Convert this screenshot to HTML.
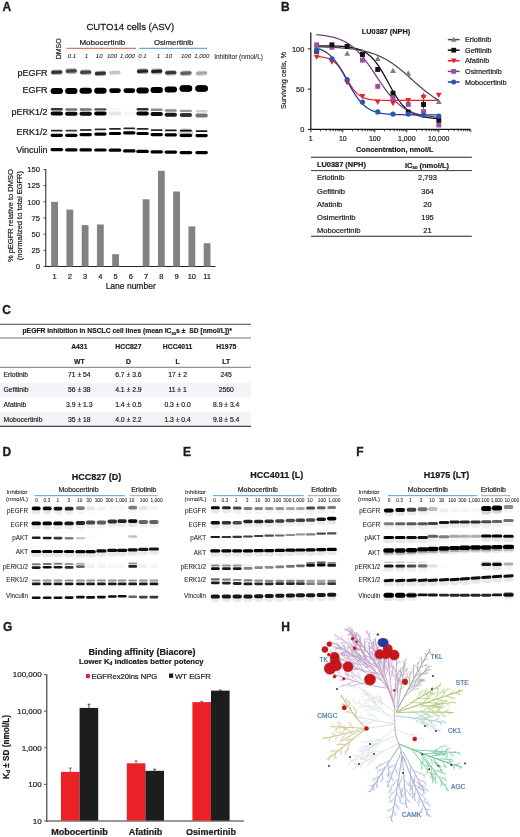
<!DOCTYPE html>
<html lang="en">
<head>
<meta charset="utf-8">
<title>Mobocertinib activity figure</title>
<style>
html,body{margin:0;padding:0;background:#fff;}
body{width:520px;height:837px;overflow:hidden;font-family:"Liberation Sans", sans-serif;}
#figure{position:relative;width:520px;height:837px;background:#fff;overflow:hidden;}
#figure svg{position:absolute;left:0;top:0;display:block;}
text{white-space:pre;stroke-width:.027em;}
</style>
</head>
<body>
<div id="figure">
<svg width="520" height="837" viewBox="0 0 520 837" font-family='"Liberation Sans", sans-serif'>
<defs>
<filter id="blurA" x="-5%" y="-5%" width="110%" height="110%"><feGaussianBlur stdDeviation="0.65"/></filter>
<filter id="blurD" x="-5%" y="-5%" width="110%" height="110%"><feGaussianBlur stdDeviation="0.6"/></filter>
<filter id="blurT" x="-5%" y="-5%" width="110%" height="110%"><feGaussianBlur stdDeviation="0.35"/></filter>
</defs>
<g id="panel-a">
<text x="2.40" y="11.12" font-size="12" font-weight="bold" text-anchor="start" fill="#1c1c1c" stroke="#1c1c1c">A</text>
<text x="130.30" y="30.16" font-size="9.6" text-anchor="middle" fill="#1c1c1c" stroke="#1c1c1c">CUTO14 cells (ASV)</text>
<text x="58.60" y="51.32" font-size="7" text-anchor="middle" fill="#1c1c1c" stroke="#1c1c1c" transform="rotate(-90 58.60 48.80)">DMSO</text>
<text x="102.30" y="45.38" font-size="8" text-anchor="middle" fill="#1c1c1c" stroke="#1c1c1c">Mobocertinib</text>
<text x="173.60" y="45.31" font-size="7.8" text-anchor="middle" fill="#1c1c1c" stroke="#1c1c1c">Osimertinib</text>
<line x1="66.50" y1="48.30" x2="136.00" y2="48.30" stroke="#d9534f" stroke-width="1"/>
<line x1="139.50" y1="48.30" x2="207.00" y2="48.30" stroke="#3d9bc4" stroke-width="1"/>
<text x="72.00" y="58.46" font-size="6.0" font-style="italic" text-anchor="middle" fill="#1c1c1c" stroke="#1c1c1c" style="stroke-width:0.06px">0.1</text>
<text x="86.30" y="58.46" font-size="6.0" font-style="italic" text-anchor="middle" fill="#1c1c1c" stroke="#1c1c1c" style="stroke-width:0.06px">1</text>
<text x="99.20" y="58.46" font-size="6.0" font-style="italic" text-anchor="middle" fill="#1c1c1c" stroke="#1c1c1c" style="stroke-width:0.06px">10</text>
<text x="112.00" y="58.46" font-size="6.0" font-style="italic" text-anchor="middle" fill="#1c1c1c" stroke="#1c1c1c" style="stroke-width:0.06px">100</text>
<text x="127.40" y="58.46" font-size="6.0" font-style="italic" text-anchor="middle" fill="#1c1c1c" stroke="#1c1c1c" style="stroke-width:0.06px">1,000</text>
<text x="142.50" y="58.46" font-size="6.0" font-style="italic" text-anchor="middle" fill="#1c1c1c" stroke="#1c1c1c" style="stroke-width:0.06px">0.1</text>
<text x="158.30" y="58.46" font-size="6.0" font-style="italic" text-anchor="middle" fill="#1c1c1c" stroke="#1c1c1c" style="stroke-width:0.06px">1</text>
<text x="168.70" y="58.46" font-size="6.0" font-style="italic" text-anchor="middle" fill="#1c1c1c" stroke="#1c1c1c" style="stroke-width:0.06px">10</text>
<text x="186.00" y="58.46" font-size="6.0" font-style="italic" text-anchor="middle" fill="#1c1c1c" stroke="#1c1c1c" style="stroke-width:0.06px">100</text>
<text x="201.80" y="58.46" font-size="6.0" font-style="italic" text-anchor="middle" fill="#1c1c1c" stroke="#1c1c1c" style="stroke-width:0.06px">1,000</text>
<text x="214.20" y="58.84" font-size="6.5" text-anchor="start" fill="#1c1c1c" stroke="#1c1c1c" style="stroke-width:0.06px">Inhibitor (nmol/L)</text>
<text x="47.50" y="75.74" font-size="9" text-anchor="end" fill="#1c1c1c" stroke="#1c1c1c">pEGFR</text>
<text x="47.50" y="92.84" font-size="9" text-anchor="end" fill="#1c1c1c" stroke="#1c1c1c">EGFR</text>
<text x="47.50" y="114.54" font-size="9" text-anchor="end" fill="#1c1c1c" stroke="#1c1c1c">pERK1/2</text>
<text x="47.50" y="135.14" font-size="9" text-anchor="end" fill="#1c1c1c" stroke="#1c1c1c">ERK1/2</text>
<text x="47.50" y="152.64" font-size="9" text-anchor="end" fill="#1c1c1c" stroke="#1c1c1c">Vinculin</text>
<g filter="url(#blurA)">
<rect x="51.00" y="69.50" width="11.60" height="5.60" rx="2.80" fill="#000" fill-opacity="0.30"/><rect x="65.50" y="68.30" width="11.60" height="5.60" rx="2.80" fill="#000" fill-opacity="0.30"/><rect x="79.90" y="69.50" width="11.60" height="5.60" rx="2.80" fill="#000" fill-opacity="0.30"/><rect x="94.60" y="70.70" width="11.60" height="5.60" rx="2.80" fill="#000" fill-opacity="0.30"/><rect x="109.20" y="69.90" width="11.60" height="5.60" rx="2.80" fill="#000" fill-opacity="0.08"/><rect x="136.80" y="68.50" width="11.60" height="5.60" rx="2.80" fill="#000" fill-opacity="0.35"/><rect x="150.90" y="68.60" width="11.60" height="5.60" rx="2.80" fill="#000" fill-opacity="0.35"/><rect x="165.00" y="70.00" width="11.60" height="5.60" rx="2.80" fill="#000" fill-opacity="0.30"/><rect x="180.10" y="70.40" width="11.60" height="5.60" rx="2.80" fill="#000" fill-opacity="0.25"/><rect x="195.80" y="70.40" width="11.60" height="5.60" rx="2.80" fill="#000" fill-opacity="0.12"/>
<rect x="51.20" y="70.60" width="11.20" height="3.20" rx="1.60" fill="#000" fill-opacity="0.72" transform="rotate(-3 56.8 72.2)"/><rect x="65.70" y="69.40" width="11.20" height="3.20" rx="1.60" fill="#000" fill-opacity="0.62" transform="rotate(-3 71.3 71.0)"/><rect x="80.10" y="70.60" width="11.20" height="3.20" rx="1.60" fill="#000" fill-opacity="0.64" transform="rotate(-3 85.7 72.2)"/><rect x="94.80" y="71.80" width="11.20" height="3.20" rx="1.60" fill="#000" fill-opacity="0.72" transform="rotate(-3 100.4 73.4)"/><rect x="109.40" y="71.00" width="11.20" height="3.20" rx="1.60" fill="#000" fill-opacity="0.16" transform="rotate(-3 115.0 72.6)"/><rect x="137.00" y="69.60" width="11.20" height="3.20" rx="1.60" fill="#000" fill-opacity="0.78" transform="rotate(-3 142.6 71.2)"/><rect x="151.10" y="69.70" width="11.20" height="3.20" rx="1.60" fill="#000" fill-opacity="0.82" transform="rotate(-3 156.7 71.3)"/><rect x="165.20" y="71.10" width="11.20" height="3.20" rx="1.60" fill="#000" fill-opacity="0.72" transform="rotate(-3 170.8 72.7)"/><rect x="180.30" y="71.50" width="11.20" height="3.20" rx="1.60" fill="#000" fill-opacity="0.50" transform="rotate(-3 185.9 73.1)"/><rect x="196.00" y="71.50" width="11.20" height="3.20" rx="1.60" fill="#000" fill-opacity="0.26" transform="rotate(-3 201.6 73.1)"/>
<rect x="50.60" y="88.00" width="12.40" height="6.00" rx="3.00" fill="#000" fill-opacity="1.00"/><rect x="65.10" y="87.90" width="12.40" height="6.00" rx="3.00" fill="#000" fill-opacity="1.00"/><rect x="79.50" y="87.80" width="12.40" height="6.00" rx="3.00" fill="#000" fill-opacity="1.00"/><rect x="94.20" y="87.80" width="12.40" height="6.00" rx="3.00" fill="#000" fill-opacity="1.00"/><rect x="136.40" y="87.40" width="12.40" height="6.00" rx="3.00" fill="#000" fill-opacity="1.00"/><rect x="150.50" y="87.10" width="12.40" height="6.00" rx="3.00" fill="#000" fill-opacity="1.00"/><rect x="164.60" y="86.50" width="12.40" height="6.00" rx="3.00" fill="#000" fill-opacity="1.00"/><rect x="179.70" y="85.40" width="12.40" height="6.00" rx="3.00" fill="#000" fill-opacity="1.00"/><rect x="195.40" y="85.60" width="12.40" height="6.00" rx="3.00" fill="#000" fill-opacity="1.00"/>
<rect x="109.20" y="88.30" width="11.60" height="4.60" rx="2.30" fill="#000" fill-opacity="1.00"/><rect x="123.50" y="88.30" width="11.60" height="4.60" rx="2.30" fill="#000" fill-opacity="1.00"/>
<rect x="179.60" y="85.20" width="12.60" height="6.60" rx="3.30" fill="#000" fill-opacity="1.00"/><rect x="195.30" y="85.20" width="12.60" height="6.60" rx="3.30" fill="#000" fill-opacity="1.00"/>
<rect x="50.80" y="108.10" width="12.00" height="2.40" rx="1.20" fill="#000" fill-opacity="0.78"/><rect x="65.30" y="108.30" width="12.00" height="2.40" rx="1.20" fill="#000" fill-opacity="0.55"/><rect x="79.70" y="108.30" width="12.00" height="2.40" rx="1.20" fill="#000" fill-opacity="0.55"/><rect x="94.40" y="108.20" width="12.00" height="2.40" rx="1.20" fill="#000" fill-opacity="0.70"/><rect x="109.00" y="108.10" width="12.00" height="2.40" rx="1.20" fill="#000" fill-opacity="0.04"/><rect x="136.60" y="108.10" width="12.00" height="2.40" rx="1.20" fill="#000" fill-opacity="0.80"/><rect x="150.70" y="108.60" width="12.00" height="2.40" rx="1.20" fill="#000" fill-opacity="0.45"/><rect x="164.80" y="109.30" width="12.00" height="2.40" rx="1.20" fill="#000" fill-opacity="0.45"/><rect x="179.90" y="109.70" width="12.00" height="2.40" rx="1.20" fill="#000" fill-opacity="0.40"/><rect x="195.60" y="110.00" width="12.00" height="2.40" rx="1.20" fill="#000" fill-opacity="0.18"/>
<rect x="50.60" y="111.50" width="12.40" height="4.00" rx="2.00" fill="#000" fill-opacity="1.00"/><rect x="65.10" y="111.70" width="12.40" height="4.00" rx="2.00" fill="#000" fill-opacity="0.95"/><rect x="79.50" y="111.70" width="12.40" height="4.00" rx="2.00" fill="#000" fill-opacity="0.95"/><rect x="94.20" y="111.60" width="12.40" height="4.00" rx="2.00" fill="#000" fill-opacity="1.00"/><rect x="108.80" y="111.50" width="12.40" height="4.00" rx="2.00" fill="#000" fill-opacity="0.10"/><rect x="123.10" y="111.50" width="12.40" height="4.00" rx="2.00" fill="#000" fill-opacity="0.03"/><rect x="136.40" y="111.50" width="12.40" height="4.00" rx="2.00" fill="#000" fill-opacity="1.00"/><rect x="150.50" y="112.00" width="12.40" height="4.00" rx="2.00" fill="#000" fill-opacity="0.95"/><rect x="164.60" y="112.70" width="12.40" height="4.00" rx="2.00" fill="#000" fill-opacity="0.90"/><rect x="179.70" y="113.10" width="12.40" height="4.00" rx="2.00" fill="#000" fill-opacity="0.80"/><rect x="195.40" y="113.40" width="12.40" height="4.00" rx="2.00" fill="#000" fill-opacity="0.55"/>
<rect x="50.90" y="129.70" width="11.80" height="1.80" rx="0.90" fill="#000" fill-opacity="0.85"/><rect x="65.40" y="129.70" width="11.80" height="1.80" rx="0.90" fill="#000" fill-opacity="0.78"/><rect x="79.80" y="129.10" width="11.80" height="1.80" rx="0.90" fill="#000" fill-opacity="0.75"/><rect x="94.50" y="128.40" width="11.80" height="1.80" rx="0.90" fill="#000" fill-opacity="0.82"/><rect x="109.10" y="128.00" width="11.80" height="1.80" rx="0.90" fill="#000" fill-opacity="0.85"/><rect x="123.40" y="127.40" width="11.80" height="1.80" rx="0.90" fill="#000" fill-opacity="0.85"/><rect x="136.70" y="128.00" width="11.80" height="1.80" rx="0.90" fill="#000" fill-opacity="0.85"/><rect x="150.80" y="129.30" width="11.80" height="1.80" rx="0.90" fill="#000" fill-opacity="0.85"/><rect x="164.90" y="129.50" width="11.80" height="1.80" rx="0.90" fill="#000" fill-opacity="0.90"/><rect x="180.00" y="129.70" width="11.80" height="1.80" rx="0.90" fill="#000" fill-opacity="1.00"/><rect x="195.70" y="130.20" width="11.80" height="1.80" rx="0.90" fill="#000" fill-opacity="0.90"/>
<rect x="50.60" y="133.70" width="12.40" height="3.20" rx="1.60" fill="#000" fill-opacity="1.00"/><rect x="65.10" y="133.70" width="12.40" height="3.20" rx="1.60" fill="#000" fill-opacity="1.00"/><rect x="79.50" y="133.00" width="12.40" height="3.20" rx="1.60" fill="#000" fill-opacity="1.00"/><rect x="94.20" y="132.50" width="12.40" height="3.20" rx="1.60" fill="#000" fill-opacity="1.00"/><rect x="108.80" y="131.90" width="12.40" height="3.20" rx="1.60" fill="#000" fill-opacity="1.00"/><rect x="123.10" y="131.20" width="12.40" height="3.20" rx="1.60" fill="#000" fill-opacity="1.00"/><rect x="136.40" y="131.90" width="12.40" height="3.20" rx="1.60" fill="#000" fill-opacity="1.00"/><rect x="150.50" y="133.00" width="12.40" height="3.20" rx="1.60" fill="#000" fill-opacity="1.00"/><rect x="164.60" y="133.20" width="12.40" height="3.20" rx="1.60" fill="#000" fill-opacity="1.00"/><rect x="179.70" y="133.80" width="12.40" height="3.20" rx="1.60" fill="#000" fill-opacity="1.00"/><rect x="195.40" y="134.00" width="12.40" height="3.20" rx="1.60" fill="#000" fill-opacity="1.00"/>
<rect x="178.40" y="128.50" width="15.00" height="9.00" rx="4.50" fill="#000" fill-opacity="0.18"/>
<rect x="50.50" y="148.00" width="12.60" height="3.20" rx="1.60" fill="#000" fill-opacity="1.00"/><rect x="65.00" y="148.20" width="12.60" height="3.20" rx="1.60" fill="#000" fill-opacity="1.00"/><rect x="79.40" y="148.30" width="12.60" height="3.20" rx="1.60" fill="#000" fill-opacity="1.00"/><rect x="94.10" y="148.40" width="12.60" height="3.20" rx="1.60" fill="#000" fill-opacity="1.00"/><rect x="108.70" y="148.60" width="12.60" height="3.20" rx="1.60" fill="#000" fill-opacity="1.00"/><rect x="123.00" y="149.30" width="12.60" height="3.20" rx="1.60" fill="#000" fill-opacity="1.00"/><rect x="136.30" y="149.80" width="12.60" height="3.20" rx="1.60" fill="#000" fill-opacity="1.00"/><rect x="150.40" y="150.20" width="12.60" height="3.20" rx="1.60" fill="#000" fill-opacity="1.00"/><rect x="164.50" y="150.50" width="12.60" height="3.20" rx="1.60" fill="#000" fill-opacity="1.00"/><rect x="179.60" y="151.00" width="12.60" height="3.20" rx="1.60" fill="#000" fill-opacity="1.00"/><rect x="195.30" y="151.00" width="12.60" height="3.20" rx="1.60" fill="#000" fill-opacity="1.00"/>
</g>
<line x1="45.80" y1="169.00" x2="45.80" y2="267.00" stroke="#222" stroke-width="1"/>
<line x1="45.30" y1="266.50" x2="215.50" y2="266.50" stroke="#222" stroke-width="1"/>
<line x1="43.60" y1="266.50" x2="45.80" y2="266.50" stroke="#222" stroke-width="0.8"/>
<text x="40.00" y="269.24" font-size="7.6" text-anchor="end" fill="#1c1c1c" stroke="#1c1c1c">0</text>
<line x1="43.60" y1="250.33" x2="45.80" y2="250.33" stroke="#222" stroke-width="0.8"/>
<text x="40.00" y="253.07" font-size="7.6" text-anchor="end" fill="#1c1c1c" stroke="#1c1c1c">25</text>
<line x1="43.60" y1="234.17" x2="45.80" y2="234.17" stroke="#222" stroke-width="0.8"/>
<text x="40.00" y="236.90" font-size="7.6" text-anchor="end" fill="#1c1c1c" stroke="#1c1c1c">50</text>
<line x1="43.60" y1="218.00" x2="45.80" y2="218.00" stroke="#222" stroke-width="0.8"/>
<text x="40.00" y="220.74" font-size="7.6" text-anchor="end" fill="#1c1c1c" stroke="#1c1c1c">75</text>
<line x1="43.60" y1="201.83" x2="45.80" y2="201.83" stroke="#222" stroke-width="0.8"/>
<text x="40.00" y="204.57" font-size="7.6" text-anchor="end" fill="#1c1c1c" stroke="#1c1c1c">100</text>
<line x1="43.60" y1="185.67" x2="45.80" y2="185.67" stroke="#222" stroke-width="0.8"/>
<text x="40.00" y="188.40" font-size="7.6" text-anchor="end" fill="#1c1c1c" stroke="#1c1c1c">125</text>
<line x1="43.60" y1="169.50" x2="45.80" y2="169.50" stroke="#222" stroke-width="0.8"/>
<text x="40.00" y="172.24" font-size="7.6" text-anchor="end" fill="#1c1c1c" stroke="#1c1c1c">150</text>
<rect x="51.20" y="201.83" width="6.80" height="64.67" fill="#828282"/>
<text x="54.60" y="278.50" font-size="7.5" text-anchor="middle" fill="#1c1c1c" stroke="#1c1c1c">1</text>
<rect x="66.45" y="209.59" width="6.80" height="56.91" fill="#828282"/>
<text x="69.85" y="278.50" font-size="7.5" text-anchor="middle" fill="#1c1c1c" stroke="#1c1c1c">2</text>
<rect x="81.70" y="225.11" width="6.80" height="41.39" fill="#828282"/>
<text x="85.10" y="278.50" font-size="7.5" text-anchor="middle" fill="#1c1c1c" stroke="#1c1c1c">3</text>
<rect x="96.95" y="224.47" width="6.80" height="42.03" fill="#828282"/>
<text x="100.35" y="278.50" font-size="7.5" text-anchor="middle" fill="#1c1c1c" stroke="#1c1c1c">4</text>
<rect x="112.20" y="254.21" width="6.80" height="12.29" fill="#828282"/>
<text x="115.60" y="278.50" font-size="7.5" text-anchor="middle" fill="#1c1c1c" stroke="#1c1c1c">5</text>
<text x="130.85" y="278.50" font-size="7.5" text-anchor="middle" fill="#1c1c1c" stroke="#1c1c1c">6</text>
<rect x="142.70" y="199.25" width="6.80" height="67.25" fill="#828282"/>
<text x="146.10" y="278.50" font-size="7.5" text-anchor="middle" fill="#1c1c1c" stroke="#1c1c1c">7</text>
<rect x="157.95" y="170.79" width="6.80" height="95.71" fill="#828282"/>
<text x="161.35" y="278.50" font-size="7.5" text-anchor="middle" fill="#1c1c1c" stroke="#1c1c1c">8</text>
<rect x="173.20" y="191.49" width="6.80" height="75.01" fill="#828282"/>
<text x="176.60" y="278.50" font-size="7.5" text-anchor="middle" fill="#1c1c1c" stroke="#1c1c1c">9</text>
<rect x="188.45" y="226.41" width="6.80" height="40.09" fill="#828282"/>
<text x="191.85" y="278.50" font-size="7.5" text-anchor="middle" fill="#1c1c1c" stroke="#1c1c1c">10</text>
<rect x="203.70" y="243.22" width="6.80" height="23.28" fill="#828282"/>
<text x="207.10" y="278.50" font-size="7.5" text-anchor="middle" fill="#1c1c1c" stroke="#1c1c1c">11</text>
<text x="130.70" y="289.26" font-size="8.5" text-anchor="middle" fill="#1c1c1c" stroke="#1c1c1c">Lane number</text>
<text x="10.30" y="218.30" font-size="7.5" text-anchor="middle" fill="#1c1c1c" stroke="#1c1c1c" transform="rotate(-90 10.30 215.60)">% pEGFR relative to DMSO</text>
<text x="19.80" y="218.30" font-size="7.5" text-anchor="middle" fill="#1c1c1c" stroke="#1c1c1c" transform="rotate(-90 19.80 215.60)">(normalized to total EGFR)</text>
</g>
<g id="panel-b">
<text x="281.00" y="11.12" font-size="12" font-weight="bold" text-anchor="start" fill="#1c1c1c" stroke="#1c1c1c">B</text>
<text x="386.00" y="33.63" font-size="7.3" font-weight="bold" text-anchor="middle" fill="#1c1c1c" stroke="#1c1c1c">LU0387 (NPH)</text>
<line x1="310.80" y1="32.50" x2="310.80" y2="130.00" stroke="#111" stroke-width="1.2"/>
<line x1="310.20" y1="129.40" x2="470.50" y2="129.40" stroke="#111" stroke-width="1.2"/>
<line x1="307.80" y1="129.40" x2="310.80" y2="129.40" stroke="#111" stroke-width="1"/>
<text x="304.30" y="132.06" font-size="7.4" text-anchor="end" fill="#1c1c1c" stroke="#1c1c1c">0</text>
<line x1="307.80" y1="89.15" x2="310.80" y2="89.15" stroke="#111" stroke-width="1"/>
<text x="304.30" y="91.81" font-size="7.4" text-anchor="end" fill="#1c1c1c" stroke="#1c1c1c">50</text>
<line x1="307.80" y1="48.90" x2="310.80" y2="48.90" stroke="#111" stroke-width="1"/>
<text x="304.30" y="51.56" font-size="7.4" text-anchor="end" fill="#1c1c1c" stroke="#1c1c1c">100</text>
<line x1="310.80" y1="129.40" x2="310.80" y2="132.40" stroke="#111" stroke-width="0.85"/>
<line x1="320.43" y1="129.40" x2="320.43" y2="131.30" stroke="#111" stroke-width="0.85"/>
<line x1="326.07" y1="129.40" x2="326.07" y2="131.30" stroke="#111" stroke-width="0.85"/>
<line x1="330.07" y1="129.40" x2="330.07" y2="131.30" stroke="#111" stroke-width="0.85"/>
<line x1="333.17" y1="129.40" x2="333.17" y2="131.30" stroke="#111" stroke-width="0.85"/>
<line x1="335.70" y1="129.40" x2="335.70" y2="131.30" stroke="#111" stroke-width="0.85"/>
<line x1="337.84" y1="129.40" x2="337.84" y2="131.30" stroke="#111" stroke-width="0.85"/>
<line x1="339.70" y1="129.40" x2="339.70" y2="131.30" stroke="#111" stroke-width="0.85"/>
<line x1="341.34" y1="129.40" x2="341.34" y2="131.30" stroke="#111" stroke-width="0.85"/>
<line x1="342.80" y1="129.40" x2="342.80" y2="132.40" stroke="#111" stroke-width="0.85"/>
<line x1="352.43" y1="129.40" x2="352.43" y2="131.30" stroke="#111" stroke-width="0.85"/>
<line x1="358.07" y1="129.40" x2="358.07" y2="131.30" stroke="#111" stroke-width="0.85"/>
<line x1="362.07" y1="129.40" x2="362.07" y2="131.30" stroke="#111" stroke-width="0.85"/>
<line x1="365.17" y1="129.40" x2="365.17" y2="131.30" stroke="#111" stroke-width="0.85"/>
<line x1="367.70" y1="129.40" x2="367.70" y2="131.30" stroke="#111" stroke-width="0.85"/>
<line x1="369.84" y1="129.40" x2="369.84" y2="131.30" stroke="#111" stroke-width="0.85"/>
<line x1="371.70" y1="129.40" x2="371.70" y2="131.30" stroke="#111" stroke-width="0.85"/>
<line x1="373.34" y1="129.40" x2="373.34" y2="131.30" stroke="#111" stroke-width="0.85"/>
<line x1="374.80" y1="129.40" x2="374.80" y2="132.40" stroke="#111" stroke-width="0.85"/>
<line x1="384.43" y1="129.40" x2="384.43" y2="131.30" stroke="#111" stroke-width="0.85"/>
<line x1="390.07" y1="129.40" x2="390.07" y2="131.30" stroke="#111" stroke-width="0.85"/>
<line x1="394.07" y1="129.40" x2="394.07" y2="131.30" stroke="#111" stroke-width="0.85"/>
<line x1="397.17" y1="129.40" x2="397.17" y2="131.30" stroke="#111" stroke-width="0.85"/>
<line x1="399.70" y1="129.40" x2="399.70" y2="131.30" stroke="#111" stroke-width="0.85"/>
<line x1="401.84" y1="129.40" x2="401.84" y2="131.30" stroke="#111" stroke-width="0.85"/>
<line x1="403.70" y1="129.40" x2="403.70" y2="131.30" stroke="#111" stroke-width="0.85"/>
<line x1="405.34" y1="129.40" x2="405.34" y2="131.30" stroke="#111" stroke-width="0.85"/>
<line x1="406.80" y1="129.40" x2="406.80" y2="132.40" stroke="#111" stroke-width="0.85"/>
<line x1="416.43" y1="129.40" x2="416.43" y2="131.30" stroke="#111" stroke-width="0.85"/>
<line x1="422.07" y1="129.40" x2="422.07" y2="131.30" stroke="#111" stroke-width="0.85"/>
<line x1="426.07" y1="129.40" x2="426.07" y2="131.30" stroke="#111" stroke-width="0.85"/>
<line x1="429.17" y1="129.40" x2="429.17" y2="131.30" stroke="#111" stroke-width="0.85"/>
<line x1="431.70" y1="129.40" x2="431.70" y2="131.30" stroke="#111" stroke-width="0.85"/>
<line x1="433.84" y1="129.40" x2="433.84" y2="131.30" stroke="#111" stroke-width="0.85"/>
<line x1="435.70" y1="129.40" x2="435.70" y2="131.30" stroke="#111" stroke-width="0.85"/>
<line x1="437.34" y1="129.40" x2="437.34" y2="131.30" stroke="#111" stroke-width="0.85"/>
<line x1="438.80" y1="129.40" x2="438.80" y2="132.40" stroke="#111" stroke-width="0.85"/>
<line x1="448.43" y1="129.40" x2="448.43" y2="131.30" stroke="#111" stroke-width="0.85"/>
<line x1="454.07" y1="129.40" x2="454.07" y2="131.30" stroke="#111" stroke-width="0.85"/>
<line x1="458.07" y1="129.40" x2="458.07" y2="131.30" stroke="#111" stroke-width="0.85"/>
<line x1="461.17" y1="129.40" x2="461.17" y2="131.30" stroke="#111" stroke-width="0.85"/>
<line x1="463.70" y1="129.40" x2="463.70" y2="131.30" stroke="#111" stroke-width="0.85"/>
<line x1="465.84" y1="129.40" x2="465.84" y2="131.30" stroke="#111" stroke-width="0.85"/>
<line x1="467.70" y1="129.40" x2="467.70" y2="131.30" stroke="#111" stroke-width="0.85"/>
<line x1="469.34" y1="129.40" x2="469.34" y2="131.30" stroke="#111" stroke-width="0.85"/>
<line x1="470.80" y1="129.40" x2="470.80" y2="132.40" stroke="#111" stroke-width="0.7"/>
<text x="310.80" y="140.72" font-size="7" text-anchor="middle" fill="#1c1c1c" stroke="#1c1c1c">1</text>
<text x="342.80" y="140.72" font-size="7" text-anchor="middle" fill="#1c1c1c" stroke="#1c1c1c">10</text>
<text x="374.80" y="140.72" font-size="7" text-anchor="middle" fill="#1c1c1c" stroke="#1c1c1c">100</text>
<text x="406.80" y="140.72" font-size="7" text-anchor="middle" fill="#1c1c1c" stroke="#1c1c1c">1,000</text>
<text x="438.80" y="140.72" font-size="7" text-anchor="middle" fill="#1c1c1c" stroke="#1c1c1c">10,000</text>
<text x="394.70" y="152.43" font-size="7.3" font-weight="bold" text-anchor="middle" fill="#1c1c1c" stroke="#1c1c1c">Concentration, nmol/L</text>
<text x="283.70" y="83.13" font-size="7.3" text-anchor="middle" fill="#1c1c1c" stroke="#1c1c1c" transform="rotate(-90 283.70 80.50)">Surviving cells, %</text>
<polyline points="316.43,46.86 318.47,46.90 320.51,46.95 322.55,47.00 324.59,47.06 326.63,47.13 328.67,47.20 330.71,47.29 332.75,47.38 334.79,47.48 336.83,47.60 338.87,47.72 340.91,47.86 342.95,48.02 344.99,48.19 347.03,48.39 349.07,48.60 351.11,48.84 353.14,49.10 355.18,49.39 357.22,49.72 359.26,50.07 361.30,50.46 363.34,50.90 365.38,51.37 367.42,51.89 369.46,52.47 371.50,53.10 373.54,53.78 375.58,54.53 377.62,55.34 379.66,56.22 381.70,57.17 383.74,58.19 385.78,59.30 387.81,60.47 389.85,61.73 391.89,63.06 393.93,64.47 395.97,65.96 398.01,67.51 400.05,69.13 402.09,70.80 404.13,72.53 406.17,74.30 408.21,76.10 410.25,77.92 412.29,79.76 414.33,81.60 416.37,83.42 418.41,85.23 420.45,87.00 422.48,88.74 424.52,90.42 426.56,92.05 428.60,93.61 430.64,95.10 432.68,96.52 434.72,97.87 436.76,99.13 438.80,100.32" fill="none" stroke="#4a4a4a" stroke-width="1.25"/>
<polyline points="316.43,45.73 318.47,45.75 320.51,45.76 322.55,45.78 324.59,45.80 326.63,45.83 328.67,45.86 330.71,45.91 332.75,45.96 334.79,46.02 336.83,46.10 338.87,46.19 340.91,46.31 342.95,46.45 344.99,46.62 347.03,46.83 349.07,47.09 351.11,47.41 353.14,47.79 355.18,48.25 357.22,48.81 359.26,49.49 361.30,50.30 363.34,51.28 365.38,52.44 367.42,53.81 369.46,55.41 371.50,57.28 373.54,59.43 375.58,61.88 377.62,64.61 379.66,67.64 381.70,70.92 383.74,74.42 385.78,78.08 387.81,81.82 389.85,85.57 391.89,89.26 393.93,92.80 395.97,96.15 398.01,99.24 400.05,102.06 402.09,104.58 404.13,106.80 406.17,108.74 408.21,110.41 410.25,111.84 412.29,113.05 414.33,114.07 416.37,114.93 418.41,115.64 420.45,116.23 422.48,116.72 424.52,117.12 426.56,117.45 428.60,117.72 430.64,117.94 432.68,118.12 434.72,118.27 436.76,118.40 438.80,118.50" fill="none" stroke="#111" stroke-width="1.25"/>
<polyline points="316.43,56.52 318.47,56.67 320.51,56.86 322.55,57.13 324.59,57.49 326.63,57.99 328.67,58.65 330.71,59.53 332.75,60.69 334.79,62.19 336.83,64.07 338.87,66.40 340.91,69.16 342.95,72.30 344.99,75.74 347.03,79.30 349.07,82.81 351.11,86.09 353.14,89.03 355.18,91.54 357.22,93.62 359.26,95.28 361.30,96.57 363.34,97.56 365.38,98.32 367.42,98.88 369.46,99.29 371.50,99.60 373.54,99.82 375.58,99.98 377.62,100.10 379.66,100.19 381.70,100.25 383.74,100.30 385.78,100.33 387.81,100.36 389.85,100.37 391.89,100.39 393.93,100.40 395.97,100.40 398.01,100.41 400.05,100.41 402.09,100.41 404.13,100.42 406.17,100.42 408.21,100.42 410.25,100.42 412.29,100.42 414.33,100.42 416.37,100.42 418.41,100.42 420.45,100.42 422.48,100.42 424.52,100.42 426.56,100.42 428.60,100.42 430.64,100.42 432.68,100.42 434.72,100.42 436.76,100.42 438.80,100.42" fill="none" stroke="#e8212b" stroke-width="1.25"/>
<polyline points="316.43,34.74 318.47,34.92 320.51,35.12 322.55,35.36 324.59,35.63 326.63,35.94 328.67,36.30 330.71,36.71 332.75,37.18 334.79,37.71 336.83,38.33 338.87,39.02 340.91,39.82 342.95,40.72 344.99,41.73 347.03,42.88 349.07,44.16 351.11,45.59 353.14,47.18 355.18,48.94 357.22,50.87 359.26,52.97 361.30,55.25 363.34,57.69 365.38,60.30 367.42,63.05 369.46,65.92 371.50,68.90 373.54,71.95 375.58,75.04 377.62,78.14 379.66,81.21 381.70,84.23 383.74,87.16 385.78,89.98 387.81,92.66 389.85,95.20 391.89,97.56 393.93,99.76 395.97,101.78 398.01,103.63 400.05,105.31 402.09,106.83 404.13,108.19 406.17,109.40 408.21,110.49 410.25,111.45 412.29,112.30 414.33,113.05 416.37,113.70 418.41,114.28 420.45,114.78 422.48,115.23 424.52,115.61 426.56,115.95 428.60,116.24 430.64,116.49 432.68,116.71 434.72,116.90 436.76,117.07 438.80,117.21" fill="none" stroke="#7a3a8a" stroke-width="1.25"/>
<polyline points="316.43,48.15 318.47,48.73 320.51,49.45 322.55,50.31 324.59,51.36 326.63,52.62 328.67,54.12 330.71,55.89 332.75,57.95 334.79,60.34 336.83,63.04 338.87,66.06 340.91,69.36 342.95,72.90 344.99,76.60 347.03,80.40 349.07,84.19 351.11,87.89 353.14,91.42 355.18,94.71 357.22,97.71 359.26,100.39 361.30,102.76 363.34,104.81 365.38,106.56 367.42,108.05 369.46,109.29 371.50,110.33 373.54,111.19 375.58,111.89 377.62,112.47 379.66,112.94 381.70,113.32 383.74,113.63 385.78,113.88 387.81,114.08 389.85,114.24 391.89,114.37 393.93,114.48 395.97,114.56 398.01,114.63 400.05,114.69 402.09,114.73 404.13,114.77 406.17,114.79 408.21,114.82 410.25,114.84 412.29,114.85 414.33,114.86 416.37,114.87 418.41,114.88 420.45,114.89 422.48,114.89 424.52,114.89 426.56,114.90 428.60,114.90 430.64,114.90 432.68,114.90 434.72,114.90 436.76,114.91 438.80,114.91" fill="none" stroke="#1f3f8f" stroke-width="1.25"/>
<line x1="438.80" y1="115.72" x2="438.80" y2="124.57" stroke="#111" stroke-width="0.9"/>
<line x1="423.53" y1="100.42" x2="423.53" y2="108.47" stroke="#111" stroke-width="0.9"/>
<polygon points="316.66,43.59 319.56,48.80 313.76,48.80" fill="#7d7d7d"/>
<polygon points="331.92,42.78 334.82,48.00 329.02,48.00" fill="#7d7d7d"/>
<polygon points="347.19,50.43 350.09,55.65 344.29,55.65" fill="#7d7d7d"/>
<polygon points="362.46,48.41 365.36,53.63 359.56,53.63" fill="#7d7d7d"/>
<polygon points="377.73,55.66 380.63,60.88 374.83,60.88" fill="#7d7d7d"/>
<polygon points="393.00,67.73 395.90,72.95 390.10,72.95" fill="#7d7d7d"/>
<polygon points="408.26,70.55 411.16,75.77 405.36,75.77" fill="#7d7d7d"/>
<polygon points="423.53,92.29 426.43,97.51 420.63,97.51" fill="#7d7d7d"/>
<polygon points="438.80,98.73 441.70,103.95 435.90,103.95" fill="#7d7d7d"/>
<rect x="314.19" y="42.41" width="4.93" height="4.93" fill="#9a4fa6"/>
<rect x="329.46" y="44.83" width="4.93" height="4.93" fill="#9a4fa6"/>
<rect x="344.73" y="44.02" width="4.93" height="4.93" fill="#9a4fa6"/>
<rect x="360.00" y="57.70" width="4.93" height="4.93" fill="#9a4fa6"/>
<rect x="375.26" y="83.87" width="4.93" height="4.93" fill="#9a4fa6"/>
<rect x="390.53" y="95.94" width="4.93" height="4.93" fill="#9a4fa6"/>
<rect x="405.80" y="101.98" width="4.93" height="4.93" fill="#9a4fa6"/>
<rect x="421.07" y="109.22" width="4.93" height="4.93" fill="#9a4fa6"/>
<rect x="436.34" y="122.51" width="4.93" height="4.93" fill="#9a4fa6"/>
<rect x="314.19" y="48.85" width="4.93" height="4.93" fill="#111"/>
<rect x="329.46" y="42.41" width="4.93" height="4.93" fill="#111"/>
<rect x="344.73" y="44.02" width="4.93" height="4.93" fill="#111"/>
<rect x="360.00" y="52.07" width="4.93" height="4.93" fill="#111"/>
<rect x="375.26" y="66.96" width="4.93" height="4.93" fill="#111"/>
<rect x="390.53" y="90.71" width="4.93" height="4.93" fill="#111"/>
<rect x="405.80" y="109.63" width="4.93" height="4.93" fill="#111"/>
<rect x="421.07" y="101.98" width="4.93" height="4.93" fill="#111"/>
<rect x="436.34" y="117.68" width="4.93" height="4.93" fill="#111"/>
<polygon points="316.66,59.85 319.56,54.63 313.76,54.63" fill="#e8212b"/>
<polygon points="331.92,64.68 334.82,59.46 329.02,59.46" fill="#e8212b"/>
<polygon points="347.19,85.61 350.09,80.39 344.29,80.39" fill="#e8212b"/>
<polygon points="362.46,99.30 365.36,94.08 359.56,94.08" fill="#e8212b"/>
<polygon points="377.73,104.93 380.63,99.71 374.83,99.71" fill="#e8212b"/>
<polygon points="393.00,106.14 395.90,100.92 390.10,100.92" fill="#e8212b"/>
<polygon points="408.26,103.32 411.16,98.10 405.36,98.10" fill="#e8212b"/>
<polygon points="423.53,100.10 426.43,94.88 420.63,94.88" fill="#e8212b"/>
<polygon points="438.80,98.09 441.70,92.87 435.90,92.87" fill="#e8212b"/>
<circle cx="316.66" cy="50.51" r="2.61" fill="#2a57b5"/>
<circle cx="331.92" cy="58.96" r="2.61" fill="#2a57b5"/>
<circle cx="347.19" cy="79.49" r="2.61" fill="#2a57b5"/>
<circle cx="362.46" cy="102.03" r="2.61" fill="#2a57b5"/>
<circle cx="377.73" cy="111.93" r="2.61" fill="#2a57b5"/>
<circle cx="393.00" cy="114.11" r="2.61" fill="#2a57b5"/>
<circle cx="408.26" cy="114.11" r="2.61" fill="#2a57b5"/>
<circle cx="423.53" cy="115.31" r="2.61" fill="#2a57b5"/>
<circle cx="438.80" cy="116.12" r="2.61" fill="#2a57b5"/>
<line x1="447.80" y1="39.60" x2="459.60" y2="39.60" stroke="#4a4a4a" stroke-width="1.5"/>
<polygon points="453.70,36.80 456.50,41.84 450.90,41.84" fill="#7d7d7d"/>
<text x="465.00" y="42.21" font-size="7.25" text-anchor="start" fill="#1c1c1c" stroke="#1c1c1c">Erlotinib</text>
<line x1="447.80" y1="50.20" x2="459.60" y2="50.20" stroke="#111" stroke-width="1.5"/>
<rect x="451.32" y="47.82" width="4.76" height="4.76" fill="#111"/>
<text x="465.00" y="52.81" font-size="7.25" text-anchor="start" fill="#1c1c1c" stroke="#1c1c1c">Gefitinib</text>
<line x1="447.80" y1="60.80" x2="459.60" y2="60.80" stroke="#e8212b" stroke-width="1.5"/>
<polygon points="453.70,63.60 456.50,58.56 450.90,58.56" fill="#e8212b"/>
<text x="465.00" y="63.41" font-size="7.25" text-anchor="start" fill="#1c1c1c" stroke="#1c1c1c">Afatinib</text>
<line x1="447.80" y1="71.40" x2="459.60" y2="71.40" stroke="#7a3a8a" stroke-width="1.5"/>
<rect x="451.32" y="69.02" width="4.76" height="4.76" fill="#9a4fa6"/>
<text x="465.00" y="74.01" font-size="7.25" text-anchor="start" fill="#1c1c1c" stroke="#1c1c1c">Osimertinib</text>
<line x1="447.80" y1="82.00" x2="459.60" y2="82.00" stroke="#1f3f8f" stroke-width="1.5"/>
<circle cx="453.70" cy="82.00" r="2.52" fill="#2a57b5"/>
<text x="465.00" y="84.61" font-size="7.25" text-anchor="start" fill="#1c1c1c" stroke="#1c1c1c">Mobocertinib</text>
<line x1="311.00" y1="157.30" x2="471.80" y2="157.30" stroke="#222" stroke-width="1.1"/>
<line x1="311.00" y1="170.60" x2="471.80" y2="170.60" stroke="#222" stroke-width="0.9"/>
<line x1="311.00" y1="236.30" x2="471.80" y2="236.30" stroke="#222" stroke-width="1.1"/>
<text x="317.00" y="167.46" font-size="7.4" font-weight="bold" text-anchor="start" fill="#1c1c1c" stroke="#1c1c1c">LU0387 (NPH)</text>
<text x="405" y="167.5" font-size="7.5" font-weight="bold" fill="#1c1c1c" stroke="#1c1c1c">IC<tspan font-size="4.4" dy="1.6">50</tspan><tspan dy="-1.6"> (nmol/L)</tspan></text>
<text x="317.00" y="180.44" font-size="7.6" text-anchor="start" fill="#1c1c1c" stroke="#1c1c1c">Erlotinib</text>
<text x="427.50" y="180.40" font-size="7.5" text-anchor="middle" fill="#1c1c1c" stroke="#1c1c1c">2,793</text>
<text x="317.00" y="193.64" font-size="7.6" text-anchor="start" fill="#1c1c1c" stroke="#1c1c1c">Gefitinib</text>
<text x="427.50" y="193.60" font-size="7.5" text-anchor="middle" fill="#1c1c1c" stroke="#1c1c1c">364</text>
<text x="317.00" y="206.84" font-size="7.6" text-anchor="start" fill="#1c1c1c" stroke="#1c1c1c">Afatinib</text>
<text x="427.50" y="206.80" font-size="7.5" text-anchor="middle" fill="#1c1c1c" stroke="#1c1c1c">20</text>
<text x="317.00" y="220.04" font-size="7.6" text-anchor="start" fill="#1c1c1c" stroke="#1c1c1c">Osimertinib</text>
<text x="427.50" y="220.00" font-size="7.5" text-anchor="middle" fill="#1c1c1c" stroke="#1c1c1c">195</text>
<text x="317.00" y="233.24" font-size="7.6" text-anchor="start" fill="#1c1c1c" stroke="#1c1c1c">Mobocertinib</text>
<text x="427.50" y="233.20" font-size="7.5" text-anchor="middle" fill="#1c1c1c" stroke="#1c1c1c">21</text>
</g>
<g id="panel-c">
<text x="2.20" y="314.22" font-size="12" font-weight="bold" text-anchor="start" fill="#1c1c1c" stroke="#1c1c1c">C</text>
<rect x="0.00" y="382.60" width="251.00" height="14.20" fill="#f2f4f7"/>
<rect x="0.00" y="411.80" width="251.00" height="14.20" fill="#f2f4f7"/>
<line x1="0.00" y1="324.30" x2="251.00" y2="324.30" stroke="#444" stroke-width="1.1"/>
<line x1="0.00" y1="338.00" x2="251.00" y2="338.00" stroke="#555" stroke-width="0.8"/>
<line x1="0.00" y1="367.30" x2="251.00" y2="367.30" stroke="#555" stroke-width="0.8"/>
<line x1="0.00" y1="426.40" x2="251.00" y2="426.40" stroke="#444" stroke-width="1.1"/>
<text x="22.5" y="333.4" font-size="6.75" font-weight="bold" fill="#1c1c1c" stroke="#1c1c1c">pEGFR inhibition in NSCLC cell lines (mean IC<tspan font-size="4.2" dy="1.6">50</tspan><tspan dy="-1.6">s ±  SD [nmol/L])*</tspan></text>
<text x="79.30" y="349.15" font-size="6.8" font-weight="bold" text-anchor="middle" fill="#1c1c1c" stroke="#1c1c1c">A431</text>
<text x="79.30" y="363.65" font-size="6.8" font-weight="bold" text-anchor="middle" fill="#1c1c1c" stroke="#1c1c1c">WT</text>
<text x="128.40" y="349.15" font-size="6.8" font-weight="bold" text-anchor="middle" fill="#1c1c1c" stroke="#1c1c1c">HCC827</text>
<text x="128.40" y="363.65" font-size="6.8" font-weight="bold" text-anchor="middle" fill="#1c1c1c" stroke="#1c1c1c">D</text>
<text x="177.60" y="349.15" font-size="6.8" font-weight="bold" text-anchor="middle" fill="#1c1c1c" stroke="#1c1c1c">HCC4011</text>
<text x="177.60" y="363.65" font-size="6.8" font-weight="bold" text-anchor="middle" fill="#1c1c1c" stroke="#1c1c1c">L</text>
<text x="226.20" y="349.15" font-size="6.8" font-weight="bold" text-anchor="middle" fill="#1c1c1c" stroke="#1c1c1c">H1975</text>
<text x="226.20" y="363.65" font-size="6.8" font-weight="bold" text-anchor="middle" fill="#1c1c1c" stroke="#1c1c1c">LT</text>
<text x="3.50" y="377.35" font-size="6.8" text-anchor="start" fill="#1c1c1c" stroke="#1c1c1c">Erlotinib</text>
<text x="79.30" y="377.35" font-size="6.8" text-anchor="middle" fill="#1c1c1c" stroke="#1c1c1c">71 ± 54</text>
<text x="128.40" y="377.35" font-size="6.8" text-anchor="middle" fill="#1c1c1c" stroke="#1c1c1c">6.7 ± 3.6</text>
<text x="177.60" y="377.35" font-size="6.8" text-anchor="middle" fill="#1c1c1c" stroke="#1c1c1c">17 ± 2</text>
<text x="226.20" y="377.35" font-size="6.8" text-anchor="middle" fill="#1c1c1c" stroke="#1c1c1c">245</text>
<text x="3.50" y="392.15" font-size="6.8" text-anchor="start" fill="#1c1c1c" stroke="#1c1c1c">Gefitinib</text>
<text x="79.30" y="392.15" font-size="6.8" text-anchor="middle" fill="#1c1c1c" stroke="#1c1c1c">56 ± 38</text>
<text x="128.40" y="392.15" font-size="6.8" text-anchor="middle" fill="#1c1c1c" stroke="#1c1c1c">4.1 ± 2.9</text>
<text x="177.60" y="392.15" font-size="6.8" text-anchor="middle" fill="#1c1c1c" stroke="#1c1c1c">11 ± 1</text>
<text x="226.20" y="392.15" font-size="6.8" text-anchor="middle" fill="#1c1c1c" stroke="#1c1c1c">2560</text>
<text x="3.50" y="406.95" font-size="6.8" text-anchor="start" fill="#1c1c1c" stroke="#1c1c1c">Afatinib</text>
<text x="79.30" y="406.95" font-size="6.8" text-anchor="middle" fill="#1c1c1c" stroke="#1c1c1c">3.9 ± 1.3</text>
<text x="128.40" y="406.95" font-size="6.8" text-anchor="middle" fill="#1c1c1c" stroke="#1c1c1c">1.4 ± 0.5</text>
<text x="177.60" y="406.95" font-size="6.8" text-anchor="middle" fill="#1c1c1c" stroke="#1c1c1c">0.3 ± 0.0</text>
<text x="226.20" y="406.95" font-size="6.8" text-anchor="middle" fill="#1c1c1c" stroke="#1c1c1c">8.9 ± 3.4</text>
<text x="3.50" y="421.75" font-size="6.8" text-anchor="start" fill="#1c1c1c" stroke="#1c1c1c">Mobocertinib</text>
<text x="79.30" y="421.75" font-size="6.8" text-anchor="middle" fill="#1c1c1c" stroke="#1c1c1c">35 ± 18</text>
<text x="128.40" y="421.75" font-size="6.8" text-anchor="middle" fill="#1c1c1c" stroke="#1c1c1c">4.0 ± 2.2</text>
<text x="177.60" y="421.75" font-size="6.8" text-anchor="middle" fill="#1c1c1c" stroke="#1c1c1c">1.3 ± 0.4</text>
<text x="226.20" y="421.75" font-size="6.8" text-anchor="middle" fill="#1c1c1c" stroke="#1c1c1c">9.8 ± 5.4</text>
</g>
<g id="panel-d">
<text x="2.60" y="456.32" font-size="12" font-weight="bold" text-anchor="start" fill="#1c1c1c" stroke="#1c1c1c">D</text>
<text x="96.50" y="479.74" font-size="9" font-weight="bold" text-anchor="middle" fill="#1c1c1c" stroke="#1c1c1c">HCC827 (D)</text>
<text x="78.50" y="492.02" font-size="7" text-anchor="middle" fill="#1c1c1c" stroke="#1c1c1c">Mobocertinib</text>
<text x="143.80" y="492.02" font-size="7" text-anchor="middle" fill="#1c1c1c" stroke="#1c1c1c">Erlotinib</text>
<line x1="34.60" y1="495.70" x2="124.60" y2="495.70" stroke="#3d8fc9" stroke-width="0.9"/>
<line x1="129.80" y1="495.70" x2="158.00" y2="495.70" stroke="#999" stroke-width="0.9"/>
<text x="17.00" y="493.64" font-size="5.95" text-anchor="middle" fill="#1c1c1c" stroke="#1c1c1c" style="stroke-width:0.06px">Inhibitor</text>
<text x="17.00" y="501.34" font-size="5.95" text-anchor="middle" fill="#1c1c1c" stroke="#1c1c1c" style="stroke-width:0.06px">(nmol/L)</text>
<text x="36.50" y="502.35" font-size="4.85" text-anchor="middle" fill="#1c1c1c" stroke="#1c1c1c" style="stroke-width:0.06px">0</text>
<text x="46.75" y="502.35" font-size="4.85" text-anchor="middle" fill="#1c1c1c" stroke="#1c1c1c" style="stroke-width:0.06px">0.3</text>
<text x="57.75" y="502.35" font-size="4.85" text-anchor="middle" fill="#1c1c1c" stroke="#1c1c1c" style="stroke-width:0.06px">1</text>
<text x="68.75" y="502.35" font-size="4.85" text-anchor="middle" fill="#1c1c1c" stroke="#1c1c1c" style="stroke-width:0.06px">3</text>
<text x="79.80" y="502.35" font-size="4.85" text-anchor="middle" fill="#1c1c1c" stroke="#1c1c1c" style="stroke-width:0.06px">10</text>
<text x="88.90" y="502.35" font-size="4.85" text-anchor="middle" fill="#1c1c1c" stroke="#1c1c1c" style="stroke-width:0.06px">30</text>
<text x="98.70" y="502.35" font-size="4.85" text-anchor="middle" fill="#1c1c1c" stroke="#1c1c1c" style="stroke-width:0.06px">100</text>
<text x="109.30" y="502.35" font-size="4.85" text-anchor="middle" fill="#1c1c1c" stroke="#1c1c1c" style="stroke-width:0.06px">300</text>
<text x="121.20" y="502.35" font-size="4.85" text-anchor="middle" fill="#1c1c1c" stroke="#1c1c1c" style="stroke-width:0.06px">1,000</text>
<text x="131.80" y="502.35" font-size="4.85" text-anchor="middle" fill="#1c1c1c" stroke="#1c1c1c" style="stroke-width:0.06px">10</text>
<text x="143.80" y="502.35" font-size="4.85" text-anchor="middle" fill="#1c1c1c" stroke="#1c1c1c" style="stroke-width:0.06px">100</text>
<text x="156.60" y="502.35" font-size="4.85" text-anchor="middle" fill="#1c1c1c" stroke="#1c1c1c" style="stroke-width:0.06px">1,000</text>
<text x="28.00" y="512.77" font-size="6.3" text-anchor="end" fill="#1c1c1c" stroke="#1c1c1c" style="stroke-width:0.06px">pEGFR</text>
<text x="28.00" y="526.57" font-size="6.3" text-anchor="end" fill="#1c1c1c" stroke="#1c1c1c" style="stroke-width:0.06px">EGFR</text>
<text x="28.00" y="539.97" font-size="6.3" text-anchor="end" fill="#1c1c1c" stroke="#1c1c1c" style="stroke-width:0.06px">pAKT</text>
<text x="28.00" y="554.27" font-size="6.3" text-anchor="end" fill="#1c1c1c" stroke="#1c1c1c" style="stroke-width:0.06px">AKT</text>
<text x="28.00" y="568.77" font-size="6.3" text-anchor="end" fill="#1c1c1c" stroke="#1c1c1c" style="stroke-width:0.06px">pERK1/2</text>
<text x="28.00" y="581.57" font-size="6.3" text-anchor="end" fill="#1c1c1c" stroke="#1c1c1c" style="stroke-width:0.06px">ERK1/2</text>
<text x="28.00" y="597.57" font-size="6.3" text-anchor="end" fill="#1c1c1c" stroke="#1c1c1c" style="stroke-width:0.06px">Vinculin</text>
<g filter="url(#blurD)">
<rect x="31.75" y="507.75" width="8.90" height="6.50" rx="3.25" fill="#000" fill-opacity="0.09"/><rect x="42.75" y="507.75" width="8.90" height="6.50" rx="3.25" fill="#000" fill-opacity="0.09"/><rect x="53.55" y="507.95" width="8.90" height="6.50" rx="3.25" fill="#000" fill-opacity="0.08"/><rect x="64.65" y="508.05" width="8.90" height="6.50" rx="3.25" fill="#000" fill-opacity="0.08"/><rect x="75.95" y="507.45" width="8.90" height="6.50" rx="3.25" fill="#000" fill-opacity="0.04"/><rect x="86.15" y="507.75" width="8.90" height="6.50" rx="3.25" fill="#000" fill-opacity="0.01"/><rect x="128.25" y="506.95" width="8.90" height="6.50" rx="3.25" fill="#000" fill-opacity="0.04"/><rect x="138.85" y="507.25" width="8.90" height="6.50" rx="3.25" fill="#000" fill-opacity="0.01"/>
<rect x="31.75" y="506.50" width="8.90" height="3.80" rx="1.90" fill="#000" fill-opacity="1.00"/><rect x="42.75" y="506.50" width="8.90" height="3.80" rx="1.90" fill="#000" fill-opacity="0.95"/><rect x="53.55" y="506.70" width="8.90" height="3.80" rx="1.90" fill="#000" fill-opacity="0.92"/><rect x="64.65" y="506.80" width="8.90" height="3.80" rx="1.90" fill="#000" fill-opacity="0.85"/><rect x="75.95" y="506.20" width="8.90" height="3.80" rx="1.90" fill="#000" fill-opacity="0.50"/><rect x="86.15" y="506.50" width="8.90" height="3.80" rx="1.90" fill="#000" fill-opacity="0.10"/><rect x="96.95" y="506.50" width="8.90" height="3.80" rx="1.90" fill="#000" fill-opacity="0.05"/><rect x="107.85" y="506.50" width="8.90" height="3.80" rx="1.90" fill="#000" fill-opacity="0.03"/><rect x="117.65" y="506.50" width="8.90" height="3.80" rx="1.90" fill="#000" fill-opacity="0.03"/><rect x="128.25" y="505.70" width="8.90" height="3.80" rx="1.90" fill="#000" fill-opacity="0.50"/><rect x="138.85" y="506.00" width="8.90" height="3.80" rx="1.90" fill="#000" fill-opacity="0.10"/><rect x="149.45" y="506.00" width="8.90" height="3.80" rx="1.90" fill="#000" fill-opacity="0.04"/>
<rect x="31.45" y="522.75" width="9.50" height="6.50" rx="3.25" fill="#000" fill-opacity="0.09"/><rect x="42.45" y="522.75" width="9.50" height="6.50" rx="3.25" fill="#000" fill-opacity="0.09"/><rect x="53.25" y="522.75" width="9.50" height="6.50" rx="3.25" fill="#000" fill-opacity="0.09"/><rect x="64.35" y="522.75" width="9.50" height="6.50" rx="3.25" fill="#000" fill-opacity="0.08"/><rect x="75.65" y="522.35" width="9.50" height="6.50" rx="3.25" fill="#000" fill-opacity="0.08"/><rect x="85.85" y="521.85" width="9.50" height="6.50" rx="3.25" fill="#000" fill-opacity="0.06"/><rect x="96.65" y="521.85" width="9.50" height="6.50" rx="3.25" fill="#000" fill-opacity="0.06"/><rect x="107.55" y="520.85" width="9.50" height="6.50" rx="3.25" fill="#000" fill-opacity="0.07"/><rect x="117.35" y="520.45" width="9.50" height="6.50" rx="3.25" fill="#000" fill-opacity="0.08"/><rect x="127.95" y="520.45" width="9.50" height="6.50" rx="3.25" fill="#000" fill-opacity="0.09"/><rect x="138.55" y="521.35" width="9.50" height="6.50" rx="3.25" fill="#000" fill-opacity="0.05"/><rect x="149.15" y="521.35" width="9.50" height="6.50" rx="3.25" fill="#000" fill-opacity="0.05"/>
<rect x="31.45" y="521.50" width="9.50" height="3.80" rx="1.90" fill="#000" fill-opacity="1.00"/><rect x="42.45" y="521.50" width="9.50" height="3.80" rx="1.90" fill="#000" fill-opacity="1.00"/><rect x="53.25" y="521.50" width="9.50" height="3.80" rx="1.90" fill="#000" fill-opacity="1.00"/><rect x="64.35" y="521.50" width="9.50" height="3.80" rx="1.90" fill="#000" fill-opacity="0.90"/><rect x="75.65" y="521.10" width="9.50" height="3.80" rx="1.90" fill="#000" fill-opacity="0.85"/><rect x="85.85" y="520.60" width="9.50" height="3.80" rx="1.90" fill="#000" fill-opacity="0.70"/><rect x="96.65" y="520.60" width="9.50" height="3.80" rx="1.90" fill="#000" fill-opacity="0.62"/><rect x="107.55" y="519.60" width="9.50" height="3.80" rx="1.90" fill="#000" fill-opacity="0.80"/><rect x="117.35" y="519.20" width="9.50" height="3.80" rx="1.90" fill="#000" fill-opacity="0.85"/><rect x="127.95" y="519.20" width="9.50" height="3.80" rx="1.90" fill="#000" fill-opacity="0.95"/><rect x="138.55" y="520.10" width="9.50" height="3.80" rx="1.90" fill="#000" fill-opacity="0.60"/><rect x="149.15" y="520.10" width="9.50" height="3.80" rx="1.90" fill="#000" fill-opacity="0.60"/>
<rect x="31.75" y="536.40" width="8.90" height="2.60" rx="1.30" fill="#000" fill-opacity="0.90"/><rect x="42.75" y="536.70" width="8.90" height="2.60" rx="1.30" fill="#000" fill-opacity="0.90"/><rect x="53.55" y="536.80" width="8.90" height="2.60" rx="1.30" fill="#000" fill-opacity="0.80"/><rect x="64.65" y="536.90" width="8.90" height="2.60" rx="1.30" fill="#000" fill-opacity="0.50"/><rect x="75.95" y="537.00" width="8.90" height="2.60" rx="1.30" fill="#000" fill-opacity="0.22"/><rect x="86.15" y="536.40" width="8.90" height="2.60" rx="1.30" fill="#000" fill-opacity="0.02"/><rect x="128.25" y="535.20" width="8.90" height="2.60" rx="1.30" fill="#000" fill-opacity="0.25"/>
<rect x="31.05" y="550.85" width="10.30" height="6.50" rx="3.25" fill="#000" fill-opacity="0.09"/><rect x="42.05" y="550.85" width="10.30" height="6.50" rx="3.25" fill="#000" fill-opacity="0.09"/><rect x="52.85" y="550.85" width="10.30" height="6.50" rx="3.25" fill="#000" fill-opacity="0.09"/><rect x="63.95" y="550.85" width="10.30" height="6.50" rx="3.25" fill="#000" fill-opacity="0.09"/><rect x="75.25" y="551.05" width="10.30" height="6.50" rx="3.25" fill="#000" fill-opacity="0.09"/><rect x="85.45" y="551.05" width="10.30" height="6.50" rx="3.25" fill="#000" fill-opacity="0.09"/><rect x="96.25" y="550.25" width="10.30" height="6.50" rx="3.25" fill="#000" fill-opacity="0.09"/><rect x="107.15" y="549.65" width="10.30" height="6.50" rx="3.25" fill="#000" fill-opacity="0.09"/><rect x="116.95" y="549.65" width="10.30" height="6.50" rx="3.25" fill="#000" fill-opacity="0.09"/><rect x="127.55" y="549.15" width="10.30" height="6.50" rx="3.25" fill="#000" fill-opacity="0.09"/><rect x="138.15" y="548.75" width="10.30" height="6.50" rx="3.25" fill="#000" fill-opacity="0.08"/><rect x="148.75" y="548.35" width="10.30" height="6.50" rx="3.25" fill="#000" fill-opacity="0.08"/>
<rect x="31.05" y="549.90" width="10.30" height="3.20" rx="1.60" fill="#000" fill-opacity="1.00"/><rect x="42.05" y="549.90" width="10.30" height="3.20" rx="1.60" fill="#000" fill-opacity="1.00"/><rect x="52.85" y="549.90" width="10.30" height="3.20" rx="1.60" fill="#000" fill-opacity="1.00"/><rect x="63.95" y="549.90" width="10.30" height="3.20" rx="1.60" fill="#000" fill-opacity="1.00"/><rect x="75.25" y="550.10" width="10.30" height="3.20" rx="1.60" fill="#000" fill-opacity="1.00"/><rect x="85.45" y="550.10" width="10.30" height="3.20" rx="1.60" fill="#000" fill-opacity="1.00"/><rect x="96.25" y="549.30" width="10.30" height="3.20" rx="1.60" fill="#000" fill-opacity="0.95"/><rect x="107.15" y="548.70" width="10.30" height="3.20" rx="1.60" fill="#000" fill-opacity="0.95"/><rect x="116.95" y="548.70" width="10.30" height="3.20" rx="1.60" fill="#000" fill-opacity="0.95"/><rect x="127.55" y="548.20" width="10.30" height="3.20" rx="1.60" fill="#000" fill-opacity="0.95"/><rect x="138.15" y="547.80" width="10.30" height="3.20" rx="1.60" fill="#000" fill-opacity="0.90"/><rect x="148.75" y="547.40" width="10.30" height="3.20" rx="1.60" fill="#000" fill-opacity="0.90"/>
<rect x="31.75" y="563.20" width="8.90" height="2.00" rx="1.00" fill="#000" fill-opacity="0.50"/><rect x="42.75" y="562.90" width="8.90" height="2.00" rx="1.00" fill="#000" fill-opacity="0.55"/><rect x="53.55" y="562.80" width="8.90" height="2.00" rx="1.00" fill="#000" fill-opacity="0.50"/><rect x="64.65" y="563.00" width="8.90" height="2.00" rx="1.00" fill="#000" fill-opacity="0.40"/><rect x="75.95" y="562.80" width="8.90" height="2.00" rx="1.00" fill="#000" fill-opacity="0.30"/><rect x="86.15" y="563.20" width="8.90" height="2.00" rx="1.00" fill="#000" fill-opacity="0.03"/><rect x="96.95" y="563.20" width="8.90" height="2.00" rx="1.00" fill="#000" fill-opacity="0.03"/><rect x="107.85" y="563.20" width="8.90" height="2.00" rx="1.00" fill="#000" fill-opacity="0.02"/><rect x="117.65" y="563.20" width="8.90" height="2.00" rx="1.00" fill="#000" fill-opacity="0.02"/><rect x="128.25" y="562.60" width="8.90" height="2.00" rx="1.00" fill="#000" fill-opacity="0.40"/><rect x="138.85" y="563.20" width="8.90" height="2.00" rx="1.00" fill="#000" fill-opacity="0.03"/><rect x="149.45" y="563.20" width="8.90" height="2.00" rx="1.00" fill="#000" fill-opacity="0.02"/>
<rect x="31.75" y="566.30" width="8.90" height="2.60" rx="1.30" fill="#000" fill-opacity="0.90"/><rect x="42.75" y="566.00" width="8.90" height="2.60" rx="1.30" fill="#000" fill-opacity="0.95"/><rect x="53.55" y="565.90" width="8.90" height="2.60" rx="1.30" fill="#000" fill-opacity="0.90"/><rect x="64.65" y="566.10" width="8.90" height="2.60" rx="1.30" fill="#000" fill-opacity="0.80"/><rect x="75.95" y="565.30" width="8.90" height="2.60" rx="1.30" fill="#000" fill-opacity="0.60"/><rect x="86.15" y="565.30" width="8.90" height="2.60" rx="1.30" fill="#000" fill-opacity="0.07"/><rect x="96.95" y="565.30" width="8.90" height="2.60" rx="1.30" fill="#000" fill-opacity="0.05"/><rect x="107.85" y="565.30" width="8.90" height="2.60" rx="1.30" fill="#000" fill-opacity="0.04"/><rect x="117.65" y="565.30" width="8.90" height="2.60" rx="1.30" fill="#000" fill-opacity="0.03"/><rect x="128.25" y="565.10" width="8.90" height="2.60" rx="1.30" fill="#000" fill-opacity="0.85"/><rect x="138.85" y="565.30" width="8.90" height="2.60" rx="1.30" fill="#000" fill-opacity="0.07"/><rect x="149.45" y="565.30" width="8.90" height="2.60" rx="1.30" fill="#000" fill-opacity="0.04"/>
<rect x="31.75" y="579.50" width="8.90" height="2.00" rx="1.00" fill="#000" fill-opacity="0.42"/><rect x="42.75" y="579.50" width="8.90" height="2.00" rx="1.00" fill="#000" fill-opacity="0.42"/><rect x="53.55" y="579.50" width="8.90" height="2.00" rx="1.00" fill="#000" fill-opacity="0.42"/><rect x="64.65" y="579.50" width="8.90" height="2.00" rx="1.00" fill="#000" fill-opacity="0.42"/><rect x="75.95" y="579.50" width="8.90" height="2.00" rx="1.00" fill="#000" fill-opacity="0.42"/><rect x="86.15" y="579.50" width="8.90" height="2.00" rx="1.00" fill="#000" fill-opacity="0.42"/><rect x="96.95" y="579.50" width="8.90" height="2.00" rx="1.00" fill="#000" fill-opacity="0.42"/><rect x="107.85" y="579.50" width="8.90" height="2.00" rx="1.00" fill="#000" fill-opacity="0.42"/><rect x="117.65" y="579.50" width="8.90" height="2.00" rx="1.00" fill="#000" fill-opacity="0.42"/><rect x="128.25" y="579.50" width="8.90" height="2.00" rx="1.00" fill="#000" fill-opacity="0.42"/><rect x="138.85" y="579.50" width="8.90" height="2.00" rx="1.00" fill="#000" fill-opacity="0.42"/><rect x="149.45" y="579.50" width="8.90" height="2.00" rx="1.00" fill="#000" fill-opacity="0.42"/>
<rect x="31.75" y="582.50" width="8.90" height="2.80" rx="1.40" fill="#000" fill-opacity="0.90"/><rect x="42.75" y="582.50" width="8.90" height="2.80" rx="1.40" fill="#000" fill-opacity="0.90"/><rect x="53.55" y="582.50" width="8.90" height="2.80" rx="1.40" fill="#000" fill-opacity="0.90"/><rect x="64.65" y="582.50" width="8.90" height="2.80" rx="1.40" fill="#000" fill-opacity="0.90"/><rect x="75.95" y="582.50" width="8.90" height="2.80" rx="1.40" fill="#000" fill-opacity="0.90"/><rect x="86.15" y="582.50" width="8.90" height="2.80" rx="1.40" fill="#000" fill-opacity="0.90"/><rect x="96.95" y="582.50" width="8.90" height="2.80" rx="1.40" fill="#000" fill-opacity="0.90"/><rect x="107.85" y="582.50" width="8.90" height="2.80" rx="1.40" fill="#000" fill-opacity="0.90"/><rect x="117.65" y="582.50" width="8.90" height="2.80" rx="1.40" fill="#000" fill-opacity="0.90"/><rect x="128.25" y="582.50" width="8.90" height="2.80" rx="1.40" fill="#000" fill-opacity="0.90"/><rect x="138.85" y="582.50" width="8.90" height="2.80" rx="1.40" fill="#000" fill-opacity="0.90"/><rect x="149.45" y="582.50" width="8.90" height="2.80" rx="1.40" fill="#000" fill-opacity="0.90"/>
<rect x="31.75" y="596.50" width="8.90" height="2.60" rx="1.30" fill="#000" fill-opacity="0.95"/><rect x="42.75" y="596.50" width="8.90" height="2.60" rx="1.30" fill="#000" fill-opacity="0.95"/><rect x="53.55" y="596.40" width="8.90" height="2.60" rx="1.30" fill="#000" fill-opacity="0.95"/><rect x="64.65" y="596.30" width="8.90" height="2.60" rx="1.30" fill="#000" fill-opacity="0.95"/><rect x="75.95" y="595.80" width="8.90" height="2.60" rx="1.30" fill="#000" fill-opacity="0.95"/><rect x="86.15" y="596.10" width="8.90" height="2.60" rx="1.30" fill="#000" fill-opacity="0.95"/><rect x="96.95" y="595.80" width="8.90" height="2.60" rx="1.30" fill="#000" fill-opacity="0.95"/><rect x="107.85" y="595.20" width="8.90" height="2.60" rx="1.30" fill="#000" fill-opacity="0.95"/><rect x="117.65" y="594.90" width="8.90" height="2.60" rx="1.30" fill="#000" fill-opacity="0.95"/><rect x="128.25" y="595.40" width="8.90" height="2.60" rx="1.30" fill="#000" fill-opacity="0.60"/><rect x="138.85" y="595.80" width="8.90" height="2.60" rx="1.30" fill="#000" fill-opacity="0.75"/><rect x="149.45" y="595.80" width="8.90" height="2.60" rx="1.30" fill="#000" fill-opacity="0.80"/>
</g></g>
<g id="panel-e">
<text x="183.00" y="456.32" font-size="12" font-weight="bold" text-anchor="start" fill="#1c1c1c" stroke="#1c1c1c">E</text>
<text x="276.80" y="477.74" font-size="9" font-weight="bold" text-anchor="middle" fill="#1c1c1c" stroke="#1c1c1c">HCC4011 (L)</text>
<text x="257.80" y="492.02" font-size="7" text-anchor="middle" fill="#1c1c1c" stroke="#1c1c1c">Mobocertinib</text>
<text x="324.00" y="492.02" font-size="7" text-anchor="middle" fill="#1c1c1c" stroke="#1c1c1c">Erlotinib</text>
<line x1="213.00" y1="495.70" x2="303.60" y2="495.70" stroke="#3d8fc9" stroke-width="0.9"/>
<line x1="307.70" y1="495.70" x2="339.50" y2="495.70" stroke="#999" stroke-width="0.9"/>
<text x="195.50" y="493.64" font-size="5.95" text-anchor="middle" fill="#1c1c1c" stroke="#1c1c1c" style="stroke-width:0.06px">Inhibitor</text>
<text x="195.50" y="501.34" font-size="5.95" text-anchor="middle" fill="#1c1c1c" stroke="#1c1c1c" style="stroke-width:0.06px">(nmol/L)</text>
<text x="214.50" y="502.35" font-size="4.85" text-anchor="middle" fill="#1c1c1c" stroke="#1c1c1c" style="stroke-width:0.06px">0</text>
<text x="224.80" y="502.35" font-size="4.85" text-anchor="middle" fill="#1c1c1c" stroke="#1c1c1c" style="stroke-width:0.06px">0.3</text>
<text x="236.00" y="502.35" font-size="4.85" text-anchor="middle" fill="#1c1c1c" stroke="#1c1c1c" style="stroke-width:0.06px">1</text>
<text x="247.00" y="502.35" font-size="4.85" text-anchor="middle" fill="#1c1c1c" stroke="#1c1c1c" style="stroke-width:0.06px">3</text>
<text x="257.70" y="502.35" font-size="4.85" text-anchor="middle" fill="#1c1c1c" stroke="#1c1c1c" style="stroke-width:0.06px">10</text>
<text x="267.20" y="502.35" font-size="4.85" text-anchor="middle" fill="#1c1c1c" stroke="#1c1c1c" style="stroke-width:0.06px">30</text>
<text x="277.20" y="502.35" font-size="4.85" text-anchor="middle" fill="#1c1c1c" stroke="#1c1c1c" style="stroke-width:0.06px">100</text>
<text x="287.30" y="502.35" font-size="4.85" text-anchor="middle" fill="#1c1c1c" stroke="#1c1c1c" style="stroke-width:0.06px">300</text>
<text x="298.30" y="502.35" font-size="4.85" text-anchor="middle" fill="#1c1c1c" stroke="#1c1c1c" style="stroke-width:0.06px">1,000</text>
<text x="310.00" y="502.35" font-size="4.85" text-anchor="middle" fill="#1c1c1c" stroke="#1c1c1c" style="stroke-width:0.06px">10</text>
<text x="321.80" y="502.35" font-size="4.85" text-anchor="middle" fill="#1c1c1c" stroke="#1c1c1c" style="stroke-width:0.06px">100</text>
<text x="334.40" y="502.35" font-size="4.85" text-anchor="middle" fill="#1c1c1c" stroke="#1c1c1c" style="stroke-width:0.06px">1,000</text>
<text x="206.00" y="512.77" font-size="6.3" text-anchor="end" fill="#1c1c1c" stroke="#1c1c1c" style="stroke-width:0.06px">pEGFR</text>
<text x="206.00" y="526.57" font-size="6.3" text-anchor="end" fill="#1c1c1c" stroke="#1c1c1c" style="stroke-width:0.06px">EGFR</text>
<text x="206.00" y="539.97" font-size="6.3" text-anchor="end" fill="#1c1c1c" stroke="#1c1c1c" style="stroke-width:0.06px">pAKT</text>
<text x="206.00" y="554.57" font-size="6.3" text-anchor="end" fill="#1c1c1c" stroke="#1c1c1c" style="stroke-width:0.06px">AKT</text>
<text x="206.00" y="568.77" font-size="6.3" text-anchor="end" fill="#1c1c1c" stroke="#1c1c1c" style="stroke-width:0.06px">pERK1/2</text>
<text x="206.00" y="581.87" font-size="6.3" text-anchor="end" fill="#1c1c1c" stroke="#1c1c1c" style="stroke-width:0.06px">ERK1/2</text>
<text x="206.00" y="597.57" font-size="6.3" text-anchor="end" fill="#1c1c1c" stroke="#1c1c1c" style="stroke-width:0.06px">Vinculin</text>
<g filter="url(#blurD)">
<rect x="210.85" y="507.05" width="8.90" height="6.50" rx="3.25" fill="#000" fill-opacity="0.09"/><rect x="221.95" y="507.05" width="8.90" height="6.50" rx="3.25" fill="#000" fill-opacity="0.08"/><rect x="232.75" y="507.35" width="8.90" height="6.50" rx="3.25" fill="#000" fill-opacity="0.06"/><rect x="243.55" y="507.85" width="8.90" height="6.50" rx="3.25" fill="#000" fill-opacity="0.04"/><rect x="254.25" y="507.95" width="8.90" height="6.50" rx="3.25" fill="#000" fill-opacity="0.04"/><rect x="264.75" y="507.85" width="8.90" height="6.50" rx="3.25" fill="#000" fill-opacity="0.04"/><rect x="275.35" y="507.75" width="8.90" height="6.50" rx="3.25" fill="#000" fill-opacity="0.04"/><rect x="285.95" y="507.75" width="8.90" height="6.50" rx="3.25" fill="#000" fill-opacity="0.03"/><rect x="295.95" y="507.75" width="8.90" height="6.50" rx="3.25" fill="#000" fill-opacity="0.03"/><rect x="306.15" y="507.35" width="8.90" height="6.50" rx="3.25" fill="#000" fill-opacity="0.06"/><rect x="316.75" y="507.05" width="8.90" height="6.50" rx="3.25" fill="#000" fill-opacity="0.05"/><rect x="327.25" y="506.85" width="8.90" height="6.50" rx="3.25" fill="#000" fill-opacity="0.04"/>
<rect x="210.85" y="506.20" width="8.90" height="3.00" rx="1.50" fill="#000" fill-opacity="1.00"/><rect x="221.95" y="506.20" width="8.90" height="3.00" rx="1.50" fill="#000" fill-opacity="0.85"/><rect x="232.75" y="506.50" width="8.90" height="3.00" rx="1.50" fill="#000" fill-opacity="0.70"/><rect x="243.55" y="507.00" width="8.90" height="3.00" rx="1.50" fill="#000" fill-opacity="0.50"/><rect x="254.25" y="507.10" width="8.90" height="3.00" rx="1.50" fill="#000" fill-opacity="0.45"/><rect x="264.75" y="507.00" width="8.90" height="3.00" rx="1.50" fill="#000" fill-opacity="0.40"/><rect x="275.35" y="506.90" width="8.90" height="3.00" rx="1.50" fill="#000" fill-opacity="0.40"/><rect x="285.95" y="506.90" width="8.90" height="3.00" rx="1.50" fill="#000" fill-opacity="0.35"/><rect x="295.95" y="506.90" width="8.90" height="3.00" rx="1.50" fill="#000" fill-opacity="0.35"/><rect x="306.15" y="506.50" width="8.90" height="3.00" rx="1.50" fill="#000" fill-opacity="0.70"/><rect x="316.75" y="506.20" width="8.90" height="3.00" rx="1.50" fill="#000" fill-opacity="0.60"/><rect x="327.25" y="506.00" width="8.90" height="3.00" rx="1.50" fill="#000" fill-opacity="0.50"/>
<rect x="210.55" y="522.15" width="9.50" height="6.50" rx="3.25" fill="#000" fill-opacity="0.09"/><rect x="221.65" y="522.15" width="9.50" height="6.50" rx="3.25" fill="#000" fill-opacity="0.07"/><rect x="232.45" y="522.15" width="9.50" height="6.50" rx="3.25" fill="#000" fill-opacity="0.06"/><rect x="243.25" y="520.85" width="9.50" height="6.50" rx="3.25" fill="#000" fill-opacity="0.08"/><rect x="253.95" y="520.85" width="9.50" height="6.50" rx="3.25" fill="#000" fill-opacity="0.08"/><rect x="264.45" y="520.55" width="9.50" height="6.50" rx="3.25" fill="#000" fill-opacity="0.07"/><rect x="275.05" y="520.35" width="9.50" height="6.50" rx="3.25" fill="#000" fill-opacity="0.07"/><rect x="285.65" y="519.85" width="9.50" height="6.50" rx="3.25" fill="#000" fill-opacity="0.06"/><rect x="295.65" y="519.55" width="9.50" height="6.50" rx="3.25" fill="#000" fill-opacity="0.07"/><rect x="305.85" y="519.35" width="9.50" height="6.50" rx="3.25" fill="#000" fill-opacity="0.06"/><rect x="316.45" y="518.55" width="9.50" height="6.50" rx="3.25" fill="#000" fill-opacity="0.08"/><rect x="326.95" y="517.95" width="9.50" height="6.50" rx="3.25" fill="#000" fill-opacity="0.09"/>
<rect x="210.55" y="521.00" width="9.50" height="3.60" rx="1.80" fill="#000" fill-opacity="0.95"/><rect x="221.65" y="521.00" width="9.50" height="3.60" rx="1.80" fill="#000" fill-opacity="0.80"/><rect x="232.45" y="521.00" width="9.50" height="3.60" rx="1.80" fill="#000" fill-opacity="0.70"/><rect x="243.25" y="519.70" width="9.50" height="3.60" rx="1.80" fill="#000" fill-opacity="0.85"/><rect x="253.95" y="519.70" width="9.50" height="3.60" rx="1.80" fill="#000" fill-opacity="0.85"/><rect x="264.45" y="519.40" width="9.50" height="3.60" rx="1.80" fill="#000" fill-opacity="0.80"/><rect x="275.05" y="519.20" width="9.50" height="3.60" rx="1.80" fill="#000" fill-opacity="0.75"/><rect x="285.65" y="518.70" width="9.50" height="3.60" rx="1.80" fill="#000" fill-opacity="0.70"/><rect x="295.65" y="518.40" width="9.50" height="3.60" rx="1.80" fill="#000" fill-opacity="0.75"/><rect x="305.85" y="518.20" width="9.50" height="3.60" rx="1.80" fill="#000" fill-opacity="0.70"/><rect x="316.45" y="517.40" width="9.50" height="3.60" rx="1.80" fill="#000" fill-opacity="0.90"/><rect x="326.95" y="516.80" width="9.50" height="3.60" rx="1.80" fill="#000" fill-opacity="1.00"/>
<rect x="210.45" y="535.90" width="9.70" height="2.20" rx="1.10" fill="#000" fill-opacity="0.90"/><rect x="221.55" y="535.90" width="9.70" height="2.20" rx="1.10" fill="#000" fill-opacity="0.80"/><rect x="232.35" y="535.70" width="9.70" height="2.20" rx="1.10" fill="#000" fill-opacity="0.80"/><rect x="243.15" y="535.40" width="9.70" height="2.20" rx="1.10" fill="#000" fill-opacity="0.75"/><rect x="253.85" y="534.90" width="9.70" height="2.20" rx="1.10" fill="#000" fill-opacity="0.75"/><rect x="264.35" y="534.60" width="9.70" height="2.20" rx="1.10" fill="#000" fill-opacity="0.70"/><rect x="274.95" y="534.40" width="9.70" height="2.20" rx="1.10" fill="#000" fill-opacity="0.60"/><rect x="285.55" y="533.90" width="9.70" height="2.20" rx="1.10" fill="#000" fill-opacity="0.45"/><rect x="295.55" y="533.30" width="9.70" height="2.20" rx="1.10" fill="#000" fill-opacity="0.40"/><rect x="305.75" y="533.30" width="9.70" height="2.20" rx="1.10" fill="#000" fill-opacity="0.50"/><rect x="316.35" y="532.50" width="9.70" height="2.20" rx="1.10" fill="#000" fill-opacity="0.70"/><rect x="326.85" y="532.30" width="9.70" height="2.20" rx="1.10" fill="#000" fill-opacity="0.70"/>
<rect x="210.15" y="550.15" width="10.30" height="6.50" rx="3.25" fill="#000" fill-opacity="0.09"/><rect x="221.25" y="550.15" width="10.30" height="6.50" rx="3.25" fill="#000" fill-opacity="0.09"/><rect x="232.05" y="550.15" width="10.30" height="6.50" rx="3.25" fill="#000" fill-opacity="0.09"/><rect x="242.85" y="550.15" width="10.30" height="6.50" rx="3.25" fill="#000" fill-opacity="0.09"/><rect x="253.55" y="550.05" width="10.30" height="6.50" rx="3.25" fill="#000" fill-opacity="0.09"/><rect x="264.05" y="549.95" width="10.30" height="6.50" rx="3.25" fill="#000" fill-opacity="0.09"/><rect x="274.65" y="549.75" width="10.30" height="6.50" rx="3.25" fill="#000" fill-opacity="0.09"/><rect x="285.25" y="549.55" width="10.30" height="6.50" rx="3.25" fill="#000" fill-opacity="0.09"/><rect x="295.25" y="549.35" width="10.30" height="6.50" rx="3.25" fill="#000" fill-opacity="0.09"/><rect x="305.45" y="549.15" width="10.30" height="6.50" rx="3.25" fill="#000" fill-opacity="0.09"/><rect x="316.05" y="548.95" width="10.30" height="6.50" rx="3.25" fill="#000" fill-opacity="0.09"/><rect x="326.55" y="548.75" width="10.30" height="6.50" rx="3.25" fill="#000" fill-opacity="0.09"/>
<rect x="210.15" y="549.20" width="10.30" height="3.20" rx="1.60" fill="#000" fill-opacity="1.00"/><rect x="221.25" y="549.20" width="10.30" height="3.20" rx="1.60" fill="#000" fill-opacity="1.00"/><rect x="232.05" y="549.20" width="10.30" height="3.20" rx="1.60" fill="#000" fill-opacity="1.00"/><rect x="242.85" y="549.20" width="10.30" height="3.20" rx="1.60" fill="#000" fill-opacity="1.00"/><rect x="253.55" y="549.10" width="10.30" height="3.20" rx="1.60" fill="#000" fill-opacity="1.00"/><rect x="264.05" y="549.00" width="10.30" height="3.20" rx="1.60" fill="#000" fill-opacity="1.00"/><rect x="274.65" y="548.80" width="10.30" height="3.20" rx="1.60" fill="#000" fill-opacity="1.00"/><rect x="285.25" y="548.60" width="10.30" height="3.20" rx="1.60" fill="#000" fill-opacity="1.00"/><rect x="295.25" y="548.40" width="10.30" height="3.20" rx="1.60" fill="#000" fill-opacity="1.00"/><rect x="305.45" y="548.20" width="10.30" height="3.20" rx="1.60" fill="#000" fill-opacity="1.00"/><rect x="316.05" y="548.00" width="10.30" height="3.20" rx="1.60" fill="#000" fill-opacity="1.00"/><rect x="326.55" y="547.80" width="10.30" height="3.20" rx="1.60" fill="#000" fill-opacity="1.00"/>
<rect x="210.85" y="564.60" width="8.90" height="2.00" rx="1.00" fill="#000" fill-opacity="0.45"/><rect x="221.95" y="564.60" width="8.90" height="2.00" rx="1.00" fill="#000" fill-opacity="0.42"/><rect x="232.75" y="564.60" width="8.90" height="2.00" rx="1.00" fill="#000" fill-opacity="0.40"/><rect x="243.55" y="564.60" width="8.90" height="2.00" rx="1.00" fill="#000" fill-opacity="0.08"/><rect x="254.25" y="564.60" width="8.90" height="2.00" rx="1.00" fill="#000" fill-opacity="0.03"/><rect x="264.75" y="564.60" width="8.90" height="2.00" rx="1.00" fill="#000" fill-opacity="0.02"/><rect x="275.35" y="564.60" width="8.90" height="2.00" rx="1.00" fill="#000" fill-opacity="0.02"/><rect x="285.95" y="564.60" width="8.90" height="2.00" rx="1.00" fill="#000" fill-opacity="0.02"/><rect x="295.95" y="564.60" width="8.90" height="2.00" rx="1.00" fill="#000" fill-opacity="0.03"/><rect x="306.15" y="562.00" width="8.90" height="2.00" rx="1.00" fill="#000" fill-opacity="0.50"/><rect x="316.75" y="561.50" width="8.90" height="2.00" rx="1.00" fill="#000" fill-opacity="0.65"/><rect x="327.25" y="562.00" width="8.90" height="2.00" rx="1.00" fill="#000" fill-opacity="0.45"/>
<rect x="210.85" y="567.30" width="8.90" height="2.80" rx="1.40" fill="#000" fill-opacity="0.95"/><rect x="221.95" y="567.30" width="8.90" height="2.80" rx="1.40" fill="#000" fill-opacity="0.90"/><rect x="232.75" y="567.30" width="8.90" height="2.80" rx="1.40" fill="#000" fill-opacity="0.90"/><rect x="243.55" y="567.00" width="8.90" height="2.80" rx="1.40" fill="#000" fill-opacity="0.50"/><rect x="254.25" y="566.30" width="8.90" height="2.80" rx="1.40" fill="#000" fill-opacity="0.45"/><rect x="264.75" y="565.90" width="8.90" height="2.80" rx="1.40" fill="#000" fill-opacity="0.45"/><rect x="275.35" y="565.50" width="8.90" height="2.80" rx="1.40" fill="#000" fill-opacity="0.50"/><rect x="285.95" y="564.90" width="8.90" height="2.80" rx="1.40" fill="#000" fill-opacity="0.55"/><rect x="295.95" y="564.40" width="8.90" height="2.80" rx="1.40" fill="#000" fill-opacity="0.60"/><rect x="306.15" y="564.00" width="8.90" height="2.80" rx="1.40" fill="#000" fill-opacity="0.95"/><rect x="316.75" y="563.60" width="8.90" height="2.80" rx="1.40" fill="#000" fill-opacity="1.00"/><rect x="327.25" y="564.00" width="8.90" height="2.80" rx="1.40" fill="#000" fill-opacity="0.90"/>
<rect x="210.85" y="578.20" width="8.90" height="2.20" rx="1.10" fill="#000" fill-opacity="0.60"/><rect x="221.95" y="578.50" width="8.90" height="2.20" rx="1.10" fill="#000" fill-opacity="0.50"/><rect x="232.75" y="578.90" width="8.90" height="2.20" rx="1.10" fill="#000" fill-opacity="0.45"/><rect x="243.55" y="579.30" width="8.90" height="2.20" rx="1.10" fill="#000" fill-opacity="0.50"/><rect x="254.25" y="579.50" width="8.90" height="2.20" rx="1.10" fill="#000" fill-opacity="0.45"/><rect x="264.75" y="579.70" width="8.90" height="2.20" rx="1.10" fill="#000" fill-opacity="0.45"/><rect x="275.35" y="579.70" width="8.90" height="2.20" rx="1.10" fill="#000" fill-opacity="0.45"/><rect x="285.95" y="579.70" width="8.90" height="2.20" rx="1.10" fill="#000" fill-opacity="0.45"/><rect x="295.95" y="579.70" width="8.90" height="2.20" rx="1.10" fill="#000" fill-opacity="0.45"/><rect x="306.15" y="579.70" width="8.90" height="2.20" rx="1.10" fill="#000" fill-opacity="0.35"/><rect x="316.75" y="579.70" width="8.90" height="2.20" rx="1.10" fill="#000" fill-opacity="0.35"/><rect x="327.25" y="579.70" width="8.90" height="2.20" rx="1.10" fill="#000" fill-opacity="0.45"/>
<rect x="210.85" y="581.40" width="8.90" height="2.80" rx="1.40" fill="#000" fill-opacity="0.90"/><rect x="221.95" y="581.70" width="8.90" height="2.80" rx="1.40" fill="#000" fill-opacity="0.85"/><rect x="232.75" y="582.10" width="8.90" height="2.80" rx="1.40" fill="#000" fill-opacity="0.85"/><rect x="243.55" y="582.50" width="8.90" height="2.80" rx="1.40" fill="#000" fill-opacity="0.90"/><rect x="254.25" y="582.40" width="8.90" height="2.80" rx="1.40" fill="#000" fill-opacity="0.85"/><rect x="264.75" y="582.40" width="8.90" height="2.80" rx="1.40" fill="#000" fill-opacity="0.85"/><rect x="275.35" y="582.30" width="8.90" height="2.80" rx="1.40" fill="#000" fill-opacity="0.85"/><rect x="285.95" y="582.30" width="8.90" height="2.80" rx="1.40" fill="#000" fill-opacity="0.85"/><rect x="295.95" y="582.30" width="8.90" height="2.80" rx="1.40" fill="#000" fill-opacity="0.80"/><rect x="306.15" y="582.30" width="8.90" height="2.80" rx="1.40" fill="#000" fill-opacity="0.50"/><rect x="316.75" y="582.30" width="8.90" height="2.80" rx="1.40" fill="#000" fill-opacity="0.50"/><rect x="327.25" y="582.30" width="8.90" height="2.80" rx="1.40" fill="#000" fill-opacity="0.80"/>
<rect x="210.65" y="595.85" width="9.30" height="6.50" rx="3.25" fill="#000" fill-opacity="0.08"/><rect x="221.75" y="595.85" width="9.30" height="6.50" rx="3.25" fill="#000" fill-opacity="0.08"/><rect x="232.55" y="595.85" width="9.30" height="6.50" rx="3.25" fill="#000" fill-opacity="0.08"/><rect x="243.35" y="595.85" width="9.30" height="6.50" rx="3.25" fill="#000" fill-opacity="0.08"/><rect x="254.05" y="595.55" width="9.30" height="6.50" rx="3.25" fill="#000" fill-opacity="0.08"/><rect x="264.55" y="595.35" width="9.30" height="6.50" rx="3.25" fill="#000" fill-opacity="0.08"/><rect x="275.15" y="595.15" width="9.30" height="6.50" rx="3.25" fill="#000" fill-opacity="0.08"/><rect x="285.75" y="594.85" width="9.30" height="6.50" rx="3.25" fill="#000" fill-opacity="0.08"/><rect x="295.75" y="594.55" width="9.30" height="6.50" rx="3.25" fill="#000" fill-opacity="0.08"/><rect x="305.95" y="594.55" width="9.30" height="6.50" rx="3.25" fill="#000" fill-opacity="0.08"/><rect x="316.55" y="594.45" width="9.30" height="6.50" rx="3.25" fill="#000" fill-opacity="0.08"/><rect x="327.05" y="594.15" width="9.30" height="6.50" rx="3.25" fill="#000" fill-opacity="0.08"/>
<rect x="210.65" y="594.50" width="9.30" height="4.00" rx="2.00" fill="#000" fill-opacity="0.90"/><rect x="221.75" y="594.50" width="9.30" height="4.00" rx="2.00" fill="#000" fill-opacity="0.90"/><rect x="232.55" y="594.50" width="9.30" height="4.00" rx="2.00" fill="#000" fill-opacity="0.90"/><rect x="243.35" y="594.50" width="9.30" height="4.00" rx="2.00" fill="#000" fill-opacity="0.90"/><rect x="254.05" y="594.20" width="9.30" height="4.00" rx="2.00" fill="#000" fill-opacity="0.90"/><rect x="264.55" y="594.00" width="9.30" height="4.00" rx="2.00" fill="#000" fill-opacity="0.90"/><rect x="275.15" y="593.80" width="9.30" height="4.00" rx="2.00" fill="#000" fill-opacity="0.90"/><rect x="285.75" y="593.50" width="9.30" height="4.00" rx="2.00" fill="#000" fill-opacity="0.90"/><rect x="295.75" y="593.20" width="9.30" height="4.00" rx="2.00" fill="#000" fill-opacity="0.90"/><rect x="305.95" y="593.20" width="9.30" height="4.00" rx="2.00" fill="#000" fill-opacity="0.90"/><rect x="316.55" y="593.10" width="9.30" height="4.00" rx="2.00" fill="#000" fill-opacity="0.90"/><rect x="327.05" y="592.80" width="9.30" height="4.00" rx="2.00" fill="#000" fill-opacity="0.90"/>
</g></g>
<g id="panel-f">
<text x="356.30" y="456.32" font-size="12" font-weight="bold" text-anchor="start" fill="#1c1c1c" stroke="#1c1c1c">F</text>
<text x="446.50" y="477.74" font-size="9" font-weight="bold" text-anchor="middle" fill="#1c1c1c" stroke="#1c1c1c">H1975 (LT)</text>
<text x="427.80" y="492.02" font-size="7" text-anchor="middle" fill="#1c1c1c" stroke="#1c1c1c">Mobocertinib</text>
<text x="493.30" y="492.02" font-size="7" text-anchor="middle" fill="#1c1c1c" stroke="#1c1c1c">Erlotinib</text>
<line x1="387.80" y1="495.70" x2="477.30" y2="495.70" stroke="#3d8fc9" stroke-width="0.9"/>
<line x1="481.00" y1="495.70" x2="510.50" y2="495.70" stroke="#999" stroke-width="0.9"/>
<text x="369.00" y="493.64" font-size="5.95" text-anchor="middle" fill="#1c1c1c" stroke="#1c1c1c" style="stroke-width:0.06px">Inhibitor</text>
<text x="369.00" y="501.34" font-size="5.95" text-anchor="middle" fill="#1c1c1c" stroke="#1c1c1c" style="stroke-width:0.06px">(nmol/L)</text>
<text x="389.20" y="502.35" font-size="4.85" text-anchor="middle" fill="#1c1c1c" stroke="#1c1c1c" style="stroke-width:0.06px">0</text>
<text x="399.70" y="502.35" font-size="4.85" text-anchor="middle" fill="#1c1c1c" stroke="#1c1c1c" style="stroke-width:0.06px">0.3</text>
<text x="410.30" y="502.35" font-size="4.85" text-anchor="middle" fill="#1c1c1c" stroke="#1c1c1c" style="stroke-width:0.06px">1</text>
<text x="421.20" y="502.35" font-size="4.85" text-anchor="middle" fill="#1c1c1c" stroke="#1c1c1c" style="stroke-width:0.06px">3</text>
<text x="432.00" y="502.35" font-size="4.85" text-anchor="middle" fill="#1c1c1c" stroke="#1c1c1c" style="stroke-width:0.06px">10</text>
<text x="441.60" y="502.35" font-size="4.85" text-anchor="middle" fill="#1c1c1c" stroke="#1c1c1c" style="stroke-width:0.06px">30</text>
<text x="452.20" y="502.35" font-size="4.85" text-anchor="middle" fill="#1c1c1c" stroke="#1c1c1c" style="stroke-width:0.06px">100</text>
<text x="462.40" y="502.35" font-size="4.85" text-anchor="middle" fill="#1c1c1c" stroke="#1c1c1c" style="stroke-width:0.06px">300</text>
<text x="474.00" y="502.35" font-size="4.85" text-anchor="middle" fill="#1c1c1c" stroke="#1c1c1c" style="stroke-width:0.06px">1,000</text>
<text x="485.40" y="502.35" font-size="4.85" text-anchor="middle" fill="#1c1c1c" stroke="#1c1c1c" style="stroke-width:0.06px">100</text>
<text x="496.70" y="502.35" font-size="4.85" text-anchor="middle" fill="#1c1c1c" stroke="#1c1c1c" style="stroke-width:0.06px">1,000</text>
<text x="511.80" y="502.35" font-size="4.85" text-anchor="middle" fill="#1c1c1c" stroke="#1c1c1c" style="stroke-width:0.06px">10,000</text>
<text x="380.30" y="513.07" font-size="6.3" text-anchor="end" fill="#1c1c1c" stroke="#1c1c1c" style="stroke-width:0.06px">pEGFR</text>
<text x="380.30" y="526.57" font-size="6.3" text-anchor="end" fill="#1c1c1c" stroke="#1c1c1c" style="stroke-width:0.06px">EGFR</text>
<text x="380.30" y="539.97" font-size="6.3" text-anchor="end" fill="#1c1c1c" stroke="#1c1c1c" style="stroke-width:0.06px">pAKT</text>
<text x="380.30" y="554.57" font-size="6.3" text-anchor="end" fill="#1c1c1c" stroke="#1c1c1c" style="stroke-width:0.06px">AKT</text>
<text x="380.30" y="568.77" font-size="6.3" text-anchor="end" fill="#1c1c1c" stroke="#1c1c1c" style="stroke-width:0.06px">pERK1/2</text>
<text x="380.30" y="581.87" font-size="6.3" text-anchor="end" fill="#1c1c1c" stroke="#1c1c1c" style="stroke-width:0.06px">ERK1/2</text>
<text x="380.30" y="597.57" font-size="6.3" text-anchor="end" fill="#1c1c1c" stroke="#1c1c1c" style="stroke-width:0.06px">Vinculin</text>
<g filter="url(#blurD)">
<rect x="383.90" y="509.85" width="9.80" height="6.50" rx="3.25" fill="#000" fill-opacity="0.09"/><rect x="395.30" y="509.45" width="9.80" height="6.50" rx="3.25" fill="#000" fill-opacity="0.09"/><rect x="406.60" y="509.05" width="9.80" height="6.50" rx="3.25" fill="#000" fill-opacity="0.07"/><rect x="417.70" y="508.65" width="9.80" height="6.50" rx="3.25" fill="#000" fill-opacity="0.05"/><rect x="427.90" y="508.25" width="9.80" height="6.50" rx="3.25" fill="#000" fill-opacity="0.02"/><rect x="439.10" y="509.65" width="9.80" height="6.50" rx="3.25" fill="#000" fill-opacity="0.01"/><rect x="481.40" y="507.95" width="9.80" height="6.50" rx="3.25" fill="#000" fill-opacity="0.09"/><rect x="492.10" y="507.35" width="9.80" height="6.50" rx="3.25" fill="#000" fill-opacity="0.09"/><rect x="503.60" y="506.35" width="9.80" height="6.50" rx="3.25" fill="#000" fill-opacity="0.04"/>
<rect x="383.90" y="508.50" width="9.80" height="4.00" rx="2.00" fill="#000" fill-opacity="1.00"/><rect x="395.30" y="508.10" width="9.80" height="4.00" rx="2.00" fill="#000" fill-opacity="0.95"/><rect x="406.60" y="507.70" width="9.80" height="4.00" rx="2.00" fill="#000" fill-opacity="0.75"/><rect x="417.70" y="507.30" width="9.80" height="4.00" rx="2.00" fill="#000" fill-opacity="0.55"/><rect x="427.90" y="506.90" width="9.80" height="4.00" rx="2.00" fill="#000" fill-opacity="0.25"/><rect x="439.10" y="508.30" width="9.80" height="4.00" rx="2.00" fill="#000" fill-opacity="0.06"/><rect x="449.70" y="508.30" width="9.80" height="4.00" rx="2.00" fill="#000" fill-opacity="0.04"/><rect x="459.90" y="508.30" width="9.80" height="4.00" rx="2.00" fill="#000" fill-opacity="0.03"/><rect x="470.70" y="508.30" width="9.80" height="4.00" rx="2.00" fill="#000" fill-opacity="0.03"/><rect x="481.40" y="506.60" width="9.80" height="4.00" rx="2.00" fill="#000" fill-opacity="1.00"/><rect x="492.10" y="506.00" width="9.80" height="4.00" rx="2.00" fill="#000" fill-opacity="1.00"/><rect x="503.60" y="505.00" width="9.80" height="4.00" rx="2.00" fill="#000" fill-opacity="0.45"/>
<rect x="481.20" y="507.95" width="10.20" height="6.50" rx="3.25" fill="#000" fill-opacity="0.09"/><rect x="491.90" y="507.35" width="10.20" height="6.50" rx="3.25" fill="#000" fill-opacity="0.08"/>
<rect x="481.20" y="506.10" width="10.20" height="5.00" rx="2.50" fill="#000" fill-opacity="1.00"/><rect x="491.90" y="505.50" width="10.20" height="5.00" rx="2.50" fill="#000" fill-opacity="0.90"/>
<rect x="383.60" y="523.15" width="10.40" height="6.50" rx="3.25" fill="#000" fill-opacity="0.04"/><rect x="395.00" y="523.15" width="10.40" height="6.50" rx="3.25" fill="#000" fill-opacity="0.05"/><rect x="406.30" y="523.15" width="10.40" height="6.50" rx="3.25" fill="#000" fill-opacity="0.06"/><rect x="417.40" y="523.15" width="10.40" height="6.50" rx="3.25" fill="#000" fill-opacity="0.06"/><rect x="427.60" y="522.75" width="10.40" height="6.50" rx="3.25" fill="#000" fill-opacity="0.06"/><rect x="438.80" y="521.85" width="10.40" height="6.50" rx="3.25" fill="#000" fill-opacity="0.08"/><rect x="449.40" y="521.35" width="10.40" height="6.50" rx="3.25" fill="#000" fill-opacity="0.08"/><rect x="459.60" y="521.35" width="10.40" height="6.50" rx="3.25" fill="#000" fill-opacity="0.08"/><rect x="470.40" y="521.35" width="10.40" height="6.50" rx="3.25" fill="#000" fill-opacity="0.07"/><rect x="481.10" y="521.15" width="10.40" height="6.50" rx="3.25" fill="#000" fill-opacity="0.06"/><rect x="491.80" y="520.85" width="10.40" height="6.50" rx="3.25" fill="#000" fill-opacity="0.05"/><rect x="503.30" y="519.85" width="10.40" height="6.50" rx="3.25" fill="#000" fill-opacity="0.05"/>
<rect x="383.60" y="522.30" width="10.40" height="3.00" rx="1.50" fill="#000" fill-opacity="0.50"/><rect x="395.00" y="522.30" width="10.40" height="3.00" rx="1.50" fill="#000" fill-opacity="0.60"/><rect x="406.30" y="522.30" width="10.40" height="3.00" rx="1.50" fill="#000" fill-opacity="0.65"/><rect x="417.40" y="522.30" width="10.40" height="3.00" rx="1.50" fill="#000" fill-opacity="0.65"/><rect x="427.60" y="521.90" width="10.40" height="3.00" rx="1.50" fill="#000" fill-opacity="0.72"/><rect x="438.80" y="521.00" width="10.40" height="3.00" rx="1.50" fill="#000" fill-opacity="0.90"/><rect x="449.40" y="520.50" width="10.40" height="3.00" rx="1.50" fill="#000" fill-opacity="0.90"/><rect x="459.60" y="520.50" width="10.40" height="3.00" rx="1.50" fill="#000" fill-opacity="0.85"/><rect x="470.40" y="520.50" width="10.40" height="3.00" rx="1.50" fill="#000" fill-opacity="0.82"/><rect x="481.10" y="520.30" width="10.40" height="3.00" rx="1.50" fill="#000" fill-opacity="0.70"/><rect x="491.80" y="520.00" width="10.40" height="3.00" rx="1.50" fill="#000" fill-opacity="0.60"/><rect x="503.30" y="519.00" width="10.40" height="3.00" rx="1.50" fill="#000" fill-opacity="0.55"/>
<rect x="383.50" y="536.75" width="10.60" height="6.50" rx="3.25" fill="#000" fill-opacity="0.09"/><rect x="394.90" y="536.75" width="10.60" height="6.50" rx="3.25" fill="#000" fill-opacity="0.09"/><rect x="406.20" y="536.75" width="10.60" height="6.50" rx="3.25" fill="#000" fill-opacity="0.09"/><rect x="417.30" y="536.75" width="10.60" height="6.50" rx="3.25" fill="#000" fill-opacity="0.08"/><rect x="427.50" y="535.65" width="10.60" height="6.50" rx="3.25" fill="#000" fill-opacity="0.05"/><rect x="438.70" y="536.15" width="10.60" height="6.50" rx="3.25" fill="#000" fill-opacity="0.04"/><rect x="449.30" y="535.65" width="10.60" height="6.50" rx="3.25" fill="#000" fill-opacity="0.03"/><rect x="459.50" y="535.65" width="10.60" height="6.50" rx="3.25" fill="#000" fill-opacity="0.03"/><rect x="470.30" y="535.65" width="10.60" height="6.50" rx="3.25" fill="#000" fill-opacity="0.03"/><rect x="481.00" y="535.35" width="10.60" height="6.50" rx="3.25" fill="#000" fill-opacity="0.09"/><rect x="491.70" y="535.35" width="10.60" height="6.50" rx="3.25" fill="#000" fill-opacity="0.09"/><rect x="503.20" y="535.65" width="10.60" height="6.50" rx="3.25" fill="#000" fill-opacity="0.09"/>
<rect x="383.50" y="535.90" width="10.60" height="3.00" rx="1.50" fill="#000" fill-opacity="1.00"/><rect x="394.90" y="535.90" width="10.60" height="3.00" rx="1.50" fill="#000" fill-opacity="1.00"/><rect x="406.20" y="535.90" width="10.60" height="3.00" rx="1.50" fill="#000" fill-opacity="0.95"/><rect x="417.30" y="535.90" width="10.60" height="3.00" rx="1.50" fill="#000" fill-opacity="0.90"/><rect x="427.50" y="534.80" width="10.60" height="3.00" rx="1.50" fill="#000" fill-opacity="0.60"/><rect x="438.70" y="535.30" width="10.60" height="3.00" rx="1.50" fill="#000" fill-opacity="0.50"/><rect x="449.30" y="534.80" width="10.60" height="3.00" rx="1.50" fill="#000" fill-opacity="0.33"/><rect x="459.50" y="534.80" width="10.60" height="3.00" rx="1.50" fill="#000" fill-opacity="0.30"/><rect x="470.30" y="534.80" width="10.60" height="3.00" rx="1.50" fill="#000" fill-opacity="0.30"/><rect x="481.00" y="534.50" width="10.60" height="3.00" rx="1.50" fill="#000" fill-opacity="1.00"/><rect x="491.70" y="534.50" width="10.60" height="3.00" rx="1.50" fill="#000" fill-opacity="1.00"/><rect x="503.20" y="534.80" width="10.60" height="3.00" rx="1.50" fill="#000" fill-opacity="0.95"/>
<rect x="383.20" y="549.85" width="11.20" height="6.50" rx="3.25" fill="#000" fill-opacity="0.09"/><rect x="394.60" y="549.85" width="11.20" height="6.50" rx="3.25" fill="#000" fill-opacity="0.09"/><rect x="405.90" y="549.55" width="11.20" height="6.50" rx="3.25" fill="#000" fill-opacity="0.09"/><rect x="417.00" y="548.75" width="11.20" height="6.50" rx="3.25" fill="#000" fill-opacity="0.09"/><rect x="427.20" y="548.35" width="11.20" height="6.50" rx="3.25" fill="#000" fill-opacity="0.09"/><rect x="438.40" y="547.85" width="11.20" height="6.50" rx="3.25" fill="#000" fill-opacity="0.09"/><rect x="449.00" y="547.45" width="11.20" height="6.50" rx="3.25" fill="#000" fill-opacity="0.09"/><rect x="459.20" y="547.05" width="11.20" height="6.50" rx="3.25" fill="#000" fill-opacity="0.09"/><rect x="470.00" y="546.85" width="11.20" height="6.50" rx="3.25" fill="#000" fill-opacity="0.09"/><rect x="480.70" y="546.85" width="11.20" height="6.50" rx="3.25" fill="#000" fill-opacity="0.09"/><rect x="491.40" y="546.45" width="11.20" height="6.50" rx="3.25" fill="#000" fill-opacity="0.09"/><rect x="502.90" y="546.25" width="11.20" height="6.50" rx="3.25" fill="#000" fill-opacity="0.09"/>
<rect x="383.20" y="548.30" width="11.20" height="4.40" rx="2.20" fill="#000" fill-opacity="1.00"/><rect x="394.60" y="548.30" width="11.20" height="4.40" rx="2.20" fill="#000" fill-opacity="1.00"/><rect x="405.90" y="548.00" width="11.20" height="4.40" rx="2.20" fill="#000" fill-opacity="1.00"/><rect x="417.00" y="547.20" width="11.20" height="4.40" rx="2.20" fill="#000" fill-opacity="1.00"/><rect x="427.20" y="546.80" width="11.20" height="4.40" rx="2.20" fill="#000" fill-opacity="1.00"/><rect x="438.40" y="546.30" width="11.20" height="4.40" rx="2.20" fill="#000" fill-opacity="1.00"/><rect x="449.00" y="545.90" width="11.20" height="4.40" rx="2.20" fill="#000" fill-opacity="1.00"/><rect x="459.20" y="545.50" width="11.20" height="4.40" rx="2.20" fill="#000" fill-opacity="1.00"/><rect x="470.00" y="545.30" width="11.20" height="4.40" rx="2.20" fill="#000" fill-opacity="1.00"/><rect x="480.70" y="545.30" width="11.20" height="4.40" rx="2.20" fill="#000" fill-opacity="1.00"/><rect x="491.40" y="544.90" width="11.20" height="4.40" rx="2.20" fill="#000" fill-opacity="1.00"/><rect x="502.90" y="544.70" width="11.20" height="4.40" rx="2.20" fill="#000" fill-opacity="1.00"/>
<rect x="383.70" y="552.80" width="10.20" height="1.60" rx="0.80" fill="#000" fill-opacity="0.25"/><rect x="395.10" y="552.80" width="10.20" height="1.60" rx="0.80" fill="#000" fill-opacity="0.25"/><rect x="406.40" y="552.50" width="10.20" height="1.60" rx="0.80" fill="#000" fill-opacity="0.25"/><rect x="417.50" y="551.70" width="10.20" height="1.60" rx="0.80" fill="#000" fill-opacity="0.25"/><rect x="427.70" y="551.30" width="10.20" height="1.60" rx="0.80" fill="#000" fill-opacity="0.25"/><rect x="438.90" y="550.80" width="10.20" height="1.60" rx="0.80" fill="#000" fill-opacity="0.25"/><rect x="449.50" y="550.40" width="10.20" height="1.60" rx="0.80" fill="#000" fill-opacity="0.25"/><rect x="459.70" y="550.00" width="10.20" height="1.60" rx="0.80" fill="#000" fill-opacity="0.25"/><rect x="470.50" y="549.80" width="10.20" height="1.60" rx="0.80" fill="#000" fill-opacity="0.25"/><rect x="481.20" y="549.80" width="10.20" height="1.60" rx="0.80" fill="#000" fill-opacity="0.25"/><rect x="491.90" y="549.40" width="10.20" height="1.60" rx="0.80" fill="#000" fill-opacity="0.25"/><rect x="503.40" y="549.20" width="10.20" height="1.60" rx="0.80" fill="#000" fill-opacity="0.25"/>
<rect x="383.90" y="561.50" width="9.80" height="1.60" rx="0.80" fill="#000" fill-opacity="0.20"/><rect x="395.30" y="561.50" width="9.80" height="1.60" rx="0.80" fill="#000" fill-opacity="0.20"/><rect x="406.60" y="561.50" width="9.80" height="1.60" rx="0.80" fill="#000" fill-opacity="0.15"/><rect x="417.70" y="561.50" width="9.80" height="1.60" rx="0.80" fill="#000" fill-opacity="0.10"/><rect x="481.40" y="561.50" width="9.80" height="1.60" rx="0.80" fill="#000" fill-opacity="0.15"/><rect x="492.10" y="561.50" width="9.80" height="1.60" rx="0.80" fill="#000" fill-opacity="0.15"/>
<rect x="383.90" y="565.35" width="9.80" height="6.50" rx="3.25" fill="#000" fill-opacity="0.08"/><rect x="395.30" y="565.35" width="9.80" height="6.50" rx="3.25" fill="#000" fill-opacity="0.08"/><rect x="406.60" y="565.35" width="9.80" height="6.50" rx="3.25" fill="#000" fill-opacity="0.06"/><rect x="417.70" y="565.15" width="9.80" height="6.50" rx="3.25" fill="#000" fill-opacity="0.05"/><rect x="427.90" y="565.35" width="9.80" height="6.50" rx="3.25" fill="#000" fill-opacity="0.01"/><rect x="481.40" y="563.75" width="9.80" height="6.50" rx="3.25" fill="#000" fill-opacity="0.08"/><rect x="492.10" y="563.75" width="9.80" height="6.50" rx="3.25" fill="#000" fill-opacity="0.09"/><rect x="503.60" y="563.35" width="9.80" height="6.50" rx="3.25" fill="#000" fill-opacity="0.03"/>
<rect x="383.90" y="564.40" width="9.80" height="3.20" rx="1.60" fill="#000" fill-opacity="0.90"/><rect x="395.30" y="564.40" width="9.80" height="3.20" rx="1.60" fill="#000" fill-opacity="0.85"/><rect x="406.60" y="564.40" width="9.80" height="3.20" rx="1.60" fill="#000" fill-opacity="0.70"/><rect x="417.70" y="564.20" width="9.80" height="3.20" rx="1.60" fill="#000" fill-opacity="0.55"/><rect x="427.90" y="564.40" width="9.80" height="3.20" rx="1.60" fill="#000" fill-opacity="0.12"/><rect x="439.10" y="564.40" width="9.80" height="3.20" rx="1.60" fill="#000" fill-opacity="0.02"/><rect x="481.40" y="562.80" width="9.80" height="3.20" rx="1.60" fill="#000" fill-opacity="0.90"/><rect x="492.10" y="562.80" width="9.80" height="3.20" rx="1.60" fill="#000" fill-opacity="0.95"/><rect x="503.60" y="562.40" width="9.80" height="3.20" rx="1.60" fill="#000" fill-opacity="0.30"/>
<rect x="383.60" y="579.75" width="10.40" height="6.50" rx="3.25" fill="#000" fill-opacity="0.09"/><rect x="395.00" y="579.75" width="10.40" height="6.50" rx="3.25" fill="#000" fill-opacity="0.09"/><rect x="406.30" y="579.65" width="10.40" height="6.50" rx="3.25" fill="#000" fill-opacity="0.09"/><rect x="417.40" y="579.55" width="10.40" height="6.50" rx="3.25" fill="#000" fill-opacity="0.09"/><rect x="427.60" y="579.55" width="10.40" height="6.50" rx="3.25" fill="#000" fill-opacity="0.09"/><rect x="438.80" y="579.15" width="10.40" height="6.50" rx="3.25" fill="#000" fill-opacity="0.09"/><rect x="449.40" y="578.75" width="10.40" height="6.50" rx="3.25" fill="#000" fill-opacity="0.09"/><rect x="459.60" y="578.15" width="10.40" height="6.50" rx="3.25" fill="#000" fill-opacity="0.09"/><rect x="470.40" y="577.25" width="10.40" height="6.50" rx="3.25" fill="#000" fill-opacity="0.09"/><rect x="481.10" y="576.65" width="10.40" height="6.50" rx="3.25" fill="#000" fill-opacity="0.09"/><rect x="491.80" y="575.85" width="10.40" height="6.50" rx="3.25" fill="#000" fill-opacity="0.09"/><rect x="503.30" y="575.35" width="10.40" height="6.50" rx="3.25" fill="#000" fill-opacity="0.09"/>
<rect x="383.60" y="578.90" width="10.40" height="3.00" rx="1.50" fill="#000" fill-opacity="0.95" transform="rotate(-4 388.8 580.4)"/><rect x="395.00" y="578.90" width="10.40" height="3.00" rx="1.50" fill="#000" fill-opacity="0.95" transform="rotate(-4 400.2 580.4)"/><rect x="406.30" y="578.80" width="10.40" height="3.00" rx="1.50" fill="#000" fill-opacity="0.95" transform="rotate(-4 411.5 580.3)"/><rect x="417.40" y="578.70" width="10.40" height="3.00" rx="1.50" fill="#000" fill-opacity="0.95" transform="rotate(-4 422.6 580.2)"/><rect x="427.60" y="578.70" width="10.40" height="3.00" rx="1.50" fill="#000" fill-opacity="0.95" transform="rotate(-4 432.8 580.2)"/><rect x="438.80" y="578.30" width="10.40" height="3.00" rx="1.50" fill="#000" fill-opacity="0.95" transform="rotate(-4 444.0 579.8)"/><rect x="449.40" y="577.90" width="10.40" height="3.00" rx="1.50" fill="#000" fill-opacity="0.95" transform="rotate(-4 454.6 579.4)"/><rect x="459.60" y="577.30" width="10.40" height="3.00" rx="1.50" fill="#000" fill-opacity="0.95" transform="rotate(-4 464.8 578.8)"/><rect x="470.40" y="576.40" width="10.40" height="3.00" rx="1.50" fill="#000" fill-opacity="0.95" transform="rotate(-4 475.6 577.9)"/><rect x="481.10" y="575.80" width="10.40" height="3.00" rx="1.50" fill="#000" fill-opacity="0.95" transform="rotate(-4 486.3 577.3)"/><rect x="491.80" y="575.00" width="10.40" height="3.00" rx="1.50" fill="#000" fill-opacity="0.95" transform="rotate(-4 497.0 576.5)"/><rect x="503.30" y="574.50" width="10.40" height="3.00" rx="1.50" fill="#000" fill-opacity="0.95" transform="rotate(-4 508.5 576.0)"/>
<rect x="383.70" y="593.85" width="10.20" height="2.90" rx="1.45" fill="#000" fill-opacity="1.00"/><rect x="395.10" y="593.85" width="10.20" height="2.90" rx="1.45" fill="#000" fill-opacity="1.00"/><rect x="406.40" y="593.85" width="10.20" height="2.90" rx="1.45" fill="#000" fill-opacity="1.00"/><rect x="417.50" y="593.45" width="10.20" height="2.90" rx="1.45" fill="#000" fill-opacity="0.95"/><rect x="427.70" y="593.55" width="10.20" height="2.90" rx="1.45" fill="#000" fill-opacity="0.90"/><rect x="438.90" y="593.65" width="10.20" height="2.90" rx="1.45" fill="#000" fill-opacity="0.85"/><rect x="449.50" y="593.75" width="10.20" height="2.90" rx="1.45" fill="#000" fill-opacity="0.85"/><rect x="459.70" y="593.75" width="10.20" height="2.90" rx="1.45" fill="#000" fill-opacity="0.85"/><rect x="470.50" y="593.75" width="10.20" height="2.90" rx="1.45" fill="#000" fill-opacity="0.85"/><rect x="481.20" y="593.75" width="10.20" height="2.90" rx="1.45" fill="#000" fill-opacity="0.85"/><rect x="491.90" y="593.45" width="10.20" height="2.90" rx="1.45" fill="#000" fill-opacity="0.90"/><rect x="503.40" y="593.25" width="10.20" height="2.90" rx="1.45" fill="#000" fill-opacity="0.90"/>
<rect x="383.60" y="594.65" width="10.40" height="6.50" rx="3.25" fill="#000" fill-opacity="0.09"/><rect x="395.00" y="594.65" width="10.40" height="6.50" rx="3.25" fill="#000" fill-opacity="0.09"/><rect x="406.30" y="594.65" width="10.40" height="6.50" rx="3.25" fill="#000" fill-opacity="0.05"/><rect x="503.30" y="594.05" width="10.40" height="6.50" rx="3.25" fill="#000" fill-opacity="0.04"/>
<rect x="383.60" y="592.80" width="10.40" height="5.00" rx="2.50" fill="#000" fill-opacity="1.00"/><rect x="395.00" y="592.80" width="10.40" height="5.00" rx="2.50" fill="#000" fill-opacity="1.00"/><rect x="406.30" y="592.80" width="10.40" height="5.00" rx="2.50" fill="#000" fill-opacity="0.60"/><rect x="503.30" y="592.20" width="10.40" height="5.00" rx="2.50" fill="#000" fill-opacity="0.50"/>
</g></g>
<g id="panel-g">
<text x="3.00" y="630.72" font-size="12" font-weight="bold" text-anchor="start" fill="#1c1c1c" stroke="#1c1c1c">G</text>
<text x="142.00" y="654.84" font-size="9.0" font-weight="bold" text-anchor="middle" fill="#1c1c1c" stroke="#1c1c1c">Binding affinity (Biacore)</text>
<text x="141.3" y="663.7" font-size="7.75" font-weight="bold" text-anchor="middle" fill="#1c1c1c" stroke="#1c1c1c">Lower K<tspan font-size="4.6" dy="1.4">d</tspan><tspan dy="-1.4"> indicates better potency</tspan></text>
<line x1="46.80" y1="674.20" x2="46.80" y2="821.50" stroke="#333" stroke-width="1.1"/>
<line x1="46.30" y1="821.00" x2="244.00" y2="821.00" stroke="#333" stroke-width="1.1"/>
<line x1="44.00" y1="821.00" x2="46.80" y2="821.00" stroke="#444" stroke-width="0.9"/>
<text x="41.70" y="823.88" font-size="8.0" text-anchor="end" fill="#1c1c1c" stroke="#1c1c1c">10</text>
<line x1="44.00" y1="784.40" x2="46.80" y2="784.40" stroke="#444" stroke-width="0.9"/>
<text x="41.70" y="787.28" font-size="8.0" text-anchor="end" fill="#1c1c1c" stroke="#1c1c1c">100</text>
<line x1="44.00" y1="747.80" x2="46.80" y2="747.80" stroke="#444" stroke-width="0.9"/>
<text x="41.70" y="750.68" font-size="8.0" text-anchor="end" fill="#1c1c1c" stroke="#1c1c1c">1,000</text>
<line x1="44.00" y1="711.20" x2="46.80" y2="711.20" stroke="#444" stroke-width="0.9"/>
<text x="41.70" y="714.08" font-size="8.0" text-anchor="end" fill="#1c1c1c" stroke="#1c1c1c">10,000</text>
<line x1="44.00" y1="674.60" x2="46.80" y2="674.60" stroke="#444" stroke-width="0.9"/>
<text x="41.70" y="677.48" font-size="8.0" text-anchor="end" fill="#1c1c1c" stroke="#1c1c1c">100,000</text>
<rect x="61.00" y="771.87" width="18.60" height="48.73" fill="#ea2127"/>
<rect x="79.60" y="707.91" width="18.60" height="112.69" fill="#1d1d1d"/>
<line x1="70.30" y1="771.87" x2="70.30" y2="768.03" stroke="#8a3030" stroke-width="0.8"/>
<line x1="68.90" y1="768.03" x2="71.70" y2="768.03" stroke="#8a3030" stroke-width="0.8"/>
<line x1="88.90" y1="707.91" x2="88.90" y2="704.23" stroke="#1d1d1d" stroke-width="0.8"/>
<line x1="87.50" y1="704.23" x2="90.30" y2="704.23" stroke="#1d1d1d" stroke-width="0.8"/>
<text x="79.60" y="835.24" font-size="9.0" font-weight="bold" text-anchor="middle" fill="#1c1c1c" stroke="#1c1c1c">Mobocertinib</text>
<rect x="126.80" y="763.31" width="18.60" height="57.29" fill="#ea2127"/>
<rect x="145.40" y="770.82" width="18.60" height="49.78" fill="#1d1d1d"/>
<line x1="136.10" y1="763.31" x2="136.10" y2="760.96" stroke="#8a3030" stroke-width="0.8"/>
<line x1="134.70" y1="760.96" x2="137.50" y2="760.96" stroke="#8a3030" stroke-width="0.8"/>
<line x1="154.70" y1="770.82" x2="154.70" y2="769.21" stroke="#1d1d1d" stroke-width="0.8"/>
<line x1="153.30" y1="769.21" x2="156.10" y2="769.21" stroke="#1d1d1d" stroke-width="0.8"/>
<text x="145.40" y="835.24" font-size="9.0" font-weight="bold" text-anchor="middle" fill="#1c1c1c" stroke="#1c1c1c">Afatinib</text>
<rect x="192.40" y="702.12" width="18.60" height="118.48" fill="#ea2127"/>
<rect x="211.00" y="690.62" width="18.60" height="129.98" fill="#1d1d1d"/>
<line x1="201.70" y1="702.12" x2="201.70" y2="701.34" stroke="#8a3030" stroke-width="0.8"/>
<line x1="200.30" y1="701.34" x2="203.10" y2="701.34" stroke="#8a3030" stroke-width="0.8"/>
<line x1="220.30" y1="690.62" x2="220.30" y2="690.11" stroke="#1d1d1d" stroke-width="0.8"/>
<line x1="218.90" y1="690.11" x2="221.70" y2="690.11" stroke="#1d1d1d" stroke-width="0.8"/>
<text x="211.00" y="835.24" font-size="9.0" font-weight="bold" text-anchor="middle" fill="#1c1c1c" stroke="#1c1c1c">Osimertinib</text>
<rect x="86.00" y="674.00" width="3.80" height="4.20" fill="#e0203c"/>
<text x="91.40" y="678.64" font-size="7.6" text-anchor="start" fill="#1c1c1c" stroke="#1c1c1c">EGFRex20ins NPG</text>
<rect x="169.00" y="673.50" width="4.20" height="4.40" fill="#1d1d1d"/>
<text x="175.00" y="678.71" font-size="7.8" text-anchor="start" fill="#1c1c1c" stroke="#1c1c1c">WT EGFR</text>
<text font-size="8.2" font-weight="bold" text-anchor="middle" fill="#1c1c1c" stroke="#1c1c1c" transform="translate(8.6 747) rotate(-90)">K<tspan font-size="5" dy="1.4">d</tspan><tspan dy="-1.4"> ± SD (nmol/L)</tspan></text>
</g>
<g id="panel-h">
<text x="281.20" y="630.72" font-size="12" font-weight="bold" text-anchor="start" fill="#1c1c1c" stroke="#1c1c1c">H</text>
<g fill="none" stroke-linecap="round" stroke-linejoin="round">
<path d="M394.6,706 C394.6,712 394.4,720 394.8,727 S396.5,739 399,744.5 S402,754 402.5,760" stroke="#bfc5cc" stroke-width="1.4"/>
<g id="kin-other" stroke="#d6dfe5">
<path d="M394.6,724.2 L393.0,724.4 L391.4,724.7 L389.9,724.9 L388.3,725.2 L386.7,725.4 L385.1,725.7 L383.5,725.9 L381.9,726.1 L380.4,726.4 L378.8,726.6 L377.2,726.9 L375.6,727.1 L374.0,727.3 L372.4,727.5 L370.9,727.7 L369.3,728.0 L367.7,728.2" stroke-width="1.0"/>
<path d="M394.6,722.0 L393.4,720.9 L392.3,719.8 L391.1,718.7 L389.9,717.6 L388.8,716.5 L387.6,715.4 L386.4,714.3 L385.3,713.2 L384.1,712.1 L383.0,711.0 L381.8,709.9 L380.6,708.8 L379.5,707.7 L378.3,706.6 L377.2,705.5 L376.1,704.4 L374.9,703.2 L373.8,702.1 L372.6,701.0 L371.5,699.8 L370.4,698.7 L369.3,697.5 L368.2,696.4 L367.1,695.2 L366.0,694.1 L364.9,692.9 L363.8,691.8 L362.7,690.6 L361.6,689.4 L360.5,688.2 L359.4,687.1 M394.6,724.0 L393.0,723.7 L391.4,723.4 L389.9,723.2 L388.3,722.9 L386.7,722.6 L385.1,722.3 L383.6,722.1 L382.0,721.8 L380.4,721.5 L378.9,721.2 L377.3,720.9 L375.7,720.6 L374.1,720.3 L372.6,720.0 L371.0,719.7 L369.4,719.3 L367.9,719.0 L366.3,718.7 L364.7,718.4 L363.1,718.1 L361.6,717.8 L360.0,717.5 L358.4,717.2 L356.9,716.9 L355.3,716.6 L353.7,716.2 M395.0,728.0 L393.8,729.0 L392.5,730.0 L391.3,731.1 L390.1,732.1 L388.8,733.1 L387.6,734.1 L386.4,735.1 L385.1,736.2 L383.9,737.2 L382.7,738.2 L381.4,739.2 L380.2,740.2 L378.9,741.2 L377.7,742.2 L376.4,743.2 L375.1,744.2 L373.9,745.1 L372.6,746.1 L371.3,747.1 L370.1,748.1 L368.8,749.1 L367.5,750.0 L366.3,751.0 L365.0,751.9 L363.7,752.9 L362.4,753.8 L361.1,754.8 L359.8,755.8 L358.6,756.7 L357.3,757.6 L356.0,758.6 L354.7,759.5 L353.4,760.4 L352.1,761.4 L350.7,762.3 L349.4,763.2 L348.1,764.1 M394.6,712.0 L393.3,711.0 L392.0,710.1 L390.7,709.1 L389.4,708.2 L388.1,707.3 L386.8,706.4 L385.5,705.5 L384.2,704.5 L382.9,703.7 L381.5,702.8 L380.2,701.9 L378.9,701.0 L377.5,700.2 L376.2,699.3 L374.8,698.5 L373.4,697.6 L372.1,696.8 L370.7,695.9 L369.4,695.1 L368.0,694.3 L366.6,693.5 L365.2,692.6 L363.8,691.8 M398.7,743.7 L397.3,744.4 L395.8,745.1 L394.4,745.8 L392.9,746.5 L391.5,747.2 L390.1,747.9 L388.6,748.6 L387.2,749.4 L385.8,750.1 L384.4,750.8 L383.0,751.6 L381.6,752.3 L380.2,753.1 L378.7,753.9 L377.3,754.6 L375.9,755.4 L374.5,756.2 L373.1,756.9 L371.7,757.7 L370.3,758.5 L368.9,759.3 L367.5,760.0 L366.1,760.8 L364.8,761.6 L363.4,762.4 L362.0,763.2 L360.6,764.0 L359.2,764.9 L357.9,765.7 L356.5,766.5 L355.1,767.3 L353.8,768.2 L352.4,769.0" stroke-width="0.9"/>
<path d="M396.0,735.0 L394.6,735.7 L393.1,736.4 L391.7,737.1 L390.2,737.7 L388.8,738.4 L387.3,739.1 L385.9,739.8 L384.5,740.5 L383.0,741.2 L381.6,741.9 L380.1,742.6 L378.7,743.2 L377.2,743.9 L375.8,744.6 L374.3,745.3 L372.9,746.0 L371.4,746.6 L370.0,747.3 L368.5,748.0 L367.1,748.6 L365.6,749.3 L364.1,750.0 L362.7,750.6 L361.2,751.3 L359.8,752.0 M397.0,730.0 L398.5,730.5 L400.0,731.1 L401.5,731.6 L403.0,732.2 L404.5,732.7 L406.0,733.2 L407.5,733.8 L409.0,734.3 L410.5,734.9 L412.0,735.5 L413.5,736.0 L415.0,736.6 L416.5,737.1 L418.0,737.7 L419.5,738.2 L421.0,738.8 L422.5,739.4 L424.0,739.9 M394.6,717.0 L393.1,716.5 L391.6,715.9 L390.1,715.4 L388.6,714.8 L387.1,714.3 L385.6,713.7 L384.1,713.2 L382.6,712.6 L381.1,712.1 L379.6,711.5 L378.1,711.0 L376.6,710.4 L375.1,709.8 L373.6,709.2 L372.1,708.7 L370.6,708.1 L369.1,707.5 L367.6,706.9 L366.1,706.3 L364.7,705.7 L363.2,705.1 L361.7,704.5 L360.2,704.0 L358.7,703.4 L357.2,702.8 L355.7,702.2 L354.3,701.6 L352.8,701.0" stroke-width="0.8"/>
<path d="M383.0,711.0 L382.5,709.5 L382.1,707.9 L381.7,706.4 L381.3,704.8 L380.9,703.3 L380.5,701.8 L380.0,700.2 L379.6,698.7 L379.2,697.1 L378.8,695.6 M379.5,707.7 L377.9,707.5 L376.3,707.2 L374.7,707.0 L373.2,706.8 L371.6,706.6 L370.0,706.4 L368.4,706.2 L366.8,705.9 M376.1,704.4 L375.5,702.9 L374.9,701.4 L374.3,699.9 L373.6,698.5 L372.9,697.0 L372.2,695.6 M372.6,701.0 L371.1,700.8 L369.5,700.5 L367.9,700.3 L366.3,700.1 L364.7,699.8 L363.2,699.5 M369.3,697.5 L368.8,696.0 L368.2,694.5 L367.6,693.1 L367.0,691.6 L366.3,690.1 M367.1,695.2 L365.5,694.9 L364.0,694.5 L362.4,694.1 M363.8,691.8 L363.5,690.2 L363.1,688.6 M360.5,688.2 L358.9,687.9 L357.4,687.5 M380.4,721.5 L379.2,720.5 L377.9,719.5 L376.7,718.4 L375.4,717.5 L374.2,716.5 L372.9,715.6 L371.6,714.6 L370.2,713.7 L368.9,712.9 M375.7,720.6 L374.2,721.0 L372.7,721.5 L371.1,721.9 L369.6,722.4 L368.0,722.7 L366.5,723.1 M372.6,720.0 L371.5,718.8 L370.4,717.6 L369.3,716.5 L368.2,715.3 L367.1,714.2 M369.4,719.3 L368.0,720.0 L366.5,720.7 L365.1,721.3 L363.6,721.9 L362.1,722.6 L360.6,723.2 M364.7,718.4 L363.4,717.5 L362.2,716.5 L360.9,715.6 M360.0,717.5 L358.5,718.0 L356.9,718.5 M356.9,716.9 L355.6,715.9 L354.4,714.9 M380.2,740.2 L378.6,740.3 L377.0,740.4 L375.4,740.6 L373.8,740.8 L372.2,741.0 L370.6,741.1 L369.0,741.3 L367.4,741.6 L365.9,741.8 L364.3,742.0 L362.7,742.3 L361.1,742.6 M376.4,743.2 L375.7,744.6 L374.9,746.0 L374.2,747.4 L373.4,748.8 L372.6,750.2 L371.8,751.6 L370.9,752.9 L370.0,754.2 L369.1,755.6 L368.2,756.9 L367.2,758.1 M373.9,745.1 L372.3,745.3 L370.7,745.5 L369.1,745.8 L367.5,746.0 L366.0,746.3 L364.4,746.6 L362.8,746.8 L361.2,747.1 L359.7,747.4 M370.1,748.1 L369.4,749.5 L368.8,751.0 L368.1,752.5 L367.5,753.9 L366.8,755.4 L366.1,756.8 L365.3,758.2 L364.6,759.6 M367.5,750.0 L365.9,750.1 L364.3,750.1 L362.7,750.2 L361.1,750.2 L359.5,750.3 L357.9,750.3 M363.7,752.9 L362.9,754.3 L362.1,755.6 L361.2,757.0 L360.4,758.3 L359.5,759.7 M359.8,755.8 L358.2,755.8 L356.6,755.8 L355.0,755.9 L353.4,755.9 M357.3,757.6 L356.6,759.1 L355.9,760.5 L355.2,762.0 L354.4,763.4 M353.4,760.4 L351.8,760.4 L350.2,760.5 M349.4,763.2 L348.7,764.6 L347.9,766.0 M384.2,704.5 L383.4,703.2 L382.6,701.8 L381.7,700.4 L380.9,699.0 L380.1,697.7 L379.2,696.4 M381.5,702.8 L380.0,702.5 L378.4,702.1 L376.8,701.8 L375.3,701.3 L373.8,700.9 M378.9,701.0 L378.0,699.7 L377.1,698.3 L376.2,697.0 L375.3,695.7 M374.8,698.5 L373.2,698.4 L371.6,698.3 L370.0,698.2 L368.4,698.1 M372.1,696.8 L371.4,695.3 L370.6,693.9 M369.4,695.1 L367.8,694.9 L366.2,694.7 M365.2,692.6 L364.4,691.3 L363.5,689.9 M383.0,751.6 L381.4,751.7 L379.8,751.7 L378.2,751.8 L376.6,751.9 L375.0,752.0 L373.4,752.2 L371.8,752.3 L370.2,752.5 L368.6,752.8 L367.0,753.0 M378.7,753.9 L377.7,755.1 L376.7,756.3 L375.7,757.5 L374.6,758.7 L373.4,759.9 L372.3,761.0 L371.1,762.1 M374.5,756.2 L372.9,756.2 L371.3,756.3 L369.7,756.5 L368.2,756.6 L366.6,756.8 L365.0,756.9 L363.4,757.1 L361.8,757.3 M371.7,757.7 L371.0,759.1 L370.4,760.6 L369.6,762.0 L368.9,763.5 L368.2,764.9 L367.4,766.3 M367.5,760.0 L365.9,759.8 L364.4,759.6 L362.8,759.5 L361.2,759.3 L359.6,759.2 M363.4,762.4 L362.6,763.8 L361.8,765.2 L361.0,766.6 L360.2,768.0 M359.2,764.9 L357.6,764.7 L356.0,764.5 L354.5,764.3 M355.1,767.3 L354.4,768.7 L353.6,770.1" stroke-width="0.65"/>
<path d="M384.5,740.5 L382.9,740.3 L381.3,740.1 L379.7,740.0 L378.1,739.8 L376.5,739.6 L374.9,739.5 M380.1,742.6 L379.1,743.8 L378.0,745.0 L376.9,746.1 L375.7,747.2 L374.5,748.3 L373.3,749.3 M377.2,743.9 L375.6,744.0 L374.0,744.0 L372.4,744.1 L370.8,744.2 M372.9,746.0 L371.9,747.2 L370.9,748.5 L369.9,749.7 L368.9,750.9 M368.5,748.0 L366.9,747.9 L365.3,747.8 L363.7,747.8 M364.1,750.0 L363.4,751.4 L362.6,752.8 M361.2,751.3 L359.6,751.3 L358.0,751.4 M406.0,733.2 L407.1,734.4 L408.2,735.6 L409.3,736.8 L410.4,737.9 L411.6,739.0 M410.5,734.9 L412.1,734.7 L413.7,734.5 L415.3,734.4 L416.9,734.3 L418.5,734.3 M415.0,736.6 L416.1,737.8 L417.2,739.0 L418.3,740.1 M419.5,738.2 L421.1,737.9 L422.7,737.6 M379.6,711.5 L378.7,710.2 L377.8,708.9 L376.9,707.6 L376.0,706.3 L375.0,705.0 L374.1,703.7 L373.1,702.4 L372.1,701.2 M375.1,709.8 L373.5,709.9 L371.9,710.0 L370.3,710.1 L368.7,710.1 L367.1,710.0 L365.5,709.9 L363.9,709.8 M370.6,708.1 L369.5,706.9 L368.4,705.8 L367.3,704.6 L366.1,703.6 L364.9,702.5 M366.1,706.3 L364.6,706.4 L363.0,706.4 L361.4,706.4 L359.8,706.4 M361.7,704.5 L360.7,703.3 L359.7,702.0 L358.7,700.8 M357.2,702.8 L355.7,703.1 L354.1,703.4 M354.3,701.6 L353.2,700.4 L352.0,699.3" stroke-width="0.58"/>
<path d="M380.9,703.3 L381.1,701.7 L381.3,700.1 L381.5,698.5 M379.6,698.7 L378.6,697.5 L377.6,696.2 M374.7,707.0 L373.3,707.7 L371.8,708.4 M371.6,706.6 L370.5,705.5 L369.4,704.3 M374.3,699.9 L374.5,698.3 L374.6,696.7 M367.9,700.3 L366.5,701.1 L365.1,701.9 M364.7,699.8 L363.5,698.8 L362.3,697.8 M368.2,694.5 L368.6,693.0 L369.0,691.4 M367.0,691.6 L365.7,690.6 L364.4,689.7 M375.4,717.5 L375.0,715.9 L374.5,714.4 L374.0,712.9 M372.9,715.6 L371.3,715.4 L369.7,715.3 M371.1,721.9 L369.9,723.0 L368.7,724.0 M369.3,716.5 L369.0,714.9 L368.7,713.3 M365.1,721.3 L364.2,722.7 L363.4,724.1 M362.1,722.6 L360.5,722.3 L358.9,722.1 M362.2,716.5 L361.4,715.1 L360.7,713.7 M356.9,718.5 L356.0,719.7 L354.9,721.0 M372.2,741.0 L370.8,740.2 L369.4,739.4 L368.0,738.6 L366.6,737.8 M369.0,741.3 L367.8,742.4 L366.7,743.5 M365.9,741.8 L364.4,741.2 L362.9,740.6 M372.6,750.2 L372.5,751.8 L372.4,753.4 L372.3,755.0 L372.1,756.6 M370.0,754.2 L368.6,754.9 L367.1,755.6 M367.5,746.0 L366.0,745.6 L364.4,745.2 M362.8,746.8 L361.5,747.8 L360.3,748.8 M368.1,752.5 L368.5,754.0 L368.8,755.6 M366.1,756.8 L364.7,757.5 L363.3,758.3 M362.7,750.2 L361.4,749.3 L360.0,748.5 M361.2,757.0 L361.2,758.6 L361.1,760.2 M356.6,755.8 L355.2,755.1 L353.7,754.5 M355.2,762.0 L355.4,763.5 L355.6,765.1 M351.8,760.4 L350.4,759.6 L349.0,758.8 M380.9,699.0 L380.7,697.5 L380.5,695.9 M378.4,702.1 L377.0,702.8 L375.5,703.5 M375.3,701.3 L374.1,700.3 L372.8,699.3 M376.2,697.0 L376.3,695.4 L376.3,693.8 M371.6,698.3 L370.2,699.0 L368.7,699.7 M379.7,740.0 L378.3,739.1 L377.0,738.3 M376.9,746.1 L376.5,747.7 L376.0,749.2 M374.0,744.0 L372.6,743.4 L371.1,742.8 M369.9,749.7 L369.5,751.3 L369.0,752.8 M365.3,747.8 L364.0,746.9 L362.7,746.0 M376.6,751.9 L375.2,751.1 L373.8,750.4 M371.8,752.3 L370.4,753.1 L369.0,753.9 M375.7,757.5 L375.2,759.1 L374.7,760.6 M373.4,759.9 L371.9,760.4 L370.4,761.0 M368.2,756.6 L366.8,755.7 L365.5,754.9 M365.0,756.9 L363.6,757.8 L362.2,758.6 M369.6,762.0 L369.7,763.6 L369.8,765.2 M362.8,759.5 L361.5,758.4 L360.3,757.4 M361.8,765.2 L362.0,766.8 L362.2,768.4 M376.0,706.3 L375.7,704.7 L375.5,703.1 L375.2,701.5 M373.1,702.4 L371.6,701.8 L370.1,701.2 M370.3,710.1 L369.0,711.0 L367.7,711.9 M365.5,709.9 L364.2,709.0 L362.8,708.2 M368.4,705.8 L368.2,704.2 L367.9,702.6 M366.1,703.6 L364.5,703.1 L363.0,702.7 M361.4,706.4 L360.0,707.2 L358.6,708.1 M359.7,702.0 L359.6,700.4 L359.5,698.8" stroke-width="0.5"/>
</g>
<g id="kin-tk" stroke="#bf9fc8">
<path d="M394.6,707.0 L394.2,705.5 L393.7,703.9 L393.2,702.4 L392.7,700.9 L392.2,699.4 L391.7,697.9 L391.2,696.3 L390.6,694.8 L390.0,693.3 L389.5,691.9 L388.9,690.4 L388.2,688.9 L387.6,687.4 L387.0,686.0 L386.3,684.5 L385.7,683.0 L385.0,681.6 L384.3,680.1 L383.6,678.7 L382.9,677.3 L382.2,675.8 L381.4,674.4 L380.7,673.0 L379.9,671.6 L379.1,670.2 L378.3,668.8 L377.5,667.4 L376.7,666.0 L375.9,664.7 L375.1,663.3 L374.2,662.0 L373.3,660.6 L372.5,659.3 L371.6,658.0 L370.7,656.6 L369.8,655.3 L368.9,654.0 L367.9,652.7 L367.0,651.4 L366.0,650.1 L365.0,648.9 L364.0,647.6 L363.0,646.4 L362.0,645.2 L360.9,643.9 L359.9,642.7 L358.9,641.5 L357.8,640.3 L356.7,639.1 L355.6,638.0 L354.5,636.8 L353.4,635.6 L352.3,634.5 L351.2,633.4 L350.0,632.2 L348.9,631.1 L347.7,630.0 L346.6,628.9" stroke-width="1.3"/>
<path d="M383.6,678.7 L383.8,677.1 L383.9,675.5 L384.0,673.9 L384.2,672.3 L384.3,670.7 L384.4,669.1 L384.5,667.5 L384.6,665.9 L384.6,664.3 L384.7,662.7 L384.8,661.1 L384.8,659.5 M382.2,675.8 L380.8,675.0 L379.4,674.2 L378.1,673.3 L376.7,672.5 L375.4,671.6 L374.1,670.7 L372.8,669.7 L371.5,668.8 L370.3,667.8 L369.0,666.8 L367.8,665.8 L366.5,664.7 M379.9,671.6 L380.0,670.0 L380.1,668.4 L380.2,666.8 L380.2,665.2 L380.2,663.6 L380.1,662.0 L380.0,660.4 L379.9,658.8 L379.7,657.2 L379.5,655.6 L379.3,654.1 L379.1,652.5 L378.8,650.9 L378.5,649.3 M377.5,667.4 L376.1,666.7 L374.7,666.0 L373.3,665.2 L371.9,664.4 L370.5,663.6 L369.2,662.7 L367.8,661.9 L366.5,661.0 L365.2,660.1 L363.8,659.2 L362.5,658.3 L361.3,657.3 L360.0,656.3 L358.8,655.3 L357.6,654.2 M375.1,663.3 L375.0,661.7 L374.9,660.1 L374.8,658.5 L374.6,656.9 L374.5,655.3 L374.4,653.7 L374.3,652.2 L374.1,650.6 L373.9,649.0 L373.8,647.4 L373.7,645.8 L373.6,644.2 L373.4,642.6 M372.5,659.3 L371.1,658.5 L369.7,657.7 L368.3,656.9 L366.9,656.1 L365.5,655.3 L364.2,654.5 L362.8,653.6 L361.5,652.7 M369.8,655.3 L369.7,653.7 L369.7,652.1 L369.6,650.5 L369.5,648.9 L369.4,647.3 L369.3,645.7 L369.2,644.1 L369.1,642.5 M367.0,651.4 L365.4,651.0 L363.9,650.5 L362.4,650.0 L360.9,649.5 L359.3,649.0 L357.8,648.5 L356.4,647.9 L354.9,647.3 L353.4,646.6 L351.9,646.0 M365.0,648.9 L365.0,647.3 L364.9,645.7 L364.8,644.1 L364.8,642.5 L364.7,640.9 L364.6,639.3 M363.0,646.4 L361.5,646.0 L359.9,645.6 L358.4,645.1 L356.8,644.7 L355.3,644.2 L353.8,643.6 M360.9,643.9 L360.6,642.4 L360.2,640.8 L359.9,639.3 L359.4,637.7 L359.0,636.2 L358.5,634.7 M358.9,641.5 L357.3,641.2 L355.7,640.8 L354.2,640.5 L352.6,640.1 L351.1,639.7 M356.7,639.1 L356.2,637.6 L355.7,636.1 L355.1,634.6 L354.5,633.1 L353.8,631.7 M353.4,635.6 L351.9,635.1 L350.4,634.6 L348.9,634.0 M351.2,633.4 L350.8,631.8 L350.4,630.3 M347.7,630.0 L346.1,629.9 L344.6,629.7" stroke-width="0.94"/>
<path d="M390.0,692.0 L389.4,690.5 L388.8,689.1 L388.1,687.6 L387.5,686.1 L386.9,684.6 L386.3,683.1 L385.7,681.6 L385.1,680.2 L384.5,678.7 L384.0,677.2 L383.4,675.7 L382.8,674.2 L382.2,672.7 L381.6,671.2 L381.1,669.7 L380.5,668.2 L379.9,666.7 L379.4,665.2 L378.8,663.7 L378.3,662.2 L377.7,660.7 L377.2,659.2 L376.6,657.7 L376.1,656.2 L375.5,654.7 L375.0,653.2 L374.4,651.7 L373.9,650.2 L373.3,648.7 L372.8,647.2 L372.3,645.7 L371.7,644.2 L371.2,642.7 L370.7,641.2 L370.1,639.7 L369.6,638.1 L369.1,636.6 L368.5,635.1 L368.0,633.6 L367.4,632.1 L366.9,630.6 M392.5,699.0 L392.3,697.4 L392.1,695.8 L391.9,694.2 L391.7,692.7 L391.5,691.1 L391.3,689.5 L391.1,687.9 L390.9,686.3 L390.7,684.7 L390.5,683.1 L390.4,681.5 L390.2,679.9 L390.1,678.3 L389.9,676.8 L389.7,675.2 L389.6,673.6 L389.5,672.0 L389.3,670.4 L389.2,668.8 L389.1,667.2 L389.0,665.6 L388.9,664.0 L388.8,662.4 L388.7,660.8 L388.6,659.2 L388.5,657.6 L388.4,656.0 L388.4,654.4 L388.3,652.8 L388.2,651.2 L388.2,649.6 L388.1,648.0 L388.0,646.4 L388.0,644.8 L387.9,643.2 L387.9,641.6 M394.0,703.0 L394.2,701.4 L394.3,699.8 L394.5,698.2 L394.6,696.6 L394.8,695.0 L394.9,693.4 L395.1,691.8 L395.2,690.3 L395.3,688.7 L395.4,687.1 L395.5,685.5 L395.6,683.9 L395.7,682.3 L395.8,680.7 L395.9,679.1 L395.9,677.5 L396.0,675.9 L396.1,674.3 L396.1,672.7 L396.2,671.1 L396.2,669.5 L396.3,667.9 L396.3,666.3 L396.3,664.7 L396.4,663.1 L396.4,661.5 L396.4,659.9 L396.4,658.3 L396.4,656.7 L396.4,655.1 L396.4,653.5 L396.3,651.9 M381.0,680.0 L379.6,679.3 L378.1,678.6 L376.7,677.9 L375.2,677.2 L373.8,676.5 L372.4,675.8 L370.9,675.1 L369.5,674.4 L368.1,673.7 L366.6,673.0 L365.2,672.2 L363.8,671.5 L362.4,670.8 L360.9,670.0 L359.5,669.3 L358.1,668.5 L356.7,667.8 L355.3,667.0 L353.9,666.2 L352.5,665.5 L351.1,664.7 L349.7,663.9 L348.3,663.1 L346.9,662.3 L345.6,661.5 L344.2,660.7 L342.8,659.8 L341.4,659.0 L340.1,658.2 L338.7,657.4 L337.3,656.5 L336.0,655.7 L334.6,654.8 L333.3,653.9 L331.9,653.1 L330.6,652.2 M386.0,688.0 L384.4,687.8 L382.8,687.5 L381.3,687.3 L379.7,687.0 L378.1,686.7 L376.5,686.5 L375.0,686.2 L373.4,685.9 L371.8,685.5 L370.2,685.2 L368.7,684.9 L367.1,684.5 L365.6,684.1 L364.0,683.8 L362.5,683.4 L360.9,683.0 L359.4,682.5 L357.8,682.1 L356.3,681.7 L354.8,681.2 L353.2,680.8 L351.7,680.3 L350.2,679.8 L348.6,679.3 L347.1,678.8 L345.6,678.3 L344.1,677.8 L342.6,677.3 L341.1,676.8 L339.6,676.2 L338.1,675.7 L336.6,675.1 L335.1,674.5 L333.6,673.9 L332.1,673.3 L330.6,672.7 L329.1,672.1 L327.7,671.5 M373.0,668.0 L371.7,667.1 L370.4,666.2 L369.0,665.3 L367.7,664.4 L366.4,663.5 L365.1,662.6 L363.7,661.7 L362.4,660.8 L361.0,660.0 L359.7,659.1 L358.3,658.3 L357.0,657.4 L355.7,656.5 L354.3,655.7 L352.9,654.8 L351.6,654.0 L350.2,653.1 L348.9,652.3 L347.5,651.4 L346.1,650.6 L344.8,649.8 L343.4,648.9 L342.0,648.1 L340.7,647.3 L339.3,646.5 L337.9,645.7 L336.5,644.9 L335.1,644.1 L333.8,643.3 L332.4,642.5 L331.0,641.7 M366.0,659.0 L365.3,657.6 L364.6,656.1 L363.9,654.7 L363.2,653.3 L362.5,651.8 L361.7,650.4 L361.0,649.0 L360.3,647.5 L359.6,646.1 L358.9,644.7 L358.2,643.2 L357.4,641.8 L356.7,640.4 L356.0,639.0 L355.2,637.5 L354.5,636.1 L353.8,634.7 L353.1,633.3 L352.3,631.8 L351.6,630.4 L350.9,629.0 L350.1,627.6 M388.0,689.0 L387.1,687.7 L386.1,686.4 L385.2,685.1 L384.3,683.8 L383.3,682.5 L382.4,681.2 L381.4,679.9 L380.5,678.6 L379.6,677.3 L378.7,676.0 L377.7,674.7 L376.8,673.4 L375.9,672.1 L375.0,670.8 L374.1,669.4 L373.2,668.1 L372.3,666.8 L371.4,665.5 L370.5,664.2 L369.6,662.8 L368.7,661.5 L367.8,660.2 L366.9,658.8 L366.1,657.5 L365.2,656.1 L364.3,654.8 L363.5,653.4 L362.6,652.1 L361.8,650.7 L360.9,649.4 L360.1,648.0 L359.2,646.7 L358.4,645.3 L357.6,643.9 L356.8,642.6 L355.9,641.2 L355.1,639.8 L354.3,638.4 L353.5,637.0 L352.7,635.6 L352.0,634.2 L351.2,632.9 M383.0,682.0 L381.8,680.9 L380.6,679.9 L379.4,678.8 L378.3,677.7 L377.1,676.6 L375.9,675.6 L374.7,674.5 L373.5,673.4 L372.3,672.4 L371.1,671.3 L369.9,670.2 L368.7,669.2 L367.5,668.1 L366.3,667.1 L365.0,666.1 L363.8,665.1 L362.6,664.0 L361.3,663.0 L360.1,662.0 L358.8,661.0 L357.6,660.0 L356.3,659.0 L355.1,658.1 L353.8,657.1 L352.6,656.1 L351.3,655.1 L350.0,654.1 L348.8,653.1 L347.5,652.2 L346.2,651.2 L344.9,650.2 L343.7,649.3 L342.4,648.3 L341.1,647.4 L339.8,646.4 L338.5,645.5 L337.2,644.5 L335.9,643.6 M391.0,696.0 L390.6,694.5 L390.2,692.9 L389.8,691.4 L389.4,689.8 L388.9,688.3 L388.5,686.7 L388.1,685.2 L387.7,683.6 L387.2,682.1 L386.8,680.6 L386.3,679.0 L385.9,677.5 L385.4,676.0 L385.0,674.4 L384.5,672.9 L384.0,671.4 L383.6,669.8 L383.1,668.3 L382.7,666.8 L382.2,665.2 L381.8,663.7 L381.3,662.2 L380.9,660.6 L380.4,659.1 L380.0,657.5 L379.5,656.0 L379.1,654.5 L378.7,652.9 L378.2,651.4 L377.8,649.9 L377.4,648.3 L376.9,646.8 L376.5,645.2 L376.1,643.7 L375.7,642.1 L375.3,640.6 L374.8,639.1 M377.0,674.0 L375.4,673.6 L373.9,673.2 L372.4,672.8 L370.8,672.4 L369.3,672.0 L367.7,671.6 L366.2,671.2 L364.6,670.8 L363.1,670.4 L361.5,670.0 L360.0,669.6 L358.4,669.2 L356.9,668.7 L355.3,668.3 L353.8,667.8 L352.3,667.4 L350.7,666.9 L349.2,666.4 L347.7,666.0 L346.2,665.5 L344.6,665.0 L343.1,664.5 L341.6,664.0 L340.1,663.5 L338.5,663.0 L337.0,662.5 L335.5,662.0 L334.0,661.5 L332.5,661.0 L331.0,660.4 L329.5,659.9" stroke-width="0.9"/>
<path d="M393.0,701.0 L393.4,699.5 L393.9,697.9 L394.3,696.4 L394.8,694.9 L395.3,693.3 L395.7,691.8 L396.2,690.3 L396.6,688.7 L397.1,687.2 L397.5,685.6 L398.0,684.1 L398.4,682.6 L398.9,681.0 L399.3,679.5 L399.8,678.0 L400.3,676.5 L400.7,674.9 L401.2,673.4 L401.7,671.9 L402.1,670.3 L402.6,668.8 L403.0,667.3 L403.5,665.7 L403.9,664.2 L404.4,662.7 L404.8,661.1 L405.3,659.6 M369.0,662.0 L367.5,661.4 L366.0,660.8 L364.6,660.2 L363.1,659.5 L361.6,658.9 L360.1,658.3 L358.7,657.6 L357.2,657.0 L355.7,656.4 L354.3,655.7 L352.8,655.1 L351.3,654.5 L349.9,653.8 L348.4,653.2 L347.0,652.5 L345.5,651.9 L344.0,651.2 L342.6,650.5 L341.1,649.8 L339.7,649.2 L338.3,648.5 L336.8,647.8 L335.4,647.1 L333.9,646.4 L332.5,645.7 M360.0,650.0 L358.6,649.2 L357.2,648.4 L355.8,647.6 L354.5,646.8 L353.1,646.0 L351.7,645.2 L350.3,644.4 L348.9,643.6 L347.5,642.8 L346.1,642.0 L344.8,641.2 L343.4,640.4 L342.0,639.6 L340.6,638.8 L339.2,638.0 L337.9,637.2 L336.5,636.3 L335.1,635.5" stroke-width="0.8"/>
<path d="M384.4,669.1 L385.4,667.9 L386.4,666.6 L387.3,665.3 L388.3,664.0 M384.6,664.3 L383.8,663.0 L382.9,661.6 M384.8,661.1 L385.6,659.7 L386.3,658.3 M376.7,672.5 L375.1,672.4 L373.5,672.4 L371.9,672.3 M372.8,669.7 L372.2,668.2 L371.6,666.8 M369.0,666.8 L367.4,666.7 L365.8,666.6 M380.1,662.0 L380.8,660.6 L381.5,659.1 L382.1,657.6 L382.6,656.1 L383.2,654.6 M379.9,658.8 L379.1,657.4 L378.3,656.0 L377.6,654.6 M379.3,654.1 L380.0,652.6 L380.6,651.1 M378.8,650.9 L377.6,649.8 L376.5,648.7 M370.5,663.6 L368.9,663.4 L367.4,663.2 L365.8,662.9 L364.2,662.6 L362.6,662.3 M366.5,661.0 L365.7,659.6 L364.9,658.2 L364.2,656.8 L363.5,655.4 M363.8,659.2 L362.2,659.2 L360.6,659.1 L359.1,659.0 M360.0,656.3 L359.7,654.7 L359.4,653.1 M374.5,655.3 L375.3,653.9 L376.0,652.5 L376.7,651.1 L377.4,649.6 M374.1,650.6 L373.0,649.4 L372.0,648.2 L371.0,646.9 M373.8,647.4 L374.6,646.0 L375.3,644.5 M373.6,644.2 L372.8,642.8 L372.0,641.4 M366.9,656.1 L365.3,656.1 L363.7,656.0 M364.2,654.5 L363.5,653.0 L362.7,651.6 M369.5,648.9 L370.4,647.6 L371.3,646.2 M369.2,644.1 L368.4,642.7 L367.7,641.3 M360.9,649.5 L359.3,649.8 L357.7,650.0 L356.1,650.2 M357.8,648.5 L356.7,647.3 L355.6,646.1 L354.5,645.0 M354.9,647.3 L353.3,647.4 L351.7,647.5 M364.8,644.1 L365.6,642.7 L366.3,641.2 M358.4,645.1 L356.8,645.4 L355.2,645.7 M359.9,639.3 L360.4,637.8 L361.0,636.3 M359.0,636.2 L357.9,635.1 L356.8,633.9 M355.7,640.8 L354.2,641.2 L352.6,641.6 M355.7,636.1 L356.0,634.6 L356.4,633.0 M350.4,634.6 L348.9,635.1 L347.4,635.5" stroke-width="0.67"/>
<path d="M382.2,672.7 L382.5,671.1 L382.9,669.6 L383.1,668.0 L383.4,666.4 L383.6,664.8 L383.7,663.2 L383.8,661.6 L383.8,660.0 L383.8,658.4 L383.9,656.8 M380.5,668.2 L379.3,667.2 L378.1,666.1 L376.9,665.0 L375.8,663.9 L374.7,662.8 L373.6,661.6 L372.5,660.4 L371.4,659.2 L370.4,658.0 M378.8,663.7 L379.0,662.1 L379.2,660.5 L379.4,659.0 L379.5,657.4 L379.7,655.8 L379.8,654.2 L379.9,652.6 M377.2,659.2 L376.1,658.1 L375.0,656.9 L374.0,655.6 L373.0,654.4 L372.0,653.1 L371.0,651.8 M375.5,654.7 L375.7,653.1 L375.8,651.5 L375.9,649.9 L376.1,648.3 L376.1,646.7 L376.1,645.1 L376.1,643.6 M373.9,650.2 L372.6,649.3 L371.2,648.4 L369.9,647.5 L368.6,646.6 L367.3,645.6 M372.3,645.7 L372.7,644.2 L373.2,642.6 L373.6,641.1 L374.0,639.5 M370.7,641.2 L369.4,640.2 L368.1,639.2 L366.8,638.2 M369.1,636.6 L369.2,635.0 L369.3,633.4 M368.0,633.6 L366.8,632.5 L365.7,631.4 M390.2,679.9 L390.7,678.4 L391.1,676.9 L391.5,675.3 L391.9,673.8 L392.3,672.2 L392.6,670.7 L392.9,669.1 L393.2,667.5 L393.4,665.9 M389.7,675.2 L389.0,673.8 L388.2,672.3 L387.5,670.9 L386.8,669.5 L386.1,668.0 L385.5,666.6 L384.8,665.1 L384.3,663.6 L383.7,662.1 L383.2,660.6 M389.3,670.4 L389.9,668.9 L390.4,667.3 L390.8,665.8 L391.3,664.3 L391.7,662.7 L392.2,661.2 L392.6,659.7 L392.9,658.1 M389.0,665.6 L388.3,664.1 L387.7,662.7 L387.0,661.2 L386.5,659.7 L385.9,658.2 L385.4,656.7 M388.7,660.8 L389.4,659.4 L390.1,657.9 L390.7,656.4 L391.3,654.9 L391.8,653.4 M388.4,656.0 L387.7,654.6 L386.9,653.2 L386.2,651.8 L385.5,650.3 M388.3,652.8 L389.1,651.4 L389.9,650.0 L390.6,648.6 L391.3,647.2 M388.1,648.0 L387.4,646.6 L386.7,645.2 M387.9,643.2 L388.8,641.9 L389.6,640.5 M395.5,685.5 L396.4,684.1 L397.2,682.7 L397.9,681.3 L398.7,679.9 L399.5,678.5 L400.2,677.1 L401.0,675.7 L401.7,674.3 M395.8,680.7 L395.1,679.2 L394.4,677.8 L393.8,676.3 L393.1,674.9 L392.5,673.4 L392.0,671.9 L391.5,670.3 M396.0,675.9 L396.9,674.6 L397.8,673.2 L398.7,671.9 L399.5,670.5 L400.4,669.2 L401.1,667.8 M396.2,671.1 L395.2,669.8 L394.3,668.5 L393.4,667.2 L392.5,665.9 L391.7,664.5 M396.3,666.3 L397.0,664.9 L397.7,663.4 L398.4,662.0 L399.1,660.5 M396.4,661.5 L395.4,660.2 L394.5,658.9 L393.5,657.6 M396.4,658.3 L397.3,657.0 L398.3,655.7 M396.4,653.5 L395.5,652.1 L394.7,650.7 M363.8,671.5 L363.0,670.1 L362.2,668.7 L361.4,667.3 L360.6,665.9 L359.8,664.6 L358.9,663.3 L358.0,661.9 L357.0,660.6 L356.1,659.3 L355.1,658.1 L354.1,656.9 L353.0,655.7 L351.9,654.5 M359.5,669.3 L357.9,669.3 L356.3,669.3 L354.7,669.3 L353.1,669.3 L351.5,669.2 L349.9,669.1 L348.3,668.9 L346.8,668.7 M355.3,667.0 L354.3,665.8 L353.3,664.5 L352.3,663.3 L351.2,662.1 L350.2,660.9 L349.1,659.7 L348.0,658.5 L346.9,657.3 M351.1,664.7 L349.5,664.9 L347.9,665.1 L346.3,665.3 L344.8,665.5 L343.2,665.7 L341.6,665.8 L340.0,665.9 M346.9,662.3 L346.2,660.9 L345.3,659.5 L344.5,658.2 L343.5,656.9 L342.6,655.6 L341.7,654.3 M342.8,659.8 L341.2,659.7 L339.6,659.5 L338.1,659.2 L336.5,659.0 M340.1,658.2 L339.3,656.8 L338.5,655.4 L337.6,654.1 M336.0,655.7 L334.4,655.4 L332.8,655.2 M331.9,653.1 L331.1,651.7 L330.3,650.4 M365.6,684.1 L364.5,682.9 L363.4,681.7 L362.3,680.6 L361.2,679.5 L360.0,678.4 L358.7,677.4 L357.5,676.4 L356.2,675.4 L354.9,674.5 L353.6,673.6 L352.3,672.7 L351.0,671.8 M362.5,683.4 L360.9,683.7 L359.3,684.1 L357.8,684.4 L356.2,684.8 L354.7,685.1 L353.1,685.5 L351.5,685.8 L349.9,686.0 L348.4,686.3 M359.4,682.5 L358.2,681.5 L356.9,680.5 L355.7,679.5 L354.4,678.5 L353.1,677.6 L351.8,676.7 L350.5,675.7 L349.1,674.9 L347.8,674.0 L346.4,673.2 L345.0,672.4 M354.8,681.2 L353.3,681.9 L351.8,682.5 L350.3,683.1 L348.8,683.7 L347.4,684.3 L345.9,684.8 L344.4,685.4 L342.9,685.9 L341.3,686.4 L339.8,686.9 M351.7,680.3 L350.6,679.2 L349.4,678.1 L348.2,677.0 L347.0,675.9 L345.8,674.9 L344.6,673.9 M347.1,678.8 L345.6,679.2 L344.0,679.5 L342.4,679.8 L340.8,680.1 L339.3,680.3 M342.6,677.3 L341.5,676.2 L340.4,675.0 L339.3,673.8 L338.2,672.7 L337.1,671.5 M338.1,675.7 L336.5,676.1 L334.9,676.4 L333.4,676.7 M333.6,673.9 L332.8,672.6 L331.9,671.2 M330.6,672.7 L329.0,672.8 L327.4,672.8 M359.7,659.1 L358.9,657.7 L358.2,656.3 L357.4,654.9 L356.6,653.5 L355.8,652.1 L355.0,650.8 L354.1,649.4 L353.3,648.1 L352.4,646.7 M357.0,657.4 L355.4,657.3 L353.8,657.1 L352.2,656.9 L350.7,656.6 L349.1,656.2 L347.5,655.8 L346.0,655.4 L344.5,654.9 L343.0,654.4 M352.9,654.8 L352.3,653.3 L351.7,651.9 L351.1,650.4 L350.4,648.9 L349.7,647.5 L349.1,646.0 L348.4,644.6 M348.9,652.3 L347.3,652.4 L345.7,652.5 L344.1,652.6 L342.5,652.7 L340.9,652.7 M346.1,650.6 L345.4,649.2 L344.6,647.8 L343.7,646.5 L342.9,645.1 L342.0,643.7 L341.2,642.4 M342.0,648.1 L340.4,648.2 L338.8,648.3 L337.3,648.4 L335.7,648.5 M337.9,645.7 L337.2,644.3 L336.4,642.9 M333.8,643.3 L332.2,643.3 L330.6,643.3 M360.3,647.5 L360.3,645.9 L360.3,644.3 L360.2,642.7 L360.2,641.1 L360.1,639.5 L360.0,637.9 M358.9,644.7 L357.6,643.7 L356.3,642.7 L355.1,641.7 L353.9,640.7 L352.7,639.6 M356.7,640.4 L356.6,638.8 L356.5,637.2 L356.3,635.6 L356.2,634.0 L355.9,632.4 M354.5,636.1 L353.2,635.2 L351.9,634.3 L350.6,633.4 M352.3,631.8 L352.6,630.3 L352.7,628.7 M350.9,629.0 L349.4,628.3 L348.0,627.5 M375.0,670.8 L374.9,669.2 L374.7,667.6 L374.5,666.0 L374.3,664.4 L374.1,662.8 L373.8,661.2 L373.5,659.7 L373.2,658.1 L372.8,656.5 L372.4,655.0 L371.9,653.5 L371.5,651.9 M372.3,666.8 L370.8,666.2 L369.3,665.6 L367.9,664.9 L366.4,664.3 L365.0,663.5 L363.6,662.7 L362.3,661.9 L360.9,661.0 L359.6,660.1 M369.6,662.8 L369.6,661.2 L369.7,659.6 L369.7,658.0 L369.6,656.4 L369.6,654.8 L369.6,653.2 L369.6,651.6 L369.5,650.0 L369.5,648.4 M366.9,658.8 L365.5,658.1 L364.1,657.3 L362.7,656.6 L361.3,655.8 L360.0,654.9 L358.6,654.0 L357.3,653.1 L356.0,652.2 L354.7,651.2 L353.5,650.2 M364.3,654.8 L364.4,653.2 L364.5,651.6 L364.5,650.0 L364.5,648.4 L364.6,646.8 L364.5,645.2 M362.6,652.1 L361.2,651.3 L359.8,650.6 L358.4,649.7 L357.1,648.9 L355.7,648.1 L354.3,647.2 M360.9,649.4 L360.7,647.8 L360.5,646.2 L360.2,644.6 L360.0,643.0 L359.7,641.5 L359.3,639.9 M358.4,645.3 L357.1,644.4 L355.8,643.5 L354.4,642.6 L353.1,641.7 M355.9,641.2 L355.9,639.6 L355.7,638.0 L355.6,636.4 M353.5,637.0 L352.2,636.2 L350.8,635.3 M352.0,634.2 L351.9,632.6 L351.8,631.0 M367.5,668.1 L366.9,666.7 L366.2,665.2 L365.5,663.8 L364.8,662.3 L364.1,660.9 L363.3,659.5 L362.5,658.1 L361.7,656.8 L360.9,655.4 M363.8,665.1 L362.2,664.8 L360.6,664.6 L359.1,664.4 L357.5,664.1 L355.9,663.8 L354.4,663.4 L352.8,663.0 L351.3,662.6 L349.7,662.1 L348.2,661.7 L346.7,661.2 M360.1,662.0 L359.4,660.6 L358.7,659.2 L357.9,657.7 L357.2,656.3 L356.4,654.9 L355.7,653.5 L354.9,652.1 L354.2,650.7 M357.6,660.0 L356.0,659.9 L354.4,659.7 L352.8,659.4 L351.3,659.1 L349.7,658.8 L348.1,658.5 L346.6,658.1 M353.8,657.1 L353.3,655.6 L352.7,654.0 L352.2,652.5 L351.6,651.0 L351.1,649.6 L350.4,648.1 M350.0,654.1 L348.4,654.1 L346.8,654.1 L345.2,654.0 L343.6,654.0 L342.0,653.9 L340.4,653.7 M346.2,651.2 L345.5,649.8 L344.8,648.3 L344.1,646.9 L343.3,645.5 M342.4,648.3 L340.8,648.1 L339.2,647.8 L337.7,647.5 M339.8,646.4 L339.2,644.9 L338.5,643.5 M385.4,676.0 L386.0,674.5 L386.5,673.0 L387.0,671.4 L387.5,669.9 L388.0,668.4 L388.5,666.9 L389.0,665.4 L389.5,663.8 L390.0,662.3 L390.5,660.8 L391.0,659.3 L391.5,657.8 M384.0,671.4 L382.9,670.2 L381.8,669.1 L380.7,667.9 L379.7,666.7 L378.7,665.5 L377.7,664.2 L376.7,662.9 M383.1,668.3 L383.5,666.7 L383.8,665.2 L384.1,663.6 L384.4,662.0 L384.7,660.5 L384.9,658.9 L385.1,657.3 L385.3,655.7 M381.8,663.7 L380.7,662.5 L379.6,661.4 L378.5,660.2 L377.4,659.0 L376.4,657.8 L375.3,656.6 L374.3,655.4 M380.4,659.1 L380.8,657.5 L381.0,655.9 L381.3,654.4 L381.5,652.8 L381.7,651.2 L381.8,649.6 M379.1,654.5 L377.9,653.4 L376.8,652.3 L375.6,651.2 L374.5,650.0 L373.4,648.9 M377.8,649.9 L378.3,648.3 L378.8,646.8 L379.2,645.3 L379.5,643.7 M376.5,645.2 L375.4,644.1 L374.3,642.9 M375.3,640.6 L375.6,639.0 L376.0,637.5 M361.5,670.0 L360.5,668.7 L359.5,667.5 L358.4,666.3 L357.3,665.1 L356.2,664.0 L355.0,662.9 L353.9,661.8 L352.7,660.8 M356.9,668.7 L355.3,669.1 L353.8,669.5 L352.2,669.8 L350.6,670.1 L349.0,670.3 L347.5,670.6 L345.9,670.7 L344.3,670.9 M352.3,667.4 L351.1,666.3 L349.9,665.3 L348.6,664.2 L347.4,663.2 L346.2,662.2 L344.9,661.2 L343.6,660.3 L342.3,659.4 M349.2,666.4 L347.6,666.8 L346.1,667.0 L344.5,667.3 L342.9,667.5 L341.3,667.7 L339.7,667.9 M344.6,665.0 L343.4,664.0 L342.2,663.0 L340.9,662.0 L339.6,661.1 L338.3,660.1 L337.0,659.2 M341.6,664.0 L340.0,664.4 L338.5,664.8 L336.9,665.2 M337.0,662.5 L335.9,661.4 L334.7,660.4 L333.4,659.3 M332.5,661.0 L330.9,661.3 L329.4,661.6" stroke-width="0.65"/>
<path d="M397.1,687.2 L398.3,686.2 L399.6,685.2 L400.8,684.2 L402.1,683.2 L403.3,682.2 L404.5,681.2 L405.8,680.1 L407.0,679.1 L408.2,678.1 L409.4,677.0 M398.4,682.6 L398.0,681.0 L397.6,679.5 L397.2,677.9 L396.8,676.4 L396.4,674.8 L396.1,673.3 L395.8,671.7 L395.5,670.1 M399.8,678.0 L400.9,676.8 L402.0,675.7 L403.1,674.5 L404.2,673.3 L405.3,672.2 L406.4,671.0 L407.4,669.8 M401.2,673.4 L400.7,671.9 L400.3,670.3 L399.9,668.8 M402.6,668.8 L403.9,667.9 L405.2,666.9 L406.4,665.9 M403.9,664.2 L403.4,662.7 L402.8,661.2 M404.8,661.1 L405.8,659.9 L406.8,658.6 M357.2,657.0 L356.3,655.7 L355.4,654.4 L354.4,653.1 L353.4,651.9 L352.4,650.6 L351.4,649.4 L350.4,648.1 L349.4,646.9 L348.3,645.7 M354.3,655.7 L352.7,655.8 L351.1,655.8 L349.5,655.8 L347.9,655.7 L346.3,655.6 L344.7,655.5 L343.1,655.3 M349.9,653.8 L349.1,652.4 L348.4,651.0 L347.6,649.6 L346.9,648.2 M345.5,651.9 L343.9,652.1 L342.3,652.4 L340.8,652.6 M341.1,649.8 L340.3,648.5 L339.4,647.2 M336.8,647.8 L335.2,647.8 L333.6,647.8 M351.7,645.2 L350.9,643.8 L350.0,642.5 L349.2,641.1 L348.4,639.7 L347.5,638.4 M347.5,642.8 L345.9,642.7 L344.3,642.6 L342.7,642.4 L341.1,642.3 M343.4,640.4 L342.5,639.0 L341.7,637.7 L340.9,636.3 M340.6,638.8 L339.0,639.0 L337.4,639.2 L335.9,639.5 M336.5,636.3 L335.6,635.0 L334.7,633.7" stroke-width="0.58"/>
<path d="M386.4,666.6 L387.9,666.2 L389.5,665.7 M367.4,666.7 L366.0,667.6 L364.7,668.4 M381.5,659.1 L382.8,658.3 L384.2,657.4 M378.3,656.0 L377.1,655.1 L375.8,654.1 M365.8,662.9 L364.4,663.7 L362.9,664.4 M364.9,658.2 L365.1,656.6 L365.3,655.0 M360.6,659.1 L359.3,660.0 L358.0,660.9 M376.0,652.5 L377.2,651.5 L378.5,650.5 M372.0,648.2 L370.5,647.6 L369.0,647.0 M357.7,650.0 L356.4,651.0 L355.2,652.0 M354.2,641.2 L353.1,642.4 L351.9,643.5 M383.6,664.8 L384.6,663.6 L385.6,662.4 L386.7,661.2 M383.8,660.0 L382.9,658.8 L381.9,657.5 M375.8,663.9 L374.2,663.6 L372.7,663.2 L371.1,662.8 M373.6,661.6 L373.0,660.1 L372.5,658.6 M379.4,659.0 L380.2,657.6 L381.1,656.3 M379.8,654.2 L378.9,652.8 L378.1,651.5 M373.0,654.4 L371.4,654.0 L369.9,653.5 M375.9,649.9 L376.7,648.5 L377.4,647.1 M376.1,645.1 L375.3,643.8 L374.4,642.5 M371.2,648.4 L369.6,648.4 L368.0,648.4 M373.2,642.6 L374.3,641.5 L375.5,640.4 M368.1,639.2 L366.5,638.9 L365.0,638.5 M369.3,633.4 L370.3,632.2 L371.3,631.0 M391.9,673.8 L393.1,672.7 L394.3,671.6 L395.4,670.5 M392.9,669.1 L392.5,667.5 L392.1,666.0 M386.8,669.5 L385.4,668.7 L384.0,667.8 L382.7,667.0 M384.8,665.1 L385.1,663.5 L385.3,661.9 M391.3,664.3 L392.5,663.2 L393.7,662.1 M392.2,661.2 L391.7,659.7 L391.2,658.2 M387.0,661.2 L385.7,660.4 L384.3,659.5 M390.7,656.4 L392.0,655.5 L393.3,654.6 M386.2,651.8 L384.8,651.0 L383.4,650.3 M390.6,648.6 L392.1,647.9 L393.5,647.2 M387.4,646.6 L386.1,645.6 L384.8,644.6 M397.9,681.3 L399.4,680.6 L400.8,679.9 L402.2,679.2 M400.2,677.1 L400.3,675.5 L400.3,673.9 M393.8,676.3 L392.5,675.4 L391.3,674.3 M392.0,671.9 L392.4,670.3 L392.7,668.7 M398.7,671.9 L400.1,671.1 L401.5,670.3 M394.3,668.5 L392.9,667.7 L391.5,667.0 M397.7,663.4 L399.1,662.7 L400.5,661.9 M394.5,658.9 L393.1,658.1 L391.7,657.3 M359.8,664.6 L359.9,663.0 L360.1,661.4 L360.2,659.8 L360.3,658.2 M358.0,661.9 L356.4,661.4 L354.9,660.9 M355.1,658.1 L354.8,656.5 L354.4,655.0 M353.0,655.7 L351.5,655.1 L350.0,654.6 M353.1,669.3 L351.7,670.0 L350.3,670.7 L348.8,671.4 M348.3,668.9 L347.1,667.9 L345.8,666.9 M352.3,663.3 L351.9,661.8 L351.4,660.2 L351.0,658.7 M349.1,659.7 L347.6,659.2 L346.1,658.6 M346.3,665.3 L345.2,666.4 L344.1,667.6 M341.6,665.8 L340.2,665.0 L338.7,664.3 M344.5,658.2 L344.5,656.6 L344.5,655.0 M342.6,655.6 L341.2,654.9 L339.8,654.1 M339.6,659.5 L338.2,660.3 L336.8,661.1 M338.5,655.4 L338.5,653.8 L338.4,652.2 M360.0,678.4 L359.5,676.9 L359.0,675.4 L358.4,673.9 L358.0,672.4 M357.5,676.4 L355.9,676.1 L354.3,675.8 L352.8,675.6 M353.6,673.6 L352.8,672.2 L352.0,670.8 M356.2,684.8 L355.1,686.0 L354.1,687.2 L353.0,688.3 M351.5,685.8 L350.1,685.0 L348.7,684.3 M353.1,677.6 L352.5,676.1 L351.8,674.7 L351.1,673.2 M349.1,674.9 L347.6,674.7 L346.0,674.4 M346.4,673.2 L345.5,671.9 L344.5,670.6 M348.8,683.7 L347.8,684.9 L346.8,686.1 M344.4,685.4 L342.8,685.2 L341.2,685.1 M348.2,677.0 L347.8,675.4 L347.5,673.9 M344.0,679.5 L342.7,680.4 L341.4,681.3 M339.3,673.8 L339.1,672.2 L338.9,670.7 M334.9,676.4 L333.9,677.6 L332.9,678.9 M332.8,672.6 L332.9,671.0 L333.1,669.4 M329.0,672.8 L327.8,673.8 L326.6,674.9 M356.6,653.5 L356.8,651.9 L357.0,650.3 M355.0,650.8 L353.5,650.1 L352.1,649.4 M349.1,656.2 L347.6,656.8 L346.1,657.3 M344.5,654.9 L343.4,653.8 L342.3,652.6 M350.4,648.9 L350.8,647.4 L351.1,645.8 M349.1,646.0 L347.8,645.0 L346.6,644.0 M344.1,652.6 L342.7,653.5 L341.4,654.3 M343.7,646.5 L343.8,644.9 L344.0,643.3 M337.3,648.4 L335.8,649.2 L334.4,649.8 M360.2,642.7 L360.9,641.3 L361.6,639.9 M355.1,641.7 L353.5,641.5 L351.9,641.2 M356.3,635.6 L356.9,634.1 L357.4,632.6 M351.9,634.3 L350.3,634.4 L348.7,634.4 M374.1,662.8 L374.8,661.4 L375.6,660.0 L376.3,658.6 L377.1,657.2 M373.2,658.1 L371.9,657.1 L370.7,656.0 L369.6,654.9 M371.9,653.5 L372.5,652.0 L373.0,650.4 M366.4,664.3 L364.8,664.2 L363.2,664.2 M362.3,661.9 L361.5,660.4 L360.8,659.0 M369.6,656.4 L370.5,655.1 L371.4,653.8 M369.6,651.6 L368.6,650.4 L367.6,649.1 M361.3,655.8 L359.7,655.8 L358.1,655.8 L356.5,655.9 M357.3,653.1 L356.8,651.6 L356.2,650.1 M364.5,650.0 L365.5,648.7 L366.5,647.4 M358.4,649.7 L356.8,649.7 L355.2,649.7 M355.7,648.1 L355.0,646.6 L354.2,645.2 M360.2,644.6 L361.0,643.2 L361.8,641.8 M359.7,641.5 L358.5,640.4 L357.3,639.3 M355.8,643.5 L354.2,643.6 L352.6,643.7 M355.7,638.0 L356.5,636.6 L357.2,635.1 M364.8,662.3 L364.9,660.7 L365.0,659.2 L365.1,657.6 M362.5,658.1 L361.0,657.5 L359.6,656.8 M355.9,663.8 L354.5,664.5 L353.0,665.2 L351.6,665.8 L350.1,666.4 M351.3,662.6 L350.1,661.5 L348.9,660.5 M357.9,657.7 L358.2,656.2 L358.4,654.6 L358.6,653.0 M355.7,653.5 L354.2,652.9 L352.7,652.2 M352.8,659.4 L351.3,659.9 L349.8,660.4 M349.7,658.8 L348.4,657.8 L347.2,656.8 M352.2,652.5 L352.4,651.0 L352.6,649.4 M345.2,654.0 L343.8,654.6 L342.3,655.2 M344.8,648.3 L344.7,646.7 L344.6,645.1 M339.2,647.8 L337.7,648.4 L336.2,649.0 M388.0,668.4 L389.3,667.5 L390.6,666.6 L391.9,665.7 M389.0,665.4 L388.7,663.8 L388.4,662.2 L388.1,660.6 M390.5,660.8 L391.7,659.7 L392.9,658.6 M380.7,667.9 L379.2,667.5 L377.6,667.0 M377.7,664.2 L377.3,662.7 L376.8,661.1 M384.4,662.0 L385.4,660.7 L386.3,659.4 M384.9,658.9 L384.3,657.4 L383.8,655.9 M378.5,660.2 L377.0,659.7 L375.5,659.1 L374.0,658.5 M376.4,657.8 L376.0,656.3 L375.7,654.7 M381.3,654.4 L382.5,653.3 L383.6,652.2 M376.8,652.3 L375.2,651.8 L373.7,651.4 M378.8,646.8 L380.0,645.7 L381.2,644.7 M358.4,666.3 L358.0,664.8 L357.6,663.2 L357.1,661.7 M355.0,662.9 L353.5,662.7 L351.9,662.4 M352.2,669.8 L350.9,670.7 L349.6,671.6 L348.2,672.5 M347.5,670.6 L345.9,670.0 L344.4,669.5 M347.4,663.2 L346.9,661.7 L346.4,660.2 M343.6,660.3 L342.0,660.1 L340.5,659.8 M344.5,667.3 L343.3,668.3 L342.1,669.4 M340.9,662.0 L340.1,660.6 L339.2,659.2 M338.5,664.8 L337.4,665.9 L336.2,667.1 M334.7,660.4 L334.2,658.8 L333.7,657.3 M402.1,683.2 L403.6,683.0 L405.2,682.9 L406.8,682.7 M405.8,680.1 L406.4,678.7 L407.0,677.2 M396.8,676.4 L395.5,675.4 L394.3,674.4 M395.8,671.7 L396.4,670.2 L397.0,668.7 M403.1,674.5 L404.7,674.2 L406.3,673.9 M406.4,671.0 L406.7,669.4 L407.1,667.9 M353.4,651.9 L353.5,650.3 L353.4,648.7 L353.4,647.1 M350.4,648.1 L348.9,647.7 L347.3,647.2 M349.5,655.8 L348.1,656.6 L346.8,657.5 M344.7,655.5 L343.5,654.4 L342.4,653.3 M347.6,649.6 L347.5,648.0 L347.3,646.4 M342.3,652.4 L341.1,653.4 L339.8,654.3" stroke-width="0.5"/>
</g>
<g id="kin-tkl" stroke="#adadb2">
<path d="M396.5,711.5 L397.2,710.1 L397.9,708.6 L398.7,707.2 L399.4,705.8 L400.2,704.4 L400.9,703.0 L401.6,701.6 L402.4,700.1 L403.2,698.7 L403.9,697.3 L404.7,695.9 L405.4,694.5 L406.2,693.1 L406.9,691.7 L407.7,690.3 L408.4,688.8 L409.2,687.4 L409.9,686.0 L410.7,684.6 L411.4,683.2 L412.2,681.8 L412.9,680.4 L413.7,679.0 L414.5,677.6 L415.3,676.2 L416.0,674.8 L416.8,673.4 L417.6,672.0 L418.4,670.6 L419.1,669.2 L419.9,667.8 L420.7,666.4 L421.4,665.0 L422.2,663.6 L423.0,662.2 L423.7,660.8 L424.5,659.4 L425.3,658.0 L426.1,656.6 L426.9,655.2 L427.6,653.8 L428.4,652.4 L429.2,651.0 L430.0,649.6" stroke-width="1.2"/>
<path d="M408.0,690.0 L409.1,688.8 L410.1,687.6 L411.2,686.4 L412.3,685.2 L413.3,684.0 L414.4,682.8 L415.5,681.6 L416.5,680.4 L417.6,679.2 L418.6,678.0 L419.7,676.8 L420.8,675.6 L421.8,674.4 L422.9,673.3 L423.9,672.1 L425.0,670.9 L426.0,669.6 L427.1,668.4 L428.2,667.2 L429.2,666.0 M404.0,697.0 L405.2,695.9 L406.4,694.9 L407.6,693.8 L408.8,692.7 L410.0,691.7 L411.2,690.6 L412.4,689.6 L413.6,688.5 L414.8,687.4 L416.0,686.4 L417.2,685.3 L418.4,684.3 L419.6,683.2 L420.8,682.2 L422.0,681.1 L423.2,680.1 L424.4,679.0 M398.0,706.0 L398.3,704.4 L398.6,702.8 L398.8,701.3 L399.1,699.7 L399.4,698.1 L399.7,696.5 L399.9,695.0 L400.2,693.4 L400.5,691.8 L400.7,690.2 L401.0,688.7 L401.2,687.1 L401.5,685.5 L401.7,683.9 L402.0,682.3 L402.2,680.7 L402.4,679.2 L402.7,677.6 L402.9,676.0 L403.1,674.4 L403.4,672.8 L403.6,671.3 L403.9,669.7 L404.1,668.1 L404.3,666.5 L404.5,664.9 L404.7,663.3" stroke-width="0.9"/>
<path d="M407.7,690.3 L409.0,689.4 L410.3,688.5 L411.6,687.6 L412.9,686.6 L414.2,685.7 L415.5,684.7 L416.8,683.8 L418.1,682.8 L419.3,681.8 L420.6,680.8 L421.9,679.9 M409.9,686.0 L409.8,684.4 L409.7,682.8 L409.7,681.2 L409.7,679.6 L409.7,678.0 L409.8,676.4 L409.9,674.8 L410.1,673.2 L410.4,671.7 M411.4,683.2 L412.7,682.2 L414.0,681.3 L415.3,680.3 L416.5,679.3 L417.7,678.3 L418.9,677.2 L420.1,676.2 L421.3,675.1 L422.5,674.0 M413.7,679.0 L413.6,677.4 L413.5,675.8 L413.4,674.2 L413.4,672.6 L413.4,671.0 L413.5,669.4 L413.6,667.8 L413.7,666.2 L413.9,664.6 M415.3,676.2 L416.7,675.6 L418.2,674.9 L419.7,674.3 L421.1,673.7 L422.6,673.0 L424.0,672.2 L425.4,671.5 L426.9,670.8 L428.2,670.0 L429.6,669.1 M417.6,672.0 L417.6,670.4 L417.6,668.8 L417.7,667.2 L417.8,665.6 L417.9,664.0 L418.1,662.4 M419.9,667.8 L421.3,667.1 L422.8,666.4 L424.2,665.7 L425.6,664.9 L427.1,664.2 M422.2,663.6 L421.9,662.0 L421.7,660.4 L421.5,658.8 L421.3,657.2 M423.7,660.8 L425.2,660.1 L426.6,659.4 L428.1,658.6 M426.1,656.6 L425.8,655.0 L425.5,653.4 M427.6,653.8 L429.0,652.9 L430.4,652.1" stroke-width="0.86"/>
<path d="M397.0,708.0 L397.1,706.4 L397.1,704.8 L397.2,703.2 L397.2,701.6 L397.3,700.0 L397.3,698.4 L397.3,696.8 L397.4,695.2 L397.4,693.6 L397.5,692.0 L397.5,690.4 L397.5,688.8 L397.6,687.2 L397.6,685.6 L397.6,684.0 L397.7,682.4 L397.7,680.8 L397.7,679.2 L397.8,677.6 L397.8,676.0 L397.8,674.4 L397.9,672.8" stroke-width="0.8"/>
<path d="M415.5,681.6 L417.0,681.1 L418.5,680.6 L420.0,680.0 L421.5,679.4 L423.0,678.9 M418.6,678.0 L418.9,676.5 L419.3,674.9 L419.6,673.3 L420.0,671.8 L420.3,670.2 M421.8,674.4 L423.3,673.9 L424.8,673.3 L426.3,672.7 L427.8,672.1 M425.0,670.9 L425.5,669.3 L426.0,667.8 M428.2,667.2 L429.7,666.9 L431.3,666.6 M411.2,690.6 L412.7,690.2 L414.2,689.7 L415.8,689.3 L417.3,688.8 L418.8,688.2 M413.6,688.5 L413.9,686.9 L414.4,685.4 L414.8,683.8 L415.2,682.3 M417.2,685.3 L418.7,685.1 L420.3,684.9 L421.9,684.6 M419.6,683.2 L420.0,681.7 L420.3,680.1 M422.0,681.1 L423.6,681.0 L425.2,680.8 M400.7,690.2 L401.8,689.0 L402.8,687.8 L403.8,686.5 L404.8,685.3 L405.8,684.0 L406.7,682.7 L407.7,681.5 M401.5,685.5 L401.0,684.0 L400.5,682.5 L400.0,680.9 L399.5,679.4 L399.0,677.9 M402.0,682.3 L402.9,681.1 L403.9,679.8 L404.8,678.5 L405.7,677.1 L406.6,675.8 L407.5,674.5 M402.7,677.6 L402.2,676.1 L401.7,674.5 L401.2,673.0 L400.7,671.5 L400.2,670.0 M403.4,672.8 L404.3,671.5 L405.2,670.2 L406.0,668.8 M403.9,669.7 L403.1,668.3 L402.3,666.9 M404.5,664.9 L405.6,663.8 L406.7,662.6" stroke-width="0.65"/>
<path d="M414.2,685.7 L415.8,685.7 L417.4,685.7 L419.0,685.7 M418.1,682.8 L418.8,681.4 L419.5,680.0 M420.6,680.8 L422.2,680.5 L423.7,680.1 M409.7,679.6 L408.7,678.4 L407.7,677.1 M409.9,674.8 L410.9,673.5 L411.9,672.3 M416.5,679.3 L418.1,679.2 L419.7,679.2 L421.3,679.1 M420.1,676.2 L420.7,674.7 L421.3,673.2 M413.4,672.6 L412.6,671.2 L411.8,669.8 L411.1,668.3 M413.6,667.8 L414.5,666.5 L415.5,665.2 M421.1,673.7 L422.7,673.8 L424.3,674.0 L425.9,674.0 M425.4,671.5 L426.3,670.2 L427.1,668.8 M428.2,670.0 L429.8,669.9 L431.4,669.7 M417.6,668.8 L416.8,667.4 L416.1,666.0 M417.9,664.0 L418.8,662.7 L419.7,661.3 M424.2,665.7 L425.8,665.8 L427.4,666.0 M421.7,660.4 L420.5,659.3 L419.4,658.2 M429.0,652.9 L430.6,652.9 L432.2,652.8" stroke-width="0.62"/>
<path d="M397.4,695.2 L398.1,693.8 L398.8,692.3 L399.4,690.9 L400.1,689.4 L400.8,688.0 L401.4,686.5 M397.5,690.4 L396.7,689.0 L396.0,687.6 L395.3,686.1 L394.6,684.7 M397.6,685.6 L398.4,684.2 L399.2,682.9 L400.0,681.5 L400.7,680.0 M397.7,680.8 L397.1,679.3 L396.5,677.9 L395.9,676.4 M397.8,676.0 L398.8,674.8 L399.8,673.5" stroke-width="0.58"/>
<path d="M420.0,680.0 L421.6,680.1 L423.2,680.2 M419.6,673.3 L418.9,671.9 L418.2,670.5 M424.8,673.3 L426.4,673.4 L428.0,673.4 M404.8,685.3 L406.3,684.8 L407.8,684.3 M400.0,680.9 L398.8,679.9 L397.6,678.8 M404.8,678.5 L406.2,677.6 L407.5,676.8 M407.5,674.5 L407.8,672.9 L408.2,671.4 M401.2,673.0 L399.9,672.1 L398.6,671.2 M405.2,670.2 L406.6,669.4 L408.0,668.6" stroke-width="0.5"/>
</g>
<g id="kin-ste" stroke="#b1ca7c">
<path d="M397.0,712.0 L398.5,711.5 L400.0,711.0 L401.6,710.5 L403.1,710.0 L404.6,709.6 L406.1,709.1 L407.7,708.6 L409.2,708.1 L410.7,707.6 L412.2,707.1 L413.7,706.6 L415.3,706.1 L416.8,705.6 L418.3,705.1 L419.8,704.6 L421.4,704.1 L422.9,703.7 L424.4,703.2 L425.9,702.7 L427.5,702.2 L429.0,701.7 L430.5,701.2 L432.0,700.7 L433.5,700.1 L435.0,699.6 L436.6,699.1 L438.1,698.6 L439.6,698.1 L441.1,697.6 L442.6,697.0 L444.1,696.5 L445.6,696.0 L447.1,695.5 L448.6,694.9 L450.2,694.4 L451.7,693.9 L453.2,693.4 L454.7,692.9 L456.2,692.4 L457.8,691.9 L459.3,691.4 L460.8,690.9 L462.3,690.4" stroke-width="1.2"/>
<path d="M397.0,712.0 L398.3,711.1 L399.7,710.2 L401.0,709.4 L402.4,708.5 L403.7,707.6 L405.1,706.8 L406.4,705.9 L407.8,705.1 L409.1,704.2 L410.5,703.3 L411.8,702.5 L413.2,701.6 L414.5,700.8 L415.9,700.0 L417.3,699.1 L418.6,698.3 L420.0,697.4 L421.3,696.6 L422.7,695.8 L424.1,694.9 L425.4,694.1 L426.8,693.3 L428.2,692.4 L429.5,691.6 L430.9,690.8 L432.3,690.0 L433.7,689.2 L435.1,688.4 L436.5,687.6 L437.8,686.8 L439.2,686.0 L440.6,685.2 M397.0,712.5 L398.6,712.5 L400.2,712.4 L401.8,712.4 L403.4,712.3 L405.0,712.3 L406.6,712.2 L408.2,712.2 L409.8,712.2 L411.4,712.1 L413.0,712.1 L414.6,712.1 L416.2,712.0 L417.8,712.0 L419.4,712.0 L421.0,712.0 L422.6,712.0 L424.2,712.0 L425.8,712.0 L427.4,712.0 L429.0,712.0 L430.6,712.0 L432.2,712.0 L433.8,712.0 L435.4,712.1 L437.0,712.1 L438.6,712.1 L440.2,712.1 L441.8,712.2 L443.4,712.2 L445.0,712.3 L446.6,712.3 L448.2,712.4 L449.8,712.4 L451.4,712.5 L453.0,712.5" stroke-width="1.1"/>
<path d="M419.8,704.6 L421.4,704.9 L423.0,705.2 L424.6,705.5 L426.1,705.7 L427.7,706.0 L429.3,706.2 L430.9,706.4 L432.5,706.6 L434.1,706.8 L435.7,707.0 L437.2,707.2 L438.8,707.3 L440.4,707.5 L442.0,707.7 M422.9,703.7 L423.8,702.4 L424.8,701.1 L425.8,699.8 L426.8,698.6 L427.8,697.3 L428.8,696.1 L429.9,694.9 L430.9,693.7 L432.0,692.5 L433.1,691.4 M427.5,702.2 L429.0,702.4 L430.6,702.6 L432.2,702.8 L433.8,702.9 L435.4,703.1 L437.0,703.2 L438.6,703.3 L440.2,703.3 L441.8,703.4 L443.4,703.4 M432.0,700.7 L433.2,699.6 L434.3,698.4 L435.5,697.4 L436.6,696.2 L437.8,695.2 L439.0,694.1 L440.3,693.1 L441.5,692.1 L442.7,691.0 L443.9,690.0 M436.6,699.1 L438.1,699.6 L439.6,700.0 L441.2,700.4 L442.7,700.8 L444.3,701.2 L445.8,701.5 L447.4,701.9 M441.1,697.6 L442.1,696.3 L443.1,695.0 L444.0,693.8 L445.0,692.5 L446.0,691.2 L447.0,690.0 L447.9,688.7 M445.6,696.0 L447.2,696.4 L448.7,696.8 L450.3,697.2 L451.8,697.6 L453.4,697.9 L455.0,698.3 M450.2,694.4 L451.2,693.2 L452.2,692.0 L453.3,690.8 M454.7,692.9 L456.3,693.2 L457.9,693.4 L459.5,693.6 M457.8,691.9 L458.7,690.6 L459.7,689.3" stroke-width="0.86"/>
<path d="M420.0,707.0 L421.6,706.8 L423.2,706.6 L424.8,706.3 L426.3,706.1 L427.9,705.9 L429.5,705.7 L431.1,705.4 L432.7,705.2 L434.3,705.0 L435.8,704.8 L437.4,704.6 L439.0,704.4 L440.6,704.2 L442.2,703.9 L443.8,703.7 L445.4,703.5 L446.9,703.3 L448.5,703.1 L450.1,702.8 L451.7,702.6 L453.3,702.4 L454.9,702.2" stroke-width="0.8"/>
<path d="M411.8,702.5 L413.4,702.6 L415.0,702.7 L416.6,702.7 L418.2,702.8 L419.8,702.8 L421.4,702.8 L423.0,702.9 L424.6,702.9 L426.2,702.9 M415.9,700.0 L416.8,698.6 L417.7,697.3 L418.6,696.0 L419.5,694.7 L420.4,693.4 L421.4,692.1 L422.4,690.8 M418.6,698.3 L420.2,698.4 L421.8,698.5 L423.4,698.6 L425.0,698.6 L426.6,698.5 L428.2,698.5 L429.8,698.4 M422.7,695.8 L423.6,694.4 L424.4,693.1 L425.4,691.8 L426.3,690.5 L427.3,689.2 M426.8,693.3 L428.4,693.4 L430.0,693.5 L431.6,693.5 L433.2,693.5 L434.8,693.4 M430.9,690.8 L431.5,689.3 L432.1,687.8 L432.7,686.3 M435.1,688.4 L436.7,688.4 L438.3,688.4 M439.2,686.0 L439.9,684.5 L440.5,683.1 M414.6,712.1 L416.0,712.9 L417.3,713.7 L418.7,714.5 L420.1,715.3 L421.5,716.1 L422.9,716.8 L424.3,717.6 L425.7,718.3 L427.2,719.1 L428.6,719.9 L430.0,720.6 L431.4,721.3 M419.4,712.0 L420.8,711.3 L422.3,710.7 L423.8,710.1 L425.3,709.5 L426.8,708.9 L428.3,708.3 L429.8,707.8 M422.6,712.0 L424.0,712.7 L425.4,713.5 L426.8,714.2 L428.3,714.9 L429.7,715.6 L431.2,716.3 L432.6,717.0 M427.4,712.0 L428.7,711.0 L430.0,710.1 L431.3,709.2 L432.6,708.3 L433.9,707.4 L435.3,706.5 L436.7,705.7 M430.6,712.0 L432.0,712.7 L433.5,713.4 L434.9,714.1 L436.4,714.7 L437.9,715.4 L439.3,716.0 M435.4,712.1 L436.7,711.1 L438.0,710.2 L439.3,709.3 L440.6,708.4 L442.0,707.5 M440.2,712.1 L441.4,713.2 L442.7,714.2 L443.9,715.2 L445.2,716.2 M443.4,712.2 L444.9,711.7 L446.4,711.1 L447.9,710.7 M448.2,712.4 L449.5,713.3 L450.8,714.2" stroke-width="0.79"/>
<path d="M427.7,706.0 L428.9,707.1 L430.1,708.2 L431.3,709.2 L432.5,710.2 L433.8,711.2 M430.9,706.4 L432.3,705.8 L433.8,705.1 L435.2,704.4 L436.7,703.8 M435.7,707.0 L436.9,708.0 L438.1,709.1 L439.4,710.0 M438.8,707.3 L440.2,706.5 L441.6,705.7 M426.8,698.6 L427.0,697.0 L427.2,695.4 L427.4,693.8 M428.8,696.1 L430.4,695.8 L432.0,695.4 M430.9,693.7 L431.1,692.1 L431.3,690.5 M435.4,703.1 L436.7,704.0 L438.0,704.9 L439.4,705.8 M440.2,703.3 L441.6,702.5 L443.0,701.7 M436.6,696.2 L437.2,694.7 L437.7,693.2 L438.3,691.8 M440.3,693.1 L441.8,692.8 L443.4,692.5 M442.7,691.0 L443.3,689.5 L443.8,688.0 M441.2,700.4 L442.2,701.7 L443.2,702.9 M444.3,701.2 L445.8,700.7 L447.4,700.3 M444.0,693.8 L444.3,692.2 L444.6,690.6 M447.0,690.0 L448.5,689.4 L450.0,688.9 M450.3,697.2 L451.4,698.3 L452.6,699.4 M457.9,693.4 L459.1,694.5 L460.3,695.5" stroke-width="0.62"/>
<path d="M432.7,705.2 L434.2,705.6 L435.8,706.0 L437.3,706.3 L438.9,706.7 L440.5,707.0 L442.1,707.2 L443.6,707.5 M435.8,704.8 L437.0,703.7 L438.1,702.5 L439.2,701.4 L440.4,700.3 L441.6,699.2 M439.0,704.4 L440.5,704.9 L442.1,705.3 L443.6,705.8 L445.1,706.2 M442.2,703.9 L443.4,702.9 L444.6,701.9 L445.9,700.8 M445.4,703.5 L446.7,704.3 L448.1,705.1 L449.5,705.9 M448.5,703.1 L449.6,701.9 L450.8,700.8 M453.3,702.4 L454.7,703.2 L456.1,703.9" stroke-width="0.58"/>
<path d="M418.2,702.8 L419.6,703.5 L421.1,704.2 L422.5,704.9 M423.0,702.9 L424.3,702.0 L425.7,701.1 M419.5,694.7 L419.4,693.1 L419.3,691.5 M421.4,692.1 L422.8,691.4 L424.2,690.6 M425.0,698.6 L426.4,699.3 L427.9,700.0 M428.2,698.5 L429.6,697.7 L431.0,696.9 M425.4,691.8 L425.6,690.2 L425.9,688.6 M431.6,693.5 L433.0,694.3 L434.4,695.0 M434.8,693.4 L436.1,692.4 L437.4,691.5 M436.7,688.4 L438.0,689.3 L439.3,690.2 M421.5,716.1 L422.3,717.4 L423.2,718.8 L424.0,720.2 M424.3,717.6 L425.9,717.5 L427.5,717.5 L429.1,717.5 M428.6,719.9 L429.2,721.3 L429.8,722.8 M425.3,709.5 L426.3,708.3 L427.4,707.1 M428.3,708.3 L429.8,708.7 L431.4,709.0 M426.8,714.2 L427.8,715.5 L428.7,716.8 M431.2,716.3 L432.8,716.2 L434.3,716.1 M432.6,708.3 L433.1,706.7 L433.5,705.2 M435.3,706.5 L436.9,706.6 L438.5,706.7 M434.9,714.1 L435.7,715.4 L436.5,716.8 M437.9,715.4 L439.4,715.1 L441.0,714.8 M438.0,710.2 L438.6,708.7 L439.2,707.2 M442.7,714.2 L443.3,715.7 L443.8,717.2 M446.4,711.1 L447.6,710.1 L448.8,709.0" stroke-width="0.57"/>
<path d="M432.5,710.2 L432.9,711.8 L433.2,713.4 M435.2,704.4 L436.1,703.1 L436.9,701.7 M438.1,709.1 L438.5,710.6 L439.0,712.2 M427.2,695.4 L426.5,694.0 L425.8,692.5 M438.0,704.9 L438.6,706.4 L439.2,707.9 M437.7,693.2 L437.5,691.7 L437.4,690.1" stroke-width="0.5"/>
</g>
<g id="kin-ck1" stroke="#a5d6da">
<path d="M396.5,716.0 L398.1,716.2 L399.7,716.4 L401.3,716.6 L402.9,716.7 L404.4,716.9 L406.0,717.1 L407.6,717.3 L409.2,717.5 L410.8,717.7 L412.4,717.9 L414.0,718.1 L415.6,718.3 L417.1,718.5 L418.7,718.7 L420.3,718.9 L421.9,719.1 L423.5,719.3 L425.1,719.5 L426.7,719.7 L428.3,720.0 L429.8,720.2 L431.4,720.4 L433.0,720.6 L434.6,720.9 L436.2,721.1 L437.8,721.3 L439.3,721.5 L440.9,721.8 L442.5,722.0 L444.1,722.2 L445.7,722.4" stroke-width="1.1"/>
<path d="M420.0,719.0 L421.4,719.9 L422.7,720.7 L424.1,721.6 L425.4,722.4 L426.8,723.3 L428.1,724.1 L429.5,725.0 L430.8,725.8 L432.2,726.7 L433.5,727.5 L434.9,728.4 L436.2,729.3 L437.6,730.1 L438.9,731.0 L440.3,731.8" stroke-width="0.8"/>
<path d="M412.4,717.9 L413.8,718.7 L415.1,719.5 L416.5,720.4 L417.9,721.1 L419.3,721.9 L420.8,722.5 L422.2,723.2 L423.7,723.8 M415.6,718.3 L417.0,717.6 L418.4,716.9 L419.9,716.2 L421.4,715.6 L422.9,715.0 L424.4,714.5 L425.9,713.9 L427.4,713.4 L428.9,712.9 M418.7,718.7 L419.9,719.8 L421.1,720.9 L422.3,722.0 L423.5,723.0 L424.7,724.0 L425.9,725.1 L427.2,726.1 L428.4,727.0 M423.5,719.3 L425.0,718.8 L426.5,718.3 L428.0,717.8 L429.6,717.3 L431.1,716.8 L432.6,716.4 M428.3,720.0 L429.5,720.9 L430.8,721.9 L432.1,722.9 L433.3,723.9 L434.6,724.9 M433.0,720.6 L434.5,720.1 L436.0,719.5 L437.5,719.0 L439.1,718.5 M437.8,721.3 L439.1,722.2 L440.5,723.0 L441.8,723.9 M440.9,721.8 L442.4,721.1 L443.9,720.6" stroke-width="0.79"/>
<path d="M426.8,723.3 L427.5,724.7 L428.2,726.1 L429.0,727.5 L429.7,728.9 L430.5,730.3 M430.8,725.8 L432.4,725.8 L434.0,725.9 L435.6,725.9 L437.2,726.0 M433.5,727.5 L434.3,728.9 L435.0,730.4 M437.6,730.1 L439.2,730.0 L440.8,729.9" stroke-width="0.58"/>
<path d="M416.5,720.4 L417.3,721.8 L418.0,723.2 M420.8,722.5 L422.4,722.4 L424.0,722.2 M421.4,715.6 L422.4,714.4 L423.4,713.1 L424.4,711.9 M424.4,714.5 L425.9,715.0 L427.4,715.4 M422.3,722.0 L422.5,723.5 L422.8,725.1 M424.7,724.0 L426.3,724.1 L427.9,724.1 M428.0,717.8 L429.1,716.6 L430.1,715.3 M430.8,721.9 L431.3,723.4 L431.8,724.9 M437.5,719.0 L438.4,717.7 L439.3,716.3 M440.5,723.0 L441.0,724.5 L441.5,726.1" stroke-width="0.57"/>
</g>
<g id="kin-agc" stroke="#6fc699">
<path d="M398.8,743.8 L400.2,744.4 L401.7,745.0 L403.2,745.7 L404.6,746.3 L406.1,746.9 L407.6,747.5 L409.1,748.1 L410.5,748.7 L412.0,749.3 L413.5,749.9 L415.0,750.5 L416.5,751.1 L418.0,751.7 L419.5,752.3 L420.9,752.9 L422.4,753.5 L423.9,754.0 L425.4,754.6 L426.9,755.2 L428.4,755.8 L429.9,756.3 L431.4,756.9 L432.9,757.5 L434.4,758.0 L435.9,758.6 L437.4,759.1 L438.9,759.7 L440.4,760.2 L441.9,760.8 L443.4,761.3 L444.9,761.8 L446.4,762.3 L448.0,762.9 L449.5,763.4 L451.0,763.9 L452.5,764.4 L454.0,764.8 L455.6,765.3 L457.1,765.8 L458.6,766.3 L460.2,766.7 L461.7,767.2" stroke-width="1.2"/>
<path d="M422.5,753.8 L423.4,755.1 L424.3,756.4 L425.2,757.7 L426.0,759.1 L426.9,760.4 L427.8,761.7 L428.7,763.1 L429.6,764.4 L430.5,765.7 L431.5,767.0 L432.4,768.3 L433.3,769.6 L434.2,770.9 L435.1,772.2 L436.1,773.5 L437.0,774.8 L438.0,776.1 L438.9,777.4 L439.8,778.7 L440.8,780.0 L441.7,781.3 L442.6,782.6 L443.6,783.9 L444.5,785.2 L445.4,786.5 L446.4,787.8 L447.3,789.1 L448.3,790.4" stroke-width="1.0"/>
<path d="M415.0,750.0 L416.6,750.1 L418.2,750.2 L419.8,750.3 L421.4,750.4 L423.0,750.4 L424.6,750.5 L426.2,750.6 L427.8,750.7 L429.4,750.8 L431.0,750.9 L432.6,751.0 L434.2,751.1 L435.8,751.2 L437.4,751.3 L439.0,751.4 L440.6,751.5 L442.2,751.6 L443.8,751.7 L445.3,751.8 L446.9,751.9 L448.5,752.0 L450.1,752.2 L451.7,752.3 L453.3,752.4 L454.9,752.5 L456.5,752.7 L458.1,752.8 L459.7,753.0 M412.0,750.0 L413.0,751.3 L414.0,752.5 L415.0,753.8 L416.0,755.0 L417.0,756.3 L418.0,757.5 L419.0,758.8 L420.0,760.0 L421.0,761.3 L422.0,762.5 L423.0,763.8 L424.0,765.0 L424.9,766.3 L425.9,767.6 L426.9,768.8 L427.9,770.1 L428.9,771.3 L429.8,772.6 L430.8,773.9 L431.8,775.1 L432.8,776.4 L433.8,777.7 L434.7,778.9" stroke-width="0.9"/>
<path d="M419.5,752.3 L420.4,753.6 L421.3,754.9 L422.2,756.3 L423.1,757.6 L424.0,758.9 L424.9,760.2 L425.8,761.5 L426.7,762.8 L427.6,764.2 L428.5,765.5 M423.9,754.0 L425.5,753.8 L427.1,753.7 L428.7,753.5 L430.3,753.4 L431.9,753.3 L433.5,753.2 L435.1,753.1 L436.7,753.0 L438.3,752.9 L439.9,752.9 L441.5,752.8 L443.1,752.8 M426.9,755.2 L428.0,756.3 L429.1,757.5 L430.3,758.6 L431.4,759.7 L432.6,760.8 L433.8,761.9 L434.9,763.0 L436.1,764.1 L437.3,765.2 L438.5,766.2 M429.9,756.3 L431.5,756.0 L433.0,755.7 L434.6,755.4 L436.2,755.1 L437.8,754.9 L439.3,754.6 L440.9,754.4 L442.5,754.2 L444.1,754.0 L445.7,753.8 L447.3,753.6 M432.9,757.5 L433.7,758.8 L434.6,760.2 L435.5,761.5 L436.3,762.9 L437.2,764.2 L438.1,765.5 L439.0,766.8 L440.0,768.1 L440.9,769.4 L441.8,770.8 M437.4,759.1 L439.0,759.0 L440.6,759.0 L442.2,759.0 L443.8,759.0 L445.4,759.1 L447.0,759.1 L448.6,759.1 L450.2,759.2 L451.8,759.3 M441.9,760.8 L442.8,762.1 L443.6,763.5 L444.6,764.8 L445.5,766.1 L446.4,767.4 M446.4,762.3 L448.0,762.0 L449.6,761.7 L451.2,761.5 L452.7,761.3 M449.5,763.4 L450.7,764.4 L451.9,765.4 L453.2,766.4 L454.5,767.4 M454.0,764.8 L455.6,764.5 L457.2,764.3 L458.8,764.0 M458.6,766.3 L459.7,767.5 L460.8,768.7" stroke-width="0.86"/>
<path d="M431.5,767.0 L431.5,768.6 L431.6,770.2 L431.7,771.8 L431.8,773.4 L431.9,775.0 L432.1,776.6 L432.3,778.2 L432.4,779.8 L432.6,781.4 L432.8,783.0 M433.3,769.6 L434.8,770.1 L436.3,770.6 L437.8,771.2 L439.3,771.7 L440.9,772.2 L442.4,772.7 L443.9,773.3 L445.4,773.8 M435.1,772.2 L435.2,773.8 L435.2,775.4 L435.2,777.0 L435.3,778.6 L435.3,780.2 L435.4,781.8 L435.4,783.4 M438.0,776.1 L439.4,776.7 L440.9,777.4 L442.3,778.1 L443.8,778.8 L445.2,779.6 L446.6,780.4 M440.8,780.0 L441.1,781.6 L441.5,783.1 L442.0,784.7 L442.5,786.2 M443.6,783.9 L445.0,784.6 L446.5,785.3 M446.4,787.8 L446.6,789.4 L446.8,791.0" stroke-width="0.72"/>
<path d="M431.0,750.9 L432.4,751.6 L433.8,752.3 L435.3,753.0 L436.7,753.7 L438.2,754.3 L439.7,755.0 M434.2,751.1 L435.6,750.3 L437.0,749.5 L438.4,748.8 L439.8,748.0 L441.2,747.3 L442.6,746.6 L444.1,745.9 L445.5,745.2 M439.0,751.4 L440.4,752.2 L441.8,752.9 L443.3,753.5 L444.7,754.1 L446.2,754.7 M443.8,751.7 L445.1,750.9 L446.5,750.1 L448.0,749.4 L449.4,748.7 L450.8,747.9 M448.5,752.0 L449.9,752.9 L451.2,753.9 L452.4,754.8 L453.7,755.8 M453.3,752.4 L454.8,751.7 L456.2,751.1 M458.1,752.8 L459.3,753.9 L460.6,754.9 M421.0,761.3 L421.2,762.9 L421.4,764.4 L421.7,766.0 L422.1,767.6 L422.5,769.1 M424.0,765.0 L425.5,765.5 L427.0,765.9 L428.6,766.4 L430.1,766.9 L431.5,767.5 M426.9,768.8 L427.0,770.4 L427.0,772.0 L427.1,773.6 M429.8,772.6 L431.3,773.3 L432.7,774.0 L434.1,774.7 M431.8,775.1 L432.1,776.7 L432.4,778.3" stroke-width="0.65"/>
<path d="M423.1,757.6 L423.0,759.2 L423.0,760.8 L423.0,762.4 L423.0,764.0 M425.8,761.5 L427.3,762.1 L428.8,762.7 M427.6,764.2 L427.9,765.7 L428.2,767.3 M431.9,753.3 L433.3,752.5 L434.7,751.7 L436.1,750.9 L437.5,750.1 M435.1,753.1 L436.5,753.8 L438.0,754.4 L439.4,755.1 M439.9,752.9 L441.2,752.0 L442.5,751.1 M431.4,759.7 L431.6,761.3 L431.9,762.9 L432.2,764.5 M434.9,763.0 L436.5,763.2 L438.1,763.3 M437.8,754.9 L439.0,753.8 L440.2,752.8 L441.4,751.7 M440.9,754.4 L442.4,755.0 L443.9,755.7 M444.1,754.0 L445.4,753.0 L446.7,752.1 M436.3,762.9 L436.3,764.5 L436.3,766.1 M438.1,765.5 L439.5,766.3 L440.8,767.2 M440.9,769.4 L441.1,771.0 L441.3,772.6 M443.8,759.0 L445.1,758.1 L446.4,757.2 L447.7,756.3 M447.0,759.1 L448.4,759.8 L449.9,760.5 M444.6,764.8 L444.4,766.4 L444.3,768.0 M449.6,761.7 L450.7,760.6 L451.9,759.5 M453.2,766.4 L453.8,767.9 L454.4,769.4 M457.2,764.3 L458.4,763.2 L459.6,762.2" stroke-width="0.62"/>
<path d="M431.8,773.4 L431.3,774.9 L430.8,776.5 L430.4,778.0 M432.3,778.2 L433.1,779.6 L433.8,781.0 M437.8,771.2 L439.4,770.8 L441.0,770.5 L442.6,770.3 M442.4,772.7 L443.5,773.9 L444.6,775.1 M435.2,777.0 L434.4,778.4 L433.5,779.7 M435.3,780.2 L436.2,781.6 L437.1,782.9 M442.3,778.1 L443.9,777.9 L445.5,777.6 M441.5,783.1 L441.1,784.7 L440.6,786.2" stroke-width="0.52"/>
<path d="M423.0,760.8 L422.2,762.2 L421.4,763.6 M434.7,751.7 L435.4,750.3 L436.1,748.8 M441.2,752.0 L441.7,750.5 L442.3,748.9 M445.4,753.0 L445.8,751.5 L446.2,749.9 M439.5,766.3 L441.1,766.2 L442.7,766.1 M446.4,757.2 L447.2,755.8 L448.0,754.4 M435.3,753.0 L436.0,754.4 L436.7,755.8 M438.2,754.3 L439.8,754.2 L441.4,754.2 M439.8,748.0 L440.7,746.7 L441.7,745.5 M444.1,745.9 L445.7,746.0 L447.3,746.2 M443.3,753.5 L444.1,754.9 L445.0,756.2 M446.5,750.1 L447.4,748.8 L448.3,747.5 M451.2,753.9 L451.7,755.4 L452.3,756.8 M421.7,766.0 L421.2,767.5 L420.7,769.0 M428.6,766.4 L430.1,766.1 L431.7,765.9 M427.0,772.0 L426.1,773.3 L425.2,774.6 M432.7,774.0 L434.3,773.9 L435.9,773.9" stroke-width="0.5"/>
</g>
<g id="kin-camk" stroke="#a6b1d6">
<path d="M399.5,746.0 L398.6,747.3 L397.7,748.7 L396.8,750.0 L395.9,751.3 L395.1,752.7 L394.2,754.0 L393.3,755.3 L392.4,756.7 L391.5,758.0 L390.7,759.3 L389.8,760.7 L388.9,762.0 L388.0,763.4 L387.2,764.7 L386.3,766.0 L385.4,767.4 L384.6,768.7 L383.7,770.1 L382.8,771.4 L382.0,772.8 L381.1,774.1 L380.2,775.5 L379.4,776.8 L378.5,778.2 L377.7,779.5 L376.8,780.9 L375.9,782.2 L375.1,783.6 L374.2,784.9 L373.4,786.3 L372.5,787.6 L371.7,789.0 L370.8,790.3 L370.0,791.7 M402.0,756.0 L401.8,757.6 L401.6,759.2 L401.3,760.8 L401.1,762.3 L400.9,763.9 L400.7,765.5 L400.4,767.1 L400.2,768.7 L399.9,770.3 L399.7,771.8 L399.5,773.4 L399.2,775.0 L399.0,776.6 L398.7,778.2 L398.5,779.7 L398.2,781.3 L397.9,782.9 L397.7,784.5 L397.4,786.1 L397.2,787.6 L396.9,789.2 L396.6,790.8 L396.4,792.4 L396.1,793.9 L395.9,795.5 L395.6,797.1 L395.3,798.7 L395.0,800.2 L394.7,801.8 L394.4,803.4 L394.2,805.0 L393.9,806.5 L393.6,808.1 L393.3,809.7 L393.0,811.3 L392.7,812.8 L392.4,814.4 L392.0,816.0 L391.7,817.5 L391.5,819.1 L391.2,820.7 M403.0,756.0 L403.6,757.5 L404.2,759.0 L404.8,760.5 L405.3,762.0 L405.9,763.5 L406.5,764.9 L407.1,766.4 L407.7,767.9 L408.2,769.4 L408.8,770.9 L409.4,772.4 L410.0,773.9 L410.6,775.4 L411.2,776.9 L411.8,778.3 L412.4,779.8 L413.0,781.3 L413.7,782.8 L414.3,784.2 L414.9,785.7 L415.6,787.2 L416.2,788.6 L416.8,790.1 L417.5,791.6 L418.1,793.0 L418.7,794.5 L419.4,796.0 L420.1,797.4 L420.7,798.9 L421.4,800.3 L422.0,801.8 L422.7,803.2 L423.4,804.7 L424.1,806.1 L424.7,807.6 L425.4,809.0 L426.1,810.5 L426.8,811.9 L427.5,813.4 L428.2,814.8 L428.9,816.3" stroke-width="1.1"/>
<path d="M401.0,752.0 L400.4,753.5 L399.9,755.0 L399.3,756.5 L398.7,758.0 L398.1,759.5 L397.5,760.9 L396.9,762.4 L396.3,763.9 L395.7,765.4 L395.1,766.9 L394.5,768.4 L393.9,769.8 L393.3,771.3 L392.7,772.8 L392.1,774.3 L391.5,775.8 L391.0,777.3 L390.4,778.8 L389.8,780.3 L389.2,781.7 L388.6,783.2 L388.0,784.7 L387.4,786.2 M402.5,758.0 L402.6,759.6 L402.7,761.2 L402.8,762.8 L402.9,764.4 L403.1,766.0 L403.2,767.6 L403.3,769.2 L403.4,770.8 L403.5,772.4 L403.7,774.0 L403.8,775.6 L403.9,777.1 L404.0,778.7 L404.2,780.3 L404.3,781.9 L404.4,783.5 L404.6,785.1 L404.7,786.7 L404.8,788.3 L405.0,789.9 L405.1,791.5 L405.3,793.1 L405.4,794.7 L405.5,796.3 L405.7,797.9 L405.8,799.5 L405.9,801.1 L406.0,802.7 L406.2,804.3 L406.3,805.8 L406.4,807.4 M403.0,752.0 L403.8,753.4 L404.6,754.8 L405.4,756.2 L406.1,757.6 L406.9,759.0 L407.7,760.4 L408.5,761.8 L409.3,763.2 L410.0,764.6 L410.8,766.0 L411.6,767.4 L412.4,768.8 L413.1,770.2 L413.9,771.6 L414.7,773.0 L415.4,774.4 L416.2,775.8 L416.9,777.2 L417.7,778.6 L418.4,780.0 L419.1,781.5 L419.9,782.9 L420.6,784.3 L421.3,785.7 L422.0,787.2 L422.7,788.6 L423.4,790.0 L424.2,791.5 L424.9,792.9" stroke-width="1.0"/>
<path d="M389.8,760.7 L388.3,761.3 L386.8,761.9 L385.4,762.6 L384.0,763.4 L382.6,764.1 L381.1,764.8 L379.8,765.6 L378.4,766.5 L377.0,767.3 L375.7,768.2 M388.0,763.4 L388.2,765.0 L388.4,766.5 L388.5,768.1 L388.6,769.7 L388.8,771.3 L388.9,772.9 L389.0,774.5 L389.1,776.1 L389.1,777.7 M385.4,767.4 L384.0,768.2 L382.7,769.0 L381.3,769.8 L379.9,770.6 L378.5,771.4 L377.2,772.3 M382.8,771.4 L382.7,773.0 L382.5,774.6 L382.4,776.2 L382.3,777.8 L382.1,779.4 L381.9,781.0 M380.2,775.5 L378.9,776.3 L377.6,777.2 L376.3,778.2 L375.1,779.2 L373.9,780.3 L372.7,781.3 M377.7,779.5 L377.4,781.1 L377.2,782.7 L376.9,784.2 L376.5,785.8 L376.2,787.4 M375.1,783.6 L373.8,784.5 L372.5,785.4 L371.2,786.4 M373.4,786.3 L373.4,787.9 L373.3,789.5 M370.8,790.3 L369.4,791.1 L368.0,791.8 M398.7,778.2 L397.6,779.3 L396.6,780.5 L395.6,781.8 L394.6,783.1 L393.7,784.4 L392.7,785.7 L391.8,787.0 L390.9,788.3 L390.1,789.7 L389.3,791.1 L388.6,792.5 M397.9,782.9 L398.4,784.4 L398.9,785.9 L399.4,787.5 L399.9,789.0 L400.4,790.5 L400.8,792.0 L401.3,793.6 L401.7,795.1 M397.2,787.6 L396.1,788.8 L395.1,790.1 L394.0,791.3 L393.0,792.5 L392.0,793.7 L390.9,794.9 L389.9,796.2 L388.9,797.4 M396.4,792.4 L397.1,793.8 L397.9,795.2 L398.6,796.6 L399.3,798.1 L400.0,799.5 L400.7,801.0 L401.3,802.4 L401.9,803.9 M395.6,797.1 L394.4,798.2 L393.3,799.3 L392.2,800.5 L391.0,801.6 L389.9,802.8 M394.7,801.8 L395.5,803.2 L396.2,804.7 L396.9,806.1 L397.5,807.6 L398.2,809.0 L398.8,810.5 M393.9,806.5 L392.6,807.6 L391.4,808.6 L390.2,809.7 L389.0,810.7 L387.8,811.8 M393.3,809.7 L393.9,811.2 L394.5,812.6 L395.0,814.2 L395.5,815.7 M392.4,814.4 L391.3,815.6 L390.4,816.9 M391.5,819.1 L392.0,820.6 L392.5,822.1 M410.6,775.4 L410.5,777.0 L410.4,778.6 L410.3,780.2 L410.3,781.8 L410.3,783.4 L410.3,785.0 L410.3,786.6 L410.4,788.2 L410.4,789.8 M411.8,778.3 L413.1,779.3 L414.3,780.3 L415.6,781.3 L416.8,782.3 L418.1,783.3 L419.3,784.3 L420.6,785.3 L421.8,786.3 L423.1,787.3 L424.3,788.3 L425.5,789.3 L426.8,790.4 L428.0,791.4 M413.0,781.3 L412.8,782.9 L412.7,784.5 L412.6,786.1 L412.5,787.7 L412.5,789.3 L412.6,790.9 L412.7,792.5 L412.9,794.0 L413.1,795.6 L413.3,797.2 M414.3,784.2 L415.6,785.2 L416.9,786.1 L418.1,787.1 L419.4,788.0 L420.7,789.0 L421.9,790.0 L423.2,791.0 M415.6,787.2 L415.4,788.8 L415.2,790.3 L415.1,791.9 L415.0,793.5 L414.8,795.1 L414.7,796.7 L414.6,798.3 L414.5,799.9 M417.5,791.6 L418.7,792.6 L419.9,793.6 L421.1,794.7 L422.2,795.8 L423.4,796.9 L424.5,798.1 L425.6,799.2 L426.7,800.4 M419.4,796.0 L419.2,797.6 L419.1,799.1 L419.0,800.7 L418.9,802.3 L418.8,803.9 L418.7,805.5 M421.4,800.3 L422.8,801.1 L424.2,801.8 L425.6,802.6 L427.0,803.4 L428.4,804.2 L429.8,805.0 M423.4,804.7 L423.0,806.2 L422.6,807.8 L422.2,809.3 L421.8,810.9 L421.5,812.5 M424.7,807.6 L426.0,808.5 L427.3,809.5 L428.6,810.4 M426.8,811.9 L426.6,813.5 L426.4,815.1 M428.2,814.8 L429.5,815.7 L430.8,816.7" stroke-width="0.79"/>
<path d="M396.3,763.9 L394.9,764.7 L393.5,765.5 L392.1,766.3 L390.8,767.1 L389.4,767.9 L388.0,768.8 M395.1,766.9 L395.5,768.4 L396.0,769.9 L396.4,771.5 L396.8,773.0 L397.2,774.6 M393.3,771.3 L392.1,772.3 L390.9,773.4 L389.6,774.4 L388.4,775.5 L387.3,776.6 M391.5,775.8 L391.8,777.4 L392.0,779.0 L392.2,780.5 M389.8,780.3 L388.6,781.3 L387.4,782.4 M388.0,784.7 L388.2,786.3 L388.4,787.9 M403.8,775.6 L403.0,776.9 L402.2,778.3 L401.5,779.7 L400.7,781.2 L400.0,782.6 L399.4,784.1 L398.8,785.6 M404.2,780.3 L405.3,781.5 L406.4,782.6 L407.5,783.8 L408.6,785.0 L409.7,786.1 L410.8,787.3 L411.9,788.5 L412.9,789.7 M404.6,785.1 L403.9,786.6 L403.3,788.1 L402.7,789.5 L402.2,791.0 L401.6,792.5 L401.1,794.1 L400.6,795.6 M404.8,788.3 L405.9,789.5 L406.9,790.8 L407.9,792.0 L408.9,793.3 L409.9,794.5 L410.8,795.8 L411.7,797.2 M405.1,791.5 L404.4,792.9 L403.8,794.4 L403.2,795.9 L402.7,797.4 M405.5,796.3 L406.3,797.7 L407.1,799.0 L407.9,800.4 L408.7,801.8 M405.9,801.1 L405.3,802.6 L404.8,804.1 M406.3,805.8 L407.4,807.0 L408.5,808.2 M410.8,766.0 L410.7,767.6 L410.7,769.2 L410.6,770.8 L410.6,772.4 L410.6,774.0 L410.6,775.6 L410.7,777.2 M413.1,770.2 L414.6,770.9 L416.0,771.5 L417.5,772.2 L418.9,772.9 L420.4,773.6 L421.8,774.3 L423.2,775.0 L424.7,775.7 M415.4,774.4 L415.1,776.0 L414.8,777.5 L414.6,779.1 L414.4,780.7 L414.2,782.3 L414.1,783.9 L414.0,785.5 M417.7,778.6 L419.1,779.4 L420.5,780.2 L421.8,781.0 L423.2,781.8 L424.6,782.6 L425.9,783.5 M419.1,781.5 L419.1,783.1 L419.1,784.7 L419.2,786.3 L419.3,787.9 M421.3,785.7 L422.7,786.5 L424.1,787.4 M423.4,790.0 L423.5,791.6 L423.6,793.2" stroke-width="0.72"/>
<path d="M382.6,764.1 L381.0,764.1 L379.4,764.2 L377.8,764.3 M378.4,766.5 L377.6,767.8 L376.7,769.2 M388.6,769.7 L389.6,771.0 L390.6,772.3 M388.9,772.9 L388.0,774.3 L387.2,775.6 M381.3,769.8 L379.7,769.6 L378.1,769.3 M382.4,776.2 L383.2,777.6 L383.9,779.0 M382.1,779.4 L381.2,780.7 L380.3,782.1 M376.3,778.2 L374.7,778.4 L373.1,778.6 M376.9,784.2 L377.3,785.8 L377.6,787.4 M372.5,785.4 L370.9,785.6 L369.3,785.7 M373.4,787.9 L374.1,789.3 L374.9,790.6 M393.7,784.4 L392.2,785.0 L390.7,785.5 L389.2,786.1 M390.9,788.3 L391.0,789.9 L391.1,791.5 M399.4,787.5 L400.5,788.6 L401.6,789.8 L402.8,790.9 M400.4,790.5 L400.1,792.1 L399.8,793.7 M401.3,793.6 L402.5,794.6 L403.7,795.7 M393.0,792.5 L391.4,792.9 L389.9,793.3 M389.9,796.2 L389.8,797.7 L389.7,799.3 M398.6,796.6 L400.1,797.3 L401.6,797.9 M400.0,799.5 L399.9,801.1 L399.8,802.7 M401.3,802.4 L402.7,803.2 L404.1,803.9 M392.2,800.5 L390.7,801.0 L389.1,801.5 M396.9,806.1 L398.2,807.0 L399.5,807.9 M390.2,809.7 L388.6,809.9 L387.1,810.2 M394.5,812.6 L395.8,813.5 L397.1,814.4 M390.4,816.9 L388.8,817.4 L387.3,818.0 M410.3,781.8 L409.2,783.0 L408.2,784.2 L407.2,785.5 M410.3,785.0 L411.2,786.2 L412.2,787.6 M419.3,784.3 L420.9,784.7 L422.4,785.2 L423.9,785.7 L425.4,786.2 M421.8,786.3 L422.6,787.7 L423.4,789.1 L424.2,790.5 M425.5,789.3 L427.1,789.8 L428.6,790.2 M412.5,787.7 L411.6,789.0 L410.7,790.3 L409.8,791.6 M412.7,792.5 L413.7,793.7 L414.7,794.9 M413.1,795.6 L412.6,797.2 L412.1,798.7 M419.4,788.0 L421.0,788.4 L422.5,788.8 M415.0,793.5 L413.9,794.8 L412.9,796.0 M414.6,798.3 L415.2,799.8 L415.8,801.3 M421.1,794.7 L422.7,794.9 L424.2,795.2 M424.5,798.1 L424.8,799.6 L425.0,801.2 M419.0,800.7 L418.0,802.0 L417.0,803.3 M425.6,802.6 L427.2,802.3 L428.8,802.1 M428.4,804.2 L429.1,805.6 L429.9,807.0 M422.2,809.3 L421.0,810.4 L419.8,811.5 M427.3,809.5 L428.9,809.5 L430.5,809.5" stroke-width="0.57"/>
<path d="M392.1,766.3 L390.5,766.4 L388.9,766.6 M396.0,769.9 L397.0,771.2 L398.1,772.4 M389.6,774.4 L388.0,774.6 L386.4,774.7 M392.0,779.0 L392.9,780.2 L393.9,781.5 M388.6,781.3 L387.0,781.5 L385.4,781.8 M401.5,779.7 L400.2,780.7 L398.9,781.6 M399.4,784.1 L399.7,785.7 L400.0,787.2 M408.6,785.0 L410.2,785.3 L411.7,785.6 M411.9,788.5 L412.2,790.1 L412.5,791.6 M402.7,789.5 L401.6,790.7 L400.4,791.8 M401.1,794.1 L401.3,795.6 L401.5,797.2 M408.9,793.3 L410.4,793.7 L412.0,794.1 M403.2,795.9 L401.9,796.8 L400.6,797.8 M407.9,800.4 L409.3,801.2 L410.7,802.1 M405.3,802.6 L404.1,803.6 L403.0,804.7 M410.6,770.8 L409.9,772.2 L409.2,773.6 M410.6,775.6 L411.4,777.0 L412.1,778.4 M418.9,772.9 L420.5,772.8 L422.1,772.7 M423.2,775.0 L424.0,776.4 L424.8,777.8 M414.6,779.1 L413.6,780.3 L412.5,781.5 M414.1,783.9 L414.8,785.3 L415.4,786.8 M421.8,781.0 L423.4,780.9 L425.0,780.8 M424.6,782.6 L425.3,784.1 L426.2,785.4 M419.2,786.3 L418.6,787.7 L418.0,789.2" stroke-width="0.52"/>
</g>
<g id="kin-cmgc" stroke="#c9c48a">
<path d="M366.3,728.5 L365.2,727.4 L364.1,726.2 L363.0,725.0 L361.9,723.9 L360.8,722.7 L359.8,721.5 L358.7,720.3 L357.7,719.0 L356.7,717.8 L355.7,716.5 L354.7,715.3 L353.7,714.0 L352.7,712.7 L351.8,711.5 L350.8,710.2 L349.9,708.9 L349.0,707.6 L348.1,706.2 L347.2,704.9 L346.3,703.6 L345.5,702.2 L344.6,700.8 L343.8,699.5 L343.0,698.1 L342.2,696.7 L341.5,695.3 M366.3,728.5 L365.0,729.5 L363.8,730.5 L362.5,731.5 L361.3,732.4 L360.0,733.4 L358.7,734.4 L357.5,735.4 L356.2,736.4 L355.0,737.4 L353.7,738.4 L352.5,739.4 L351.2,740.4 L350.0,741.4 L348.7,742.4 L347.5,743.4 L346.2,744.4 L345.0,745.4 L343.7,746.4 L342.5,747.4 L341.2,748.4 L340.0,749.4 L338.7,750.4 L337.5,751.4 L336.2,752.4 L335.0,753.4 L333.7,754.3 L332.5,755.3 L331.2,756.4 L330.0,757.4 L328.7,758.4 L327.5,759.4" stroke-width="1.1"/>
<path d="M366.3,728.5 L364.7,728.4 L363.1,728.3 L361.5,728.2 L359.9,728.1 L358.3,728.0 L356.7,727.9 L355.1,727.8 L353.5,727.7 L351.9,727.6 L350.3,727.5 L348.7,727.5 L347.1,727.4 L345.5,727.3 L343.9,727.2 L342.3,727.2 L340.7,727.1 L339.1,727.0 L337.5,726.9 L335.9,726.9 L334.3,726.8 L332.7,726.7 L331.1,726.6 M366.3,728.5 L364.7,728.9 L363.2,729.3 L361.6,729.6 L360.1,730.0 L358.5,730.4 L357.0,730.8 L355.4,731.1 L353.9,731.5 L352.3,731.9 L350.7,732.2 L349.2,732.6 L347.6,733.0 L346.1,733.3 L344.5,733.7 L343.0,734.1 L341.4,734.4 L339.8,734.8 L338.3,735.2 L336.7,735.6 L335.2,735.9 L333.6,736.3 L332.1,736.6 L330.5,737.0 L328.9,737.4 L327.4,737.7 L325.8,738.1 L324.3,738.4 L322.7,738.8" stroke-width="1.0"/>
<path d="M360.0,731.0 L358.6,731.7 L357.1,732.4 L355.7,733.1 L354.2,733.8 L352.8,734.5 L351.4,735.2 L349.9,735.9 L348.5,736.6 L347.0,737.3 L345.6,738.0" stroke-width="0.8"/>
<path d="M356.7,717.8 L356.3,716.2 L355.9,714.7 L355.6,713.1 L355.2,711.6 L354.7,710.0 L354.3,708.5 L353.8,707.0 M353.7,714.0 L352.2,713.4 L350.7,712.8 L349.3,712.2 L347.8,711.6 L346.3,711.1 M350.8,710.2 L350.5,708.6 L350.1,707.1 L349.7,705.5 L349.3,704.0 L348.8,702.4 L348.3,700.9 M348.1,706.2 L346.6,705.6 L345.2,704.9 L343.7,704.2 L342.3,703.5 M345.5,702.2 L345.7,700.6 L345.8,699.0 M343.0,698.1 L341.6,697.5 L340.1,696.9 M352.5,739.4 L350.9,739.5 L349.3,739.6 L347.7,739.8 L346.1,740.0 L344.5,740.1 L342.9,740.3 L341.3,740.5 M350.0,741.4 L349.5,742.9 L349.0,744.4 L348.5,746.0 L348.0,747.5 L347.4,749.0 L346.8,750.4 L346.2,751.9 L345.6,753.4 L344.9,754.8 M346.2,744.4 L344.6,744.4 L343.0,744.5 L341.4,744.5 L339.8,744.5 L338.2,744.6 L336.6,744.7 M342.5,747.4 L341.9,748.9 L341.4,750.4 L340.8,751.9 L340.1,753.3 M338.7,750.4 L337.1,750.6 L335.6,750.9 L334.0,751.1 L332.4,751.5 L330.8,751.8 M336.2,752.4 L335.7,753.9 L335.2,755.4 L334.7,756.9 L334.2,758.4 M332.5,755.3 L330.9,755.7 L329.3,756.0 M330.0,757.4 L329.3,758.8 L328.6,760.3" stroke-width="0.79"/>
<path d="M353.5,727.7 L352.3,726.6 L351.2,725.5 L350.0,724.5 L348.8,723.4 L347.6,722.3 M348.7,727.5 L347.3,728.2 L345.9,729.0 L344.5,729.7 L343.0,730.4 M343.9,727.2 L342.7,726.3 L341.4,725.3 L340.1,724.4 L338.8,723.4 L337.5,722.5 M339.1,727.0 L337.9,728.0 L336.5,728.9 L335.2,729.8 M334.3,726.8 L333.2,725.7 L332.0,724.6 M352.3,731.9 L350.8,731.3 L349.3,730.7 L347.9,730.1 L346.4,729.5 L344.9,728.8 L343.4,728.2 L342.0,727.6 L340.5,727.0 L339.0,726.4 L337.5,725.8 M347.6,733.0 L346.5,734.1 L345.3,735.2 L344.2,736.3 L343.0,737.4 L341.8,738.4 L340.6,739.5 L339.3,740.5 M344.5,733.7 L343.0,733.3 L341.4,732.9 L339.9,732.6 L338.3,732.2 L336.7,731.8 M339.8,734.8 L338.7,735.9 L337.5,737.0 L336.3,738.0 L335.1,739.1 M336.7,735.6 L335.2,735.1 L333.7,734.6 L332.1,734.2 M332.1,736.6 L331.0,737.8 L329.9,739.0 L328.7,740.1 L327.6,741.2 M327.4,737.7 L325.8,737.4 L324.2,737.0" stroke-width="0.72"/>
<path d="M354.2,733.8 L352.7,733.5 L351.1,733.3 L349.5,733.1 M349.9,735.9 L349.1,737.3 L348.3,738.6" stroke-width="0.58"/>
<path d="M355.6,713.1 L356.2,711.6 L356.7,710.1 L357.2,708.6 M354.3,708.5 L353.2,707.3 L352.2,706.1 M349.3,712.2 L347.7,712.4 L346.1,712.5 M349.7,705.5 L350.0,703.9 L350.2,702.3 M348.8,702.4 L347.6,701.5 L346.3,700.5 M343.7,704.2 L342.2,704.6 L340.6,704.9 M345.7,700.6 L346.5,699.3 L347.3,697.9 M347.7,739.8 L346.2,739.2 L344.7,738.7 M342.9,740.3 L341.7,741.3 L340.4,742.3 M348.0,747.5 L348.2,749.0 L348.4,750.6 M346.8,750.4 L345.5,751.3 L344.2,752.2 M341.4,744.5 L340.0,743.7 L338.6,742.9 M340.8,751.9 L341.1,753.4 L341.3,755.0 M334.0,751.1 L332.6,750.4 L331.2,749.6 M335.2,755.4 L335.7,756.9 L336.1,758.5" stroke-width="0.57"/>
<path d="M351.2,725.5 L350.7,724.0 L350.1,722.5 M344.5,729.7 L343.7,731.1 L343.0,732.5 M340.1,724.4 L339.7,722.8 L339.3,721.3 M336.5,728.9 L336.1,730.4 L335.6,732.0 M346.4,729.5 L345.6,728.1 L344.8,726.7 L344.0,725.3 M342.0,727.6 L340.4,728.0 L338.9,728.4 M343.0,737.4 L342.8,739.0 L342.6,740.6 M341.4,732.9 L340.2,731.9 L339.0,730.9 M336.3,738.0 L336.0,739.6 L335.6,741.2 M333.7,734.6 L332.6,733.4 L331.6,732.2 M329.9,739.0 L329.6,740.6 L329.3,742.1" stroke-width="0.52"/>
</g>
</g>
<g fill="#c9161d" stroke="#a01218" stroke-width="0.5">
<circle cx="324.9" cy="649.5" r="3.0"/>
<circle cx="329.3" cy="644.2" r="2.4"/>
<circle cx="334.6" cy="656.9" r="4.6"/>
<circle cx="335.2" cy="661.5" r="4.6"/>
<circle cx="330" cy="668.5" r="5.8"/>
<circle cx="336.5" cy="665.7" r="5.0"/>
<circle cx="348" cy="666.8" r="5.0"/>
<circle cx="370" cy="679.5" r="5.5"/>
<circle cx="379.6" cy="654.2" r="4.6"/>
<circle cx="387.7" cy="648.8" r="4.6"/>
<circle cx="394.2" cy="655" r="5.0"/>
<circle cx="385.9" cy="654.2" r="4.6"/>
<circle cx="352.6" cy="638.5" r="1.5"/>
<circle cx="354.7" cy="648.2" r="1.5"/>
<circle cx="356.5" cy="642" r="1.0"/>
<circle cx="377.8" cy="634.5" r="1.0"/>
<circle cx="343.8" cy="678.8" r="1.2"/>
<circle cx="334.6" cy="676.5" r="1.5"/>
<circle cx="405" cy="681.8" r="2.8"/>
<circle cx="344.3" cy="707.7" r="2.2"/>
<circle cx="366.5" cy="728.5" r="2.0"/>
<circle cx="394.2" cy="690.4" r="1.0"/>
<circle cx="328.8" cy="654.6" r="1.5"/>
<circle cx="414.7" cy="739" r="2.0"/>
</g>
<g fill="#4a1212"><circle cx="422.3" cy="754.2" r="0.9"/><circle cx="438.5" cy="765.7" r="0.9"/><circle cx="451.2" cy="765" r="0.9"/><circle cx="465" cy="763.4" r="0.9"/><circle cx="429.3" cy="769.2" r="0.9"/><circle cx="432" cy="689" r="0.9"/><circle cx="433" cy="676" r="0.9"/><circle cx="425" cy="726" r="0.9"/><circle cx="436" cy="731" r="0.9"/><circle cx="403" cy="773" r="0.9"/><circle cx="359" cy="764" r="0.9"/><circle cx="350" cy="757" r="0.9"/><circle cx="337" cy="689" r="0.9"/><circle cx="329" cy="766" r="0.9"/><circle cx="374" cy="754" r="0.9"/><circle cx="370" cy="744" r="0.9"/></g>
<ellipse cx="383" cy="642.6" rx="5.4" ry="4.6" fill="#2a3a9c"/>
<text x="319.50" y="662.08" font-size="6.6" text-anchor="start" fill="#3f76a8" stroke="#3f76a8">TK</text>
<text x="430.50" y="659.38" font-size="6.6" text-anchor="start" fill="#3f76a8" stroke="#3f76a8">TKL</text>
<text x="455.80" y="684.68" font-size="6.6" text-anchor="start" fill="#3f76a8" stroke="#3f76a8">STE</text>
<text x="317.30" y="717.68" font-size="6.6" text-anchor="start" fill="#3f76a8" stroke="#3f76a8">CMGC</text>
<text x="448.00" y="733.18" font-size="6.6" text-anchor="start" fill="#3f76a8" stroke="#3f76a8">CK1</text>
<text x="451.00" y="789.38" font-size="6.6" text-anchor="start" fill="#3f76a8" stroke="#3f76a8">AGC</text>
<text x="402.00" y="816.58" font-size="6.6" text-anchor="start" fill="#3f76a8" stroke="#3f76a8">CAMK</text>
</g>
</svg>
</div>
</body>
</html>
